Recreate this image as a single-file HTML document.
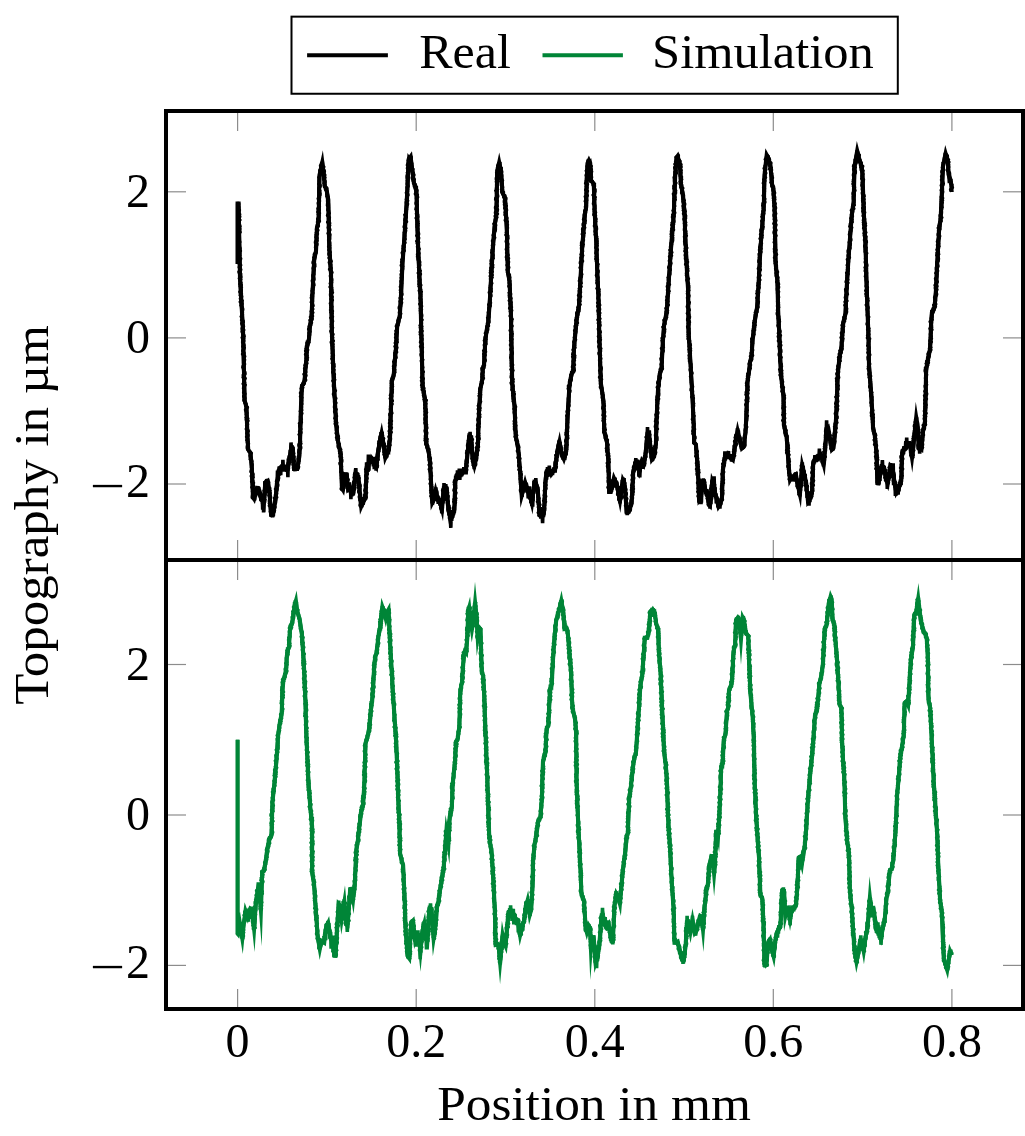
<!DOCTYPE html>
<html><head><meta charset="utf-8"><style>html,body{margin:0;padding:0;background:#fff;}svg{display:block;}</style></head>
<body><svg width="1025" height="1136" viewBox="0 0 1025 1136">
<rect width="1025" height="1136" fill="#fff"/>
<g stroke="#8c8c8c" stroke-width="1.2" fill="none"><line x1="237.6" y1="113" x2="237.6" y2="131"/><line x1="237.6" y1="540" x2="237.6" y2="558"/><line x1="237.6" y1="562" x2="237.6" y2="580"/><line x1="237.6" y1="989" x2="237.6" y2="1007"/><line x1="416.2" y1="113" x2="416.2" y2="131"/><line x1="416.2" y1="540" x2="416.2" y2="558"/><line x1="416.2" y1="562" x2="416.2" y2="580"/><line x1="416.2" y1="989" x2="416.2" y2="1007"/><line x1="594.8" y1="113" x2="594.8" y2="131"/><line x1="594.8" y1="540" x2="594.8" y2="558"/><line x1="594.8" y1="562" x2="594.8" y2="580"/><line x1="594.8" y1="989" x2="594.8" y2="1007"/><line x1="773.3" y1="113" x2="773.3" y2="131"/><line x1="773.3" y1="540" x2="773.3" y2="558"/><line x1="773.3" y1="562" x2="773.3" y2="580"/><line x1="773.3" y1="989" x2="773.3" y2="1007"/><line x1="951.9" y1="113" x2="951.9" y2="131"/><line x1="951.9" y1="540" x2="951.9" y2="558"/><line x1="951.9" y1="562" x2="951.9" y2="580"/><line x1="951.9" y1="989" x2="951.9" y2="1007"/><line x1="168" y1="191.8" x2="186" y2="191.8"/><line x1="1003" y1="191.8" x2="1021" y2="191.8"/><line x1="168" y1="337.9" x2="186" y2="337.9"/><line x1="1003" y1="337.9" x2="1021" y2="337.9"/><line x1="168" y1="484.0" x2="186" y2="484.0"/><line x1="1003" y1="484.0" x2="1021" y2="484.0"/><line x1="168" y1="664.5" x2="186" y2="664.5"/><line x1="1003" y1="664.5" x2="1021" y2="664.5"/><line x1="168" y1="815.0" x2="186" y2="815.0"/><line x1="1003" y1="815.0" x2="1021" y2="815.0"/><line x1="168" y1="965.4" x2="186" y2="965.4"/><line x1="1003" y1="965.4" x2="1021" y2="965.4"/></g>
<path d="M237.6 264L237.6 203.5 238.6 203.5 240 277.3 243 330 243.8 365.2 244.7 400.4 246.5 407.4 247.4 435.6 248.2 449.7 250.5 453.2 251.8 467.3 253 497.2 254.1 498.9 256.9 488 258.5 488.3 259.4 491.6 261 496.8 262 499.9 263.8 503.9 265.3 483.1 267.6 481.3 269.4 491.9 271.1 514.8 272.9 514.8 274.5 504.8 275.1 502.8 277.3 481.3 279 470.8 280.6 467.7 282.2 467.6 283.7 468.1 285.2 467.6 286.4 469.7 287.8 469.3 289.2 460.2 291.5 447.1 292.8 447.9 294 469 297.2 469 299.3 456.7 300.1 439.1 301 405.7 301.9 386.3 304.5 381 306.3 359.9 306.8 347.6 309 338.8 309.8 328 311.6 316 312.5 293 314.2 259.7 316 250.9 316.9 228 318.6 221 319.5 175.2 322.3 162.4 323.9 175.2 324.9 186.9 326.3 188.3 328.3 199.8 329.2 245.6 331 273.7 331.8 330 333.6 377.5 336.2 425 338 440.9 340.6 453.2 342 488.4 342.1 488.4 343 489.9 345.5 474.2 346.7 474.3 348.1 488.6 349.8 486.5 352 493.7 353.2 493.6 355.5 472.9 356.7 474.3 358.5 479.6 361.2 506.5 362.9 502.4 365.5 497.2 366.7 467.3 368.4 463.9 369.6 462.2 371.2 458.3 372.9 461.3 374.3 463.3 376.3 466.7 377.8 453.2 379.6 442.6 381.6 433.2 383.6 444.4 385.3 457.7 387.2 453.2 388.9 449.7 390.1 435.6 391 407.4 391.9 381 393.7 375.7 394.5 365.2 396 347.6 397.2 326.5 399.8 316 401.2 291.3 402.5 263.2 404.2 240.3 406 213.9 407.7 184 408.6 159.4 410.6 156.6 412.5 171.7 413.9 183 415.1 185.1 416.5 192.8 417.4 228 418.8 263.2 420.6 298.4 421.2 330 422.7 386.3 425.3 400.4 426.2 442.6 428.9 453.2 430.1 463.7 431.2 484.8 432.3 502.7 433.3 500.7 435.6 490.6 438 499.7 439.7 500.2 442 509.1 443.8 488.4 446.5 488.4 448.2 506 450.4 520.2 452.3 516.5 454.4 509.5 455.3 481.3 455.9 479.6 457.7 474.2 459.8 476 461.5 473.9 462.6 471 464.2 470.2 465.7 470.7 467.3 456.7 469.1 437.3 471.2 437.3 472.6 458.5 474.4 465.8 476.1 458.5 477.9 444.4 479.1 409.2 480.5 388.1 482.3 379.3 482.8 368.7 484 365.2 485.3 340.6 486.7 330 488.4 321.2 490.2 294.8 491.1 277.3 492.8 249.1 494.6 226.2 496.4 213.9 497.2 171.7 499.2 162.5 501.1 171.7 502.5 192.8 505.1 198.1 506.9 231.5 507.8 272 509.5 280.8 511 316 512.2 382.8 514.5 405.7 515.7 435.6 518.3 449.7 520.1 470.8 521.7 495.6 522.7 491.9 525.1 482.5 527.6 491.5 529.3 492.5 531.9 503.2 534.5 482.4 535.9 483.1 537.7 488.4 539.5 514.8 542.1 516.5 543.9 513 545.6 479.6 546.9 470.8 549.1 469 551.1 474.1 553.3 470.4 555 470 557.1 453.2 559.5 441.9 561.5 453.2 563.9 459 566.2 451.4 568 409.2 569.4 386.3 571.1 375.7 573.2 370.5 574 347.6 577 316 578.8 308.9 580.2 284.3 582.3 245.6 585 213.9 586.2 206.9 586.7 178.7 587.6 162.9 588.9 160.2 590.2 162.9 591.1 180.5 593.8 184 594.6 210.4 596.4 245.6 597.3 272 598.5 298.4 599.2 330 600.8 382.8 603.4 400.4 604.3 432 607 442.6 608.4 462 609.1 491.9 610.8 491.9 613.9 478.1 616.3 483.6 617.2 486.4 620 500.6 622.9 480 624.5 483.1 626.7 511.2 629.8 509.5 631.6 502.4 633.3 470.8 635.9 461.8 637.7 463.7 639.6 470.8 641.9 461.3 643.7 464.4 645.3 456.7 647.4 433.8 648.8 433.8 651.9 459.5 654.1 456.7 655.9 444.4 656.6 418 658 389.8 659.7 374 661.5 368.7 662.9 340.6 664.1 324.8 665.9 316 667.1 307.2 668.5 284.3 671.2 245.6 673.8 213.9 675.2 175.2 676.5 157.6 677.6 156.1 680 164.6 680.9 184 682.6 192.8 684.4 210.4 685.3 236.8 687 272 688.2 291.3 688.5 330 690.6 365.2 692.4 397 693.6 421.5 694.2 442.6 695.9 444.4 697 458.5 698.2 476 699.1 500.7 701.2 500.7 701.7 481.3 704 481.3 705.4 490.4 706.9 491.5 708.8 504.2 710 505.6 712.3 480.9 714 484.8 715.3 494.2 716.2 496.7 718.5 506.7 720.2 504.2 722 497.2 722.8 470.8 724.6 458.5 726.4 456.7 727.9 454.1 729.7 456.5 731.1 458.1 732.9 459.8 734.6 449.7 736 439.1 737.6 430.8 739.5 439.1 741.8 448.2 743.9 446.1 745.7 430.3 746.6 409.2 747.5 381 748.7 374 750.1 361.7 751.5 356.4 752.7 338.8 754.5 323 757.1 307.2 758.6 284.3 759.8 259.7 761.5 233.3 763.8 206.9 764.5 175.2 766.7 155 768.1 157.6 770.3 164.6 772.1 184.7 773.3 187.3 774.7 210.4 775.6 263.2 777.4 280.8 778.3 316 779.1 330 780.9 374 783.5 396.9 783.9 425 786.7 437.3 788.5 463.7 790 479.9 791.9 476.4 793.8 476.2 795.9 474.5 798.5 488.4 799.9 494.5 802.2 465.6 803.5 470.8 806.2 483.1 808 501.4 809.7 498.9 812 491.9 813.2 463.7 814.9 458.7 816.7 459.2 818.7 456.6 820.2 455.5 821.6 456.5 823.7 464.4 825.5 444.4 826.4 428.5 827.9 427.3 829.9 439.1 831.8 449.6 833.4 447.9 834.8 435.6 836.1 418 837.3 388.1 837.8 374 839.6 356.4 841.4 347.6 843.1 323 845.4 314.2 846.6 289.6 848.4 259.7 850.1 236.8 851.9 213.9 853.7 201.6 854.5 166.4 857.2 150.9 858.9 157.6 861.6 166.4 862.5 175.2 863.7 210.4 865.5 245.6 866.5 280.8 867.7 316 868.6 340 869 365.2 870.4 382.8 872.1 409.2 873 426.8 874.8 435.6 876.5 453.2 877.4 483.1 878.6 483.2 881.4 467.4 883 466.9 884.3 468.6 886.2 479.6 887.6 483.3 890.4 465.5 892.4 467.3 894.1 479.6 896.3 492.4 898.5 488.4 901.2 481.3 902.1 453.2 903.8 448.7 905.4 448.3 908 443.4 910 444.4 912 457.4 913.5 444.4 916.2 417.7 917.9 428.5 918.7 447.9 921.4 449.6 923.1 430.3 924.9 423.2 925.8 388 926.1 370.4 928.1 358 928.7 356.4 930.2 347.5 931.1 322.9 931.9 312.5 934.6 307.3 936 289.6 937.2 263.2 939 231.5 940.7 217.5 941.6 198.1 943 166.4 945.6 153.5 947.8 161.1 948.7 175.2 951.3 184 951.6 192" fill="none" stroke="#000" stroke-width="4.1" stroke-linejoin="miter" stroke-miterlimit="60"/>
<path d="M237.6 264L237.6 203.5 238.7 203.5 238.5 204.6 237.7 205.7 238.7 206.8 238.7 207.9 238.5 209 239.4 210.1 238.7 211.2 238.5 212.3 238.1 213.4 239.7 214.5 239.3 215.6 239.8 216.7 238.2 217.8 238.5 218.9 239.9 220 237.9 221.1 237.9 222.2 238.6 223.3 238.7 224.4 239.8 225.5 240.1 226.6 239 227.7 240 228.8 239.8 229.9 239.7 231 240.2 232.1 239.2 233.2 239.3 234.3 238.5 235.5 239.2 236.5 238.9 237.7 239.3 238.7 238.9 239.9 239.4 240.9 239.8 242 238.3 243.2 238.3 244.3 238.6 245.4 239 246.5 239.8 247.6 240.1 248.6 239.9 249.8 240.4 250.8 238.9 252 239.8 253.1 238.8 254.2 239.8 255.3 238.6 256.4 238.9 257.5 240.7 258.6 240.3 259.7 238.8 260.8 239.8 261.9 238.7 263 240 264.1 240.7 265.2 239.5 266.3 239.2 267.4 240.3 268.5 240.8 269.6 240.2 270.7 238.9 271.8 239.3 272.9 240.8 274 240.5 275.1 240.9 276.2 241 277.2 239.4 278.5 240.8 279.5 240.1 280.7 240.4 281.8 241 282.9 239.9 284.1 241.3 285.1 240.2 286.3 241.4 287.3 240.8 288.5 241.3 289.6 241.3 290.7 239.8 291.9 240.2 293 241.4 294.1 240.2 295.3 241.7 296.3 241.4 297.5 240.4 298.6 241 299.7 242.2 300.8 240.3 302 242.1 303.1 242.1 304.2 241 305.4 242 306.4 242.2 307.5 242.7 308.6 242.8 309.8 241.7 310.9 242.5 312 241.8 313.2 242.4 314.3 242.3 315.4 241.2 316.6 242.3 317.7 242.2 318.8 241.6 320 243.2 321 243.3 322.1 241.7 323.3 242 324.4 243.3 325.5 243.5 326.6 242.3 327.8 242 328.9 243.7 330 242 331.1 242.2 332.2 242.8 333.3 243.3 334.4 244 335.5 244.2 336.6 242.2 337.7 243.8 338.8 242.8 339.9 243.8 341 242.6 342.1 243.1 343.2 243.8 344.3 244.1 345.4 242.9 346.5 244.3 347.6 244 348.7 243.3 349.8 242.7 350.9 243.2 352 244 353.1 242.6 354.2 244.2 355.3 244.7 356.4 244.1 357.5 243.8 358.6 244.6 359.7 244.4 360.8 244 361.9 243.6 363 244.6 364.1 244.1 365.2 243 366.3 242.8 367.4 243.5 368.5 243.5 369.6 243.8 370.7 244.8 371.8 245 372.9 245.1 374 243.2 375.1 243.6 376.2 243.1 377.3 245.2 378.4 243.9 379.5 244.2 380.6 243.7 381.7 244.6 382.8 243.2 383.9 245.2 385 244.2 386.1 243.8 387.2 243.5 388.3 243.9 389.4 244 390.5 243.8 391.6 243.6 392.7 244.9 393.8 244.2 394.9 243.7 396 243.8 397.1 244.8 398.2 244 399.3 243.9 400.6 244.8 401.6 245 402.8 245.9 403.8 245.7 405.1 246 406.3 247.4 407.4 246.2 408.5 245.5 409.7 245.8 410.8 246.1 411.9 246.9 413 246.2 414.2 246.6 415.3 246.9 416.4 246.1 417.6 247.8 418.7 246.3 419.8 248 420.9 246.7 422.1 247 423.2 247.6 424.3 246.6 425.5 247.1 426.6 246.9 427.7 246.3 428.9 247.8 429.9 248.3 431.1 247.7 432.2 246.9 433.4 248 434.5 248.1 435.6 246.6 436.8 247.2 438 247.7 439.1 246.8 440.3 248.1 441.5 247.4 442.7 248.5 443.8 248.1 445 247.3 446.2 247.2 447.4 247.3 448.6 248.4 449.6 248.8 451 250.1 451.8 251.3 453.1 250.6 454.4 250 455.6 250.1 456.8 250.5 457.9 250.1 459.2 251.6 460.2 252 461.4 251.5 462.6 252 463.7 252.2 464.9 251.9 466.1 251.5 467.3 251.9 468.4 252.3 469.5 251.2 470.7 250.9 471.8 252.1 472.8 253 473.9 253.1 475 251.3 476.2 253.2 477.2 251.8 478.4 252.1 479.5 252.8 480.6 251.7 481.7 253.5 482.8 253.3 483.9 252.6 485 253.6 486.1 251.9 487.3 253.2 488.3 253.5 489.4 253.7 490.5 252.5 491.7 252.9 492.8 252.6 493.9 252.6 495 252.3 496.1 252.2 497.8 254.5 499 253.8 497.7 254.6 496.7 254.3 495.5 254.2 494.3 255.5 493.4 256.3 492.5 255.4 491.1 255.9 490.1 256.3 489 256.8 488.4 258.4 488.3 258.5 489.5 258.5 490.6 259.6 491.5 259.2 493.1 259.3 494.5 261.5 495.3 260.1 497.1 261 498.5 262.7 499.6 262.5 500.9 262.7 502 262.5 503.3 263.6 503.9 264.1 502.9 264.8 501.8 264.7 500.7 265.1 499.6 264.1 498.5 264.6 497.4 263.7 496.2 264.9 495.2 265.2 494.1 264.9 493 265.2 491.9 264.1 490.7 265.7 489.7 266 488.7 266 487.6 265.1 486.4 265.8 485.3 264.8 484.2 265.9 483.8 266.9 482.8 267.9 481.2 268.7 482.3 268.1 483.6 268.1 484.9 267.8 486.1 268.6 487.2 269.8 488.2 268.3 489.7 270.1 490.6 268.7 491.9 270.2 493 269.9 494.2 269 495.4 270.5 496.4 270.6 497.6 269.9 498.8 269.5 500 269.3 501.1 269.7 502.2 269.3 503.4 270.4 504.5 269.4 505.7 271.4 506.7 271.2 507.9 270.6 509.1 271.2 510.2 270.3 511.4 270.6 512.5 271 513.7 271.1 515.6 273 514.8 272.7 513.6 273 512.5 274.2 511.6 274.5 510.5 273.1 509.2 274.7 508.3 275.1 507.2 274.3 505.9 274.6 504.9 274.5 502.7 275.3 501.7 275.4 500.5 275.7 499.4 274.5 498.2 276.7 497.2 275.8 496 275.7 494.9 276.7 493.8 276.3 492.6 276.2 491.5 276.8 490.4 275.5 489.1 276.7 488.1 276.5 486.9 277.8 485.9 277.9 484.8 276.6 483.5 277.1 482.4 276.5 481.2 277.3 480.1 278.4 479.1 278.7 477.9 278 476.6 277.8 475.4 277.8 474.2 278.9 473.2 279.7 472.1 278.3 470.4 280.1 470.1 279.1 468.3 280.6 467.1 282.4 467 283.9 468.5 285.5 467.4 286 468.5 286.5 470 286.9 469.2 288.5 468.3 287.3 466.9 288.3 465.9 288 464.7 288 463.5 288.9 462.5 288.9 461.3 288.9 460.2 289.2 459.1 289.6 458 289 456.8 289.3 455.7 290.4 454.8 290.6 453.7 290.6 452.6 291.5 451.6 291.2 450.4 291.9 449.4 290.7 448.1 291.2 447.6 292.1 447.9 292 449.1 293.3 450.1 293.4 451.2 292.1 452.4 293.7 453.4 292.1 454.6 292.4 455.7 294.1 456.7 293.9 457.9 292.9 459 294 460.1 294.4 461.2 292.9 462.4 293.9 463.4 293.1 464.6 294.6 465.6 294.1 466.8 293.5 467.9 294 467.9 295.6 468.3 297.6 469.1 298.3 468 298.6 466.9 296.9 465.5 298 464.5 298.7 463.5 298.4 462.3 298.9 461.2 298.1 459.9 298 458.8 298.3 457.7 298.3 456.7 299.5 455.6 299.4 454.5 299.6 453.4 298.7 452.3 298.9 451.2 298.9 450.1 300.4 449 300.8 447.9 300.7 446.8 298.9 445.7 298.9 444.6 300.9 443.5 299.9 442.4 300.6 441.3 299.7 440.2 300 439.1 300.2 438 300 436.9 300.4 435.8 299.1 434.6 300.7 433.5 301 432.4 299.6 431.3 300.2 430.2 300.9 429.1 300.2 428 299.8 426.8 299.7 425.7 300.5 424.6 299.5 423.5 301.4 422.4 301.2 421.3 301.1 420.2 301.4 419.1 301 418 300.5 416.8 300.9 415.7 300.8 414.6 301.9 413.5 301.5 412.4 300.3 411.3 301.8 410.2 301.4 409.1 301.6 407.9 301.7 406.8 300.8 405.7 301.9 404.6 301.9 403.5 301.6 402.3 301.8 401.2 301.8 400 301.1 398.8 301.9 397.7 300.5 396.5 301.1 395.4 301.5 394.3 300.5 393.1 301.3 392 302 390.9 302 389.7 301.2 388.6 302.8 387.5 302.2 386.5 302.1 385.1 303.3 384.3 303.6 383.2 304 382.1 304.3 381 305.7 380 305 378.8 305.2 377.7 305.5 376.6 306 375.5 304 374.2 305.4 373.2 305.8 372.2 304.8 371 305.2 369.9 304.6 368.7 305 367.6 305.5 366.5 304.9 365.4 305.4 364.3 306.9 363.3 306.2 362.1 306.2 361 307.3 359.9 306.5 358.8 307.5 357.7 306.7 356.6 307.2 355.5 305.6 354.3 306.8 353.2 307.2 352.1 305.7 350.9 307.7 349.9 306 348.7 306.7 347.6 306.4 346.3 307.3 345.4 307.9 344.4 307 343 309.1 342.3 308.3 341 308.8 339.9 309.2 338.8 308.8 337.6 308.7 336.4 309.6 335.2 309.5 334 309 332.8 310 331.6 309.2 330.4 308.6 329.1 309.2 327.9 309 326.8 309.4 325.7 310.8 324.8 310.2 323.6 311.5 322.7 311.3 321.5 310 320.2 312.2 319.4 312.2 318.3 310.5 317 312.5 316 311.5 314.8 311.6 313.7 312.8 312.6 311.2 311.4 311.9 310.3 312.8 309.1 312.4 308 311.9 306.8 313.1 305.7 312.7 304.5 312.3 303.4 311.3 302.2 312.5 301.1 312.1 299.9 311.6 298.7 311.3 297.6 312.4 296.5 311.6 295.3 312.3 294.1 312.9 293 312.5 291.9 312.1 290.8 312.9 289.7 312.5 288.6 313.4 287.5 312.9 286.3 314 285.3 313.9 284.2 313.5 283 312.5 281.9 312.3 280.7 314 279.7 313.9 278.6 313.6 277.5 313 276.3 312.9 275.2 313.9 274.2 313.7 273 313.8 271.9 313.9 270.8 314.2 269.7 313.1 268.5 313.3 267.4 314.9 266.4 314.8 265.3 314.8 264.2 313 263 313.1 261.9 313.6 260.8 314 259.7 314.7 258.7 313.8 257.3 315 256.4 314.2 255.1 314.4 254 315.9 253.2 315.9 252 316.3 250.9 315.8 249.7 316 248.6 315.5 247.4 315.8 246.3 316.8 245.2 317 244.1 315.4 242.8 315.5 241.7 317.1 240.6 316.7 239.5 317.1 238.3 315.9 237.1 316.4 236 316.1 234.8 317.4 233.8 316.4 232.6 317.1 231.4 317.9 230.3 316.5 229.1 317 228 317.7 227 318.4 225.9 317.6 224.5 317.8 223.3 317.5 222 319.4 221 317.7 219.9 317.7 218.7 318.8 217.7 318.7 216.5 319.1 215.4 318.3 214.3 319.4 213.2 317.8 212 318.2 210.9 319.2 209.8 317.9 208.7 318.4 207.6 319.4 206.5 319.3 205.4 318.5 204.2 318.2 203.1 318.7 202 319.5 200.9 318.7 199.8 318.2 198.6 319.5 197.6 319.2 196.4 320 195.3 320.1 194.2 320.1 193.1 319 192 319.9 190.9 318.8 189.7 318.8 188.6 319 187.5 320.2 186.4 320.2 185.3 318.8 184.1 319 183 319.1 181.9 319.1 180.8 319.2 179.7 319.2 178.5 318.8 177.4 319.6 176.3 320.1 175.3 319.8 174.1 320.7 173 320.4 171.7 319.8 170.4 321.3 169.5 321.8 168.4 320.8 167 320.5 165.7 321.8 164.7 322.1 163.6 322.1 162.4 321.4 163.7 322.2 164.8 322.1 166 323.8 166.9 322.9 168.2 322.5 169.5 324.2 170.4 324.4 171.6 323.1 172.9 322.9 174.1 324.8 175.1 323.7 176.4 324.9 177.5 323.7 178.7 324 179.9 325 181 325.1 182.1 324 183.4 324.7 184.5 324.2 185.7 325.1 186.7 326.7 188.2 325.5 189.6 326.4 190.6 326.9 191.7 327 192.9 326.8 194.1 327.1 195.3 326.8 196.5 328.1 197.5 327.4 198.8 327.9 199.8 327.5 200.9 327.7 202 327.6 203.2 327.5 204.3 327.4 205.4 328.1 206.5 328.4 207.6 328 208.7 327.8 209.9 328.7 211 328.7 212.1 329.3 213.2 328.1 214.3 327.5 215.5 328.9 216.6 329.4 217.7 329.3 218.8 328.9 219.9 329.2 221 327.7 222.2 329.7 223.2 329.2 224.4 329.7 225.5 328.5 226.6 328.2 227.7 329.6 228.8 329.9 229.9 329 231.1 328.8 232.2 328.1 233.3 330 234.4 329.9 235.5 329.7 236.6 329.7 237.8 329.7 238.9 328.6 240 328.9 241.1 329.7 242.2 329.8 243.4 329.7 244.5 329.9 245.6 328.7 246.8 329.8 247.8 329.3 249 328.8 250.1 329.6 251.2 330.2 252.3 328.9 253.5 328.9 254.7 330.2 255.7 329.8 256.8 329 258 330.1 259.1 330.7 260.2 331.2 261.3 329.3 262.5 329.7 263.6 330.7 264.7 330.4 265.8 330.5 267 331.1 268 329.6 269.3 330.4 270.4 331.4 271.4 332 272.5 331.1 273.7 331.3 274.8 330.4 275.9 330.6 277 330.8 278.1 331.8 279.2 331.8 280.3 331.5 281.4 331.7 282.5 330.3 283.6 331.1 284.7 330.9 285.8 330.1 287 331.7 288 331.1 289.2 332 290.2 330.7 291.4 332.4 292.5 330.6 293.6 330.5 294.7 330.6 295.8 332.2 296.9 331.9 298 330.9 299.1 332.3 300.2 331.4 301.3 331.5 302.4 330.4 303.5 331.2 304.6 330.7 305.7 331.9 306.8 330.8 307.9 331.7 309 330.6 310.1 332.4 311.2 330.8 312.3 332.2 313.4 331.5 314.5 331.5 315.6 332.4 316.7 330.9 317.9 332.1 319 332.1 320.1 332.6 321.2 332.1 322.3 331.8 323.4 331.2 324.5 332 325.6 331.3 326.7 332.6 327.8 332 328.9 331.9 330 330.8 331.1 331.2 332.2 331.6 333.3 333 334.4 332.3 335.5 331.6 336.6 332.7 337.7 332 338.8 332.3 339.9 333.3 341 331.2 342.2 331.6 343.3 333 344.3 332.1 345.5 332.9 346.6 332.7 347.7 332.4 348.8 333 349.9 333 351 332.9 352.1 332.3 353.2 333.3 354.3 333.4 355.4 332.3 356.5 333.2 357.6 331.9 358.8 332.8 359.8 332.5 360.9 333.4 362 332.3 363.2 334 364.2 333.9 365.3 334.1 366.4 332.8 367.6 332.8 368.7 334 369.7 333.6 370.9 332.7 372 333.2 373.1 334.4 374.2 334.1 375.3 334.3 376.4 334.4 377.5 333.9 378.6 334.7 379.7 332.9 380.9 334 381.9 333.9 383 333.6 384.1 333.4 385.3 333.4 386.4 334.4 387.4 334.6 388.5 334.5 389.6 335.4 390.7 334.6 391.8 334 393 333.4 394.1 333.9 395.2 334.3 396.3 334.4 397.4 335.8 398.4 335.2 399.6 335.2 400.7 334.6 401.8 335.9 402.9 335.3 404 335.1 405.1 334.5 406.3 334.5 407.4 335 408.4 336.1 409.5 334.8 410.7 334.6 411.8 335.4 412.9 335.9 413.9 335.7 415.1 336.5 416.1 335.3 417.3 334.8 418.4 335.9 419.5 335.5 420.6 335.3 421.7 336.7 422.8 335.2 423.9 335.9 425 337 426.1 337.4 427.2 337.1 428.3 336.5 429.6 336.4 430.7 337.3 431.8 336.2 433.1 337.5 434.1 337.4 435.2 338.3 436.3 336.6 437.6 338.5 438.5 337 439.9 337.9 440.9 338.1 442 338.3 443.2 339.2 444.1 338.1 445.6 338.1 446.7 338.7 447.8 339.4 448.8 340.7 449.7 339.4 451.1 340.8 452 339.7 453.2 341.2 454.3 340.5 455.4 340 456.5 341.5 457.6 340.7 458.7 341.8 459.8 341.9 460.9 341.7 462 339.9 463.1 340.1 464.2 340.7 465.3 341.5 466.4 340.8 467.5 340.7 468.6 341.5 469.7 341.1 470.8 340.7 471.9 342.5 473 342.1 474.1 341.5 475.2 342.3 476.3 341.8 477.4 341.5 478.5 342.4 479.6 341.7 480.7 342.3 481.8 341.6 482.9 342.2 484 341.6 485.1 342.9 486.2 341.6 487.3 342 487.6 341.2 488.9 343.2 489.9 343.1 488.8 343.1 487.6 343.8 486.6 344.1 485.5 344.4 484.4 344.6 483.2 344.2 482 345.5 481.1 345.3 479.9 345.6 478.8 344.8 477.5 345 476.4 345.5 475.3 345.4 475.1 346.6 474.3 346.8 475.4 347.1 476.5 346.1 477.7 347.5 478.6 348.2 479.7 346.8 480.9 346.6 482.1 347 483.1 347.4 484.2 347.2 485.3 348.3 486.3 347.8 487.5 347.4 487.9 348.3 487 349.9 486.5 350.2 487.7 350.8 488.8 351.8 489.8 350.9 491.4 351.6 492.5 351.9 493.2 352.8 493.6 353.1 492.4 352.9 491.2 352.6 490 354.6 489.1 354.8 488 354.3 486.7 354.9 485.6 354 484.4 355 483.3 353.8 482 355.1 481 354.9 479.8 355.7 478.7 354.1 477.4 355.7 476.4 354.4 475.1 355.4 474 354.7 473.5 357.7 473.9 357.6 475.2 357.8 476.3 358.1 477.4 359.1 478.2 357.6 479.7 357.9 480.8 359 481.8 359.2 482.9 358.8 484.1 360.1 485.1 360.2 486.2 358.4 487.5 359.8 488.5 359.5 489.7 358.7 490.9 358.7 492.1 359.9 493.1 360.6 494.1 360.5 495.3 359.3 496.5 359.4 497.6 361.1 498.6 359.8 499.9 361 500.9 360.8 502 361.6 503.1 360.2 504.4 360 505.5 360.6 506.3 361.9 505.6 361.4 504.2 363.3 503.8 362 502 362.6 501 364.4 500.5 364.1 499.1 365.8 498.6 366.3 497.2 366 496.1 364.8 495 366.1 493.9 366.6 492.8 365.6 491.7 364.8 490.5 365.2 489.4 365.4 488.3 366.4 487.3 365.3 486.1 365.3 485 365.5 483.9 366.4 482.8 366.8 481.7 365.9 480.6 366.6 479.5 367.1 478.4 366.5 477.3 365.7 476.1 366 475 367.4 474 366.8 472.9 366 471.7 366.9 470.6 365.7 469.5 367.7 468.5 366.6 467.2 367.3 466.2 367.9 465.1 367.6 463.4 369.8 462.3 369.7 460.7 370.2 459.4 370.6 458.6 372.6 458.9 372.7 460.1 372.4 461.6 374 462 374.7 463 374.9 464.5 376.2 465.2 377.2 466.8 377.5 465.7 375.5 464.3 376.6 463.3 377.4 462.2 376.7 461 378 460 377.2 458.8 376.6 457.6 377.6 456.6 377.9 455.5 377.4 454.3 378.1 453.3 378.6 452.1 378.2 450.9 378.4 449.7 379.3 448.6 379.2 447.4 379 446.1 380.2 445.1 378.7 443.7 380.2 442.7 379.1 441.3 380.3 440.3 379.8 438.9 380.5 437.8 381.4 436.8 381.7 435.6 382 434.5 382.2 433.1 381.8 434.3 382.6 435.3 382 436.6 382.4 437.7 383.6 438.6 382.6 439.9 382.5 441.1 383 442.2 382.6 443.4 384.3 444.3 384.5 445.4 384.9 446.5 384 447.7 384.3 448.8 384.5 449.9 385 451 384 452.2 385.7 453.1 384 454.5 384.9 455.5 385.1 456.6 385.9 457.9 385.3 456.3 385.6 455.1 386.4 454.2 386.3 452.8 387.4 451.9 388.6 451 389 449.7 388.5 448.5 389.3 447.4 388.3 446.1 390 445.1 388.7 443.8 389 442.6 388.9 441.4 390.1 440.3 390.5 439.2 390.5 438 389 436.7 389.9 435.6 389.8 434.5 389.5 433.3 391.2 432.2 389.2 431.1 390.3 430 390.9 428.9 391.4 427.7 389.6 426.6 390.3 425.4 391 424.3 389.5 423.2 390 422 391.4 421 389.8 419.8 390.4 418.7 390.2 417.5 390.5 416.4 389.8 415.3 389.8 414.1 391.9 413.1 391.4 411.9 391.4 410.8 390.3 409.6 390.4 408.5 391.1 407.4 390.5 406.3 391 405.2 392.1 404.1 390.9 403 390.8 401.9 392.3 400.8 391.5 399.7 390.3 398.6 391.1 397.5 391.7 396.4 390.4 395.3 391.1 394.2 391.9 393.1 392.3 392 391.8 390.9 392.4 389.8 391.6 388.7 391.4 387.6 392.5 386.5 391.5 385.4 392.4 384.3 391.2 383.2 391.5 382.1 391.2 380.8 392.4 380 391.9 378.6 392.4 377.6 392.7 376.6 393.6 375.7 393.4 374.5 393.8 373.4 395 372.3 394.4 371.1 394.9 369.9 393.6 368.7 394.1 367.5 393.5 366.3 394.9 365.2 394.3 364.1 394.2 363 393.7 361.8 394.2 360.7 394.4 359.7 394.8 358.6 396.1 357.6 395.7 356.4 394.8 355.3 395.1 354.2 394.8 353 396.6 352.1 395.4 350.9 396.4 349.8 396.4 348.7 396.9 347.7 395 346.4 395.7 345.4 395.9 344.3 395.3 343.1 397.2 342.1 396 340.9 397 339.9 396.5 338.7 395.6 337.5 396.4 336.5 396.1 335.4 395.7 334.2 396.1 333.1 397.1 332.1 395.9 330.9 396.6 329.8 396.9 328.7 397.2 327.6 396.4 326.3 397.9 325.4 397.3 324 398.5 323.1 398.7 321.9 397.9 320.5 398.3 319.3 398.8 318.2 400 317.3 399.6 316 399.6 314.9 400.7 313.8 399.4 312.6 399.6 311.5 399.8 310.4 399.6 309.2 399.2 308.1 399.3 307 400.7 305.9 400.6 304.8 401.2 303.7 401.6 302.6 400.2 301.4 401.1 300.3 401.7 299.2 400.2 298 401.3 296.9 401.3 295.8 402 294.7 401.9 293.6 400.6 292.4 401.5 291.3 400.4 290.1 401.1 289 401.1 287.9 400.4 286.8 401.2 285.7 401.1 284.5 401.6 283.4 401.1 282.3 400.9 281.1 401.5 280.1 401.7 278.9 401.1 277.8 402.2 276.7 401.4 275.5 401.1 274.4 401.7 273.3 401.9 272.2 401.4 271 402.4 270 402.7 268.8 402.4 267.7 402.8 266.6 401.3 265.4 402.2 264.3 402.2 263.2 401.6 262 402.5 260.9 401.8 259.7 402.8 258.6 403.1 257.5 402.9 256.3 402.7 255.2 402.6 254 402.2 252.8 403 251.7 404.3 250.7 403.7 249.5 403.1 248.3 404.1 247.2 403.1 246 403.8 244.9 404.2 243.8 405 242.7 403.8 241.4 404.4 240.3 405.2 239.3 404.9 238.1 404.7 237 404.8 235.9 404.4 234.8 404.5 233.7 404.2 232.6 405.5 231.5 405.7 230.5 404.7 229.3 405.9 228.3 404.1 227 404.4 225.9 405.3 224.9 404.9 223.8 405.1 222.7 406.5 221.7 404.8 220.4 404.9 219.4 405.1 218.3 406.2 217.2 405.3 216.1 404.8 214.9 406.1 213.9 405.8 212.8 405.6 211.7 406.2 210.6 406.6 209.5 406.4 208.4 406.7 207.3 406.6 206.2 407.2 205.1 407.6 204 406.3 202.8 406.4 201.7 407.6 200.7 406.4 199.5 407.4 198.4 407.4 197.3 407.4 196.2 408.1 195.1 407.8 194 406.4 192.8 407.5 191.8 407.3 190.6 407.5 189.5 407.2 188.4 407 187.3 408.1 186.2 407.7 185.1 407.1 184 407.2 182.9 407.4 181.7 407.1 180.6 407.9 179.5 407.1 178.4 407 177.3 407 176.1 407.2 175 408.5 174 407.3 172.8 408 171.7 408.8 170.6 408.2 169.5 407.5 168.3 409.1 167.3 409.2 166.1 407.4 165 407.9 163.9 408.5 162.8 409.2 161.7 408.3 160.5 409 159.7 408.8 158.1 410.4 157.8 411 156.5 411.2 157.7 410.4 159 410.3 160.2 410.5 161.3 411.2 162.4 411.7 163.5 411.2 164.8 411.5 165.9 411.2 167.1 411.4 168.3 413 169.3 412.6 170.5 412.1 171.7 413.2 172.8 413.5 173.9 414 174.9 412.9 176.2 412.2 177.4 412.3 178.6 414.3 179.5 413.2 180.8 413.9 181.8 413.6 183.1 414.7 183.9 414.2 185.3 414.3 186.4 416.5 187.1 415.3 188.5 416.7 189.4 417.1 190.4 416.8 191.6 416 192.8 415.4 193.9 417.4 195 417 196.1 417.7 197.2 416.5 198.3 416.7 199.4 417 200.5 417.1 201.6 416.1 202.7 416 203.8 417.3 204.9 417.1 206 416.6 207.1 416.3 208.2 415.9 209.3 417.2 210.4 416.6 211.5 416.9 212.6 416.4 213.7 417.8 214.8 417.8 215.9 418 217 416.2 218.1 417.7 219.2 417.2 220.3 418.1 221.4 417.6 222.5 418.3 223.6 417.2 224.7 418.1 225.8 417.1 226.9 417.9 228 418 229.1 417.5 230.2 417.8 231.3 418.1 232.4 418.6 233.5 418.6 234.6 416.8 235.7 418.2 236.8 418.7 237.9 418.5 239 417.9 240.1 416.8 241.2 418.6 242.3 417.2 243.4 418.1 244.5 418.3 245.6 417.5 246.7 418.4 247.8 419.2 248.9 418.2 250 418 251.1 418.1 252.2 418.9 253.3 417.5 254.4 417.7 255.5 417.5 256.6 418.7 257.7 417.9 258.8 418.2 259.9 419.4 261 419.8 262.1 419.5 263.2 419.7 264.3 419.8 265.4 419.3 266.5 418.5 267.6 419.5 268.7 419.1 269.8 420.3 270.8 419.9 272 418.3 273.2 420.4 274.1 419.4 275.3 418.8 276.4 418.9 277.5 419.1 278.6 419.9 279.7 419 280.8 419 281.9 419.2 283 418.8 284.2 420.8 285.2 419 286.4 420.3 287.4 419.6 288.5 420.7 289.6 419.3 290.7 421.3 291.7 420.1 292.9 421 294 420.7 295.1 420.8 296.2 420.2 297.3 419.9 298.4 420.9 299.5 420.3 300.7 421 301.8 421.2 302.9 419.8 304.1 421.1 305.2 421.6 306.3 421.1 307.4 420.3 308.6 421.4 309.7 420.3 310.8 420.8 311.9 420.5 313.1 421.6 314.2 421.8 315.3 421.7 316.4 421.3 317.6 421.1 318.7 422.1 319.8 421 321 421.3 322.1 421.5 323.2 421 324.4 420.1 325.5 421.8 326.6 420.3 327.8 421.6 328.9 420.6 330 422.1 331.1 420.2 332.2 421.4 333.3 420.3 334.4 422 335.5 421.6 336.6 421 337.7 422.1 338.8 422 339.9 421.1 341 420.5 342.2 421.9 343.2 422.3 344.3 421.9 345.4 420.6 346.6 422.4 347.6 421.4 348.8 422 349.9 421.4 351 422.4 352.1 421.6 353.2 421 354.3 421.1 355.4 421.6 356.5 421.9 357.6 421.8 358.7 422.8 359.8 421.3 360.9 421.6 362 422.2 363.1 421.7 364.2 422.3 365.3 422.4 366.4 422.8 367.5 422 368.6 422.1 369.7 422.3 370.8 423.3 371.9 422.1 373.1 422.5 374.2 422.2 375.3 422.2 376.4 421.5 377.5 423.3 378.6 422.6 379.7 421.5 380.8 422.1 381.9 423 383 422.1 384.1 421.6 385.2 422.9 386.3 422.1 387.5 423.9 388.3 422.2 389.7 423.5 390.6 424.3 391.6 423.2 392.9 423.8 394 423.4 395.2 423.8 396.2 424.1 397.3 424.9 398.2 424 399.5 426.3 400.4 424.5 401.5 424.9 402.6 425.9 403.7 424.7 404.9 425.5 406 425.4 407.1 424.7 408.2 426.2 409.3 426 410.4 425.2 411.5 426.5 412.6 425.5 413.7 425 414.9 425.7 415.9 426.2 417 425 418.2 424.9 419.3 425.1 420.4 425.6 421.5 424.9 422.6 425.1 423.7 426.6 424.8 426.1 425.9 426.7 427 426.9 428.1 426.3 429.3 425.1 430.4 425.2 431.5 426.8 432.6 426.7 433.7 426.3 434.8 425.3 436 425.8 437.1 425.2 438.2 427.1 439.2 425.1 440.4 426.8 441.5 425.9 442.7 425.7 444 426.3 445.1 427.7 446 427 447.4 427.8 448.5 429 449.4 428.6 450.8 429 451.9 428.6 453.2 429.5 454.3 428.9 455.6 428.9 456.7 430.1 457.8 430.4 458.9 429.3 460.2 429.9 461.4 430.8 462.4 430.9 463.7 429.2 464.9 430 465.9 430.6 467 431 468.1 429.3 469.3 430 470.4 430 471.5 430.9 472.6 431 473.7 430.9 474.8 431.5 475.9 430.5 477 431 478.1 430.2 479.3 431.2 480.3 431.1 481.5 431.1 482.6 430.2 483.7 431.5 484.8 430.8 485.9 431.9 487 431.2 488.2 432 489.3 430.7 490.5 432.1 491.5 430.9 492.7 431.4 493.8 431.9 494.9 430.9 496.1 432.2 497.1 431.5 498.3 431.9 499.4 432.3 500.5 433.2 501.5 432.2 502.6 432.4 501.5 433.2 500.7 434.5 499.8 433.4 498.4 434.5 497.4 434.7 496.3 434 495 434.6 494 434.3 492.7 436.2 492 436.1 490.5 436 491.7 436.5 492.8 435.8 494.2 436 495.4 436.9 496.4 437.3 497.5 438.5 498.4 437.7 500.6 440.6 500 440.3 501.3 440.5 502.4 440.1 503.7 440.5 504.8 441.5 505.7 440.6 507.1 440.7 508.2 440.9 509 442.4 508 442.1 506.8 442 505.6 442.3 504.5 442.1 503.3 443 502.2 442.9 501.1 443.8 500 443.9 498.8 444.1 497.7 442.9 496.4 443.9 495.4 443.6 494.2 443.8 493 444.6 491.9 442.6 490.6 443.6 489.5 443.8 488.2 445.1 488.7 447.1 488.3 445.5 489.6 447.3 490.5 447.1 491.7 447.7 492.7 447.3 493.9 446.6 495.1 448.2 496 448.1 497.1 447.1 498.3 447.3 499.4 447.1 500.6 448.3 501.5 447.2 502.8 447.5 503.8 447.5 505 449 505.9 448.4 507.1 449.6 508 447.9 509.4 447.9 510.5 448.2 511.6 450.3 512.4 449.7 513.6 449.5 514.8 449.7 515.8 450.7 516.8 449.4 518.1 450.7 519 450.4 520.2 450.3 518.6 451.8 517.8 451.5 516.3 451.8 515.1 453 514.2 452.9 512.9 454.3 512 453.5 510.5 454.2 509.5 453.5 508.3 453.9 507.2 454.4 506.1 454.7 505 454.5 503.9 455.4 502.8 453.8 501.6 455.5 500.5 454 499.3 455.8 498.3 454.9 497.1 454.6 496 455.1 494.8 455.7 493.7 456 492.6 454.8 491.4 453.9 490.3 454.3 489.2 455.8 488.1 455.6 487 455.6 485.8 454.4 484.7 455.3 483.6 454.2 482.4 454.5 481 455.5 479.5 457.2 478.9 456.9 477.6 457.7 476.6 456.4 475 457.8 474.1 459.3 474.4 459.4 475.6 460 474.4 462.3 474.3 461.7 472.3 462.6 471 464 470.5 466.5 470.8 466.8 469.6 466.1 468.4 466.1 467.2 467.1 466.1 466.1 464.8 466 463.6 467.1 462.6 466.2 461.3 466.6 460.2 466.9 459 467.1 457.9 467 456.7 467.3 455.5 467.4 454.4 466.6 453.2 468.5 452.2 466.9 450.9 468 449.9 468.1 448.7 467.9 447.6 467.6 446.4 467.5 445.2 468.2 444.1 468.2 443 468.6 441.9 468.2 440.7 469.4 439.6 469 438.4 469.1 436.2 471.4 437.3 470.3 438.5 472.4 439.5 471.2 440.7 470.5 441.8 471.9 442.9 471.4 444 472 445.1 472.2 446.2 471.6 447.4 471.7 448.5 472.4 449.5 472.1 450.7 472.1 451.8 471.7 453 473.3 454 473.3 455.1 473 456.2 473 457.4 472 458.7 473.1 459.7 472.4 461.1 473.7 462.1 474.2 463.3 473.7 464.7 473.5 465.6 475.7 464.8 475.7 463.5 474.9 462.1 475.1 460.8 476.5 459.9 476.7 458.6 476.6 457.4 475.4 456 477.1 455 475.7 453.7 477.1 452.7 477.1 451.5 478.1 450.4 477.6 449.1 476.4 447.8 478.5 446.9 478.3 445.6 478.1 444.4 476.9 443.3 478.5 442.2 477.8 441.1 478.4 440 479.2 438.9 479 437.8 477.2 436.7 478.8 435.6 478.1 434.5 478.8 433.4 478 432.3 478.2 431.2 478.2 430.1 477.6 429 478.1 427.9 479 426.8 477.6 425.7 477.7 424.6 479.3 423.5 479 422.4 478.8 421.3 477.9 420.2 477.9 419.1 478.4 418 479.8 416.9 479 415.8 479.8 414.7 478.3 413.6 478.8 412.5 479.1 411.4 479.8 410.3 478.3 409.1 480 408.1 479.2 407 478.3 405.8 479.2 404.7 479.2 403.6 479.9 402.6 480.6 401.5 479.7 400.3 480.2 399.2 479.6 398.1 480.5 397 479.1 395.8 480.6 394.8 479.4 393.6 480.4 392.6 479.6 391.4 480 390.3 479.7 389.2 480.2 388 480.9 387 481 385.9 480.9 384.8 481.6 383.7 482.4 382.8 481.5 381.4 482.3 380.4 482.3 379.3 483.4 378.2 482 376.9 482.9 375.8 481.9 374.6 482.1 373.4 483.1 372.3 482.9 371.1 482.2 369.9 481.9 368.4 483.9 367.8 483.3 366.3 484.5 365.2 483.9 364.1 484.4 363 484.3 361.9 485.3 360.8 485.2 359.7 484.3 358.5 484.4 357.4 483.9 356.2 485.1 355.2 483.7 354 484.2 352.9 485.5 351.8 483.7 350.6 485.3 349.6 485 348.4 485.1 347.3 484.6 346.2 484.3 345 486.1 344 485.8 342.9 485.9 341.8 484.4 340.5 486.1 339.5 485 338.2 485.1 337 486 335.9 486.3 334.7 485.4 333.4 487 332.4 486.7 331.2 487.6 330.2 487.8 329.1 487.5 327.9 487 326.6 488.5 325.8 488.2 324.6 487.5 323.3 489 322.4 488.9 321.2 488 320.1 488 319 487.6 317.8 488.8 316.8 488.2 315.7 488.4 314.6 488.4 313.5 488.2 312.3 489 311.3 488.7 310.2 488.8 309.1 488.8 308 489.4 306.9 490.3 305.9 488.8 304.6 490.4 303.7 490.5 302.6 490 301.4 489.9 300.3 490.4 299.2 490.1 298.1 490.4 297 491 296 490.8 294.8 489.7 293.6 489.3 292.4 491.3 291.3 490.1 290.1 491.1 289 490 287.8 490.5 286.6 490.4 285.5 491.2 284.3 491.8 283.2 490.9 282 491.1 280.8 490.6 279.6 490.5 278.4 492.1 277.4 490.3 276.1 492.2 275.1 491.6 273.9 490.4 272.7 492.3 271.7 490.6 270.5 491.7 269.4 490.8 268.2 492.8 267.2 491.4 266 492.7 264.9 491 263.7 492.3 262.7 491.1 261.5 491.1 260.3 492.3 259.3 493.3 258.2 492.7 257 493.2 255.9 493.1 254.8 492.6 253.6 491.7 252.4 492.7 251.4 492 250.2 492.9 249.1 492.6 247.9 493 246.8 492.4 245.6 493.6 244.6 493.1 243.4 493.3 242.2 492.5 241 493.5 239.9 493.7 238.8 494.7 237.7 493.9 236.5 493.1 235.3 493.5 234.2 493.7 233 494.6 232 495.2 230.9 495.4 229.7 495.4 228.6 495.4 227.4 495.4 226.3 495.7 225.2 493.9 223.8 495.1 222.8 495.5 221.8 495.8 220.7 495.8 219.5 496 218.4 496.9 217.4 495.2 216 496.3 215 497.4 213.9 495.4 212.8 495.6 211.7 497.3 210.6 497.5 209.5 495.5 208.3 495.5 207.2 497.3 206.1 497 205 496.6 203.9 496.8 202.8 497.2 201.7 497.3 200.6 495.6 199.4 495.7 198.3 497.4 197.3 497.8 196.2 497.5 195 496.6 193.9 496.4 192.8 496.5 191.7 495.8 190.6 497.5 189.5 496.4 188.3 497.1 187.3 497 186.1 496.6 185 497.4 183.9 496.9 182.8 496.4 181.7 497.9 180.6 496.3 179.5 496.3 178.3 496.6 177.2 497.1 176.1 497.8 175 496.8 173.9 496.6 172.8 497.5 171.8 496.9 170.4 497.8 169.4 497.4 168.1 499 167.3 497.8 165.8 498.1 164.7 498.6 163.6 499.6 162.4 499 163.8 499.3 164.9 499.3 166.1 500.1 167.1 501.3 168.1 500.1 169.5 501.4 170.4 501.7 171.7 501.4 172.8 500.2 174 501.6 175 501.7 176.1 500.6 177.3 500.5 178.4 501.9 179.5 502.5 180.5 501.1 181.7 501.2 182.8 502.3 183.9 501.3 185.1 502.3 186.1 502.6 187.2 502 188.4 501.7 189.5 502.4 190.6 501.7 191.7 503.5 192.3 503 193.9 503.8 194.8 504.9 195.6 503.8 197.4 505.9 198.1 505.8 199.2 504.4 200.4 504.3 201.5 504.4 202.6 505.7 203.6 504.5 204.8 506.3 205.9 505.1 207 504.7 208.2 506.4 209.2 506.6 210.3 505.4 211.5 505 212.6 505.4 213.7 505 214.9 506.2 215.9 506.4 217 507 218.1 506.7 219.2 505.3 220.4 507.3 221.4 507.1 222.6 506.8 223.7 507.5 224.8 507 225.9 507.4 227 507.5 228.1 506.7 229.3 506.8 230.4 506.8 231.5 506.3 232.6 506.9 233.8 506 234.9 507.9 236 507.6 237.1 508 238.2 507.5 239.4 506.5 240.5 506.2 241.6 507.1 242.8 507.9 243.9 507.6 245 507.1 246.1 507.7 247.2 506.6 248.4 506.3 249.5 507.4 250.6 507.1 251.8 506.6 252.9 507.5 254 508.1 255.1 506.5 256.3 506.4 257.4 508.5 258.5 506.9 259.6 507.8 260.7 508.6 261.9 508.3 263 508.3 264.1 507.1 265.3 508.3 266.4 508.8 267.5 508.3 268.6 507.1 269.8 507.8 270.9 507.5 272.1 508.1 273.1 508.9 274.1 509.5 275.1 509.1 276.3 509.9 277.3 509.6 278.5 509 279.7 509.8 280.8 509.6 281.9 509.3 283 510 284.1 510 285.2 508.9 286.3 509.6 287.4 510 288.5 509.8 289.6 510 290.7 510.3 291.8 509.1 292.9 510.6 294 509.2 295.1 509.4 296.2 509.4 297.3 511 298.4 510.3 299.5 509.3 300.6 510.9 301.7 511.2 302.8 510 303.9 511.1 305 510.4 306.1 511.4 307.2 509.7 308.3 511.2 309.4 511.7 310.5 510.4 311.6 511.2 312.7 510.8 313.8 511 314.9 510.1 316 511 317.1 511.3 318.2 512.2 319.3 511.1 320.5 511.6 321.6 511 322.7 510.8 323.8 511.2 324.9 512.1 326 511.2 327.1 511.3 328.2 510.9 329.4 510.2 330.5 511.8 331.6 511.4 332.7 512.2 333.8 510.7 334.9 511.9 336 510.7 337.2 510.7 338.3 512 339.4 510.6 340.5 511.5 341.6 511.6 342.7 511.4 343.8 510.5 345 511.6 346.1 511.6 347.2 512 348.3 510.8 349.4 511.6 350.5 512 351.6 512.3 352.7 512.3 353.8 511 355 511.1 356.1 510.7 357.2 510.8 358.3 511.4 359.4 511.1 360.5 511.4 361.7 511.2 362.8 511.2 363.9 512.6 365 511.2 366.1 512.4 367.2 512.5 368.3 511 369.5 513 370.5 512 371.7 512.4 372.8 511.4 373.9 511.8 375 511.2 376.1 511.1 377.3 511.8 378.4 513.1 379.4 511.8 380.6 513 381.7 511.1 382.9 511.5 384 512.8 385 513.2 386.2 512.2 387.4 512.2 388.6 511.8 389.8 512.7 390.8 513.9 391.9 512.7 393.2 514.3 394.2 512.7 395.5 513 396.6 513.1 397.7 513 398.9 513.8 400 513.1 401.2 513.9 402.3 514.3 403.4 514.6 404.5 514.8 405.7 515.6 406.8 515.3 407.9 514 409 515.3 410.1 514.4 411.3 514.2 412.4 514.4 413.5 514.8 414.6 515.3 415.7 515.4 416.8 515.7 417.9 514.7 419 514.7 420.1 514.2 421.2 515.5 422.3 514.3 423.5 514.4 424.6 515.8 425.6 514.4 426.8 515.1 427.9 514.4 429 514.9 430.1 515.9 431.2 516.1 432.3 515.6 433.4 515.7 434.5 516.7 435.4 515.1 436.8 516 437.8 516.4 438.8 516 440 517.2 440.9 517.6 442 516.9 443.2 517.9 444.2 517.9 445.3 518.6 446.3 518.9 447.4 518.4 448.6 518.2 449.7 517.4 450.9 518.2 451.9 518.8 453 518.9 454.1 519.4 455.2 518.9 456.4 518 457.6 519.9 458.5 519.3 459.7 518.8 460.8 518.8 462 519.3 463 519.2 464.2 518.7 465.3 518.8 466.4 520.4 467.4 519.8 468.6 518.9 469.8 520 470.8 520.9 471.9 519.7 473.1 521.3 474.1 521.2 475.2 520.4 476.4 521 477.5 520.1 478.7 520.2 479.8 521.2 480.9 520.3 482.1 520.6 483.2 520.5 484.3 521.2 485.4 521.3 486.5 522.1 487.6 521.3 488.8 520.4 490 520.6 491.1 522.5 492.1 522.5 493.2 522.2 494.4 522.2 495.7 521.9 494.3 521.6 492.9 522.5 491.9 523.2 490.8 523.8 489.7 523.4 488.3 524.2 487.3 524.6 486.1 524.7 484.9 523.8 483.4 524.6 482.6 526.2 483.4 526.7 484.5 526.1 485.8 527.4 486.7 527.6 487.8 527.2 489.2 527.4 490.3 528 490.7 528.3 492.7 528.8 493.7 529.8 494.6 529.9 495.7 530.7 496.7 529.5 498.1 531.7 498.7 531.5 499.9 532 500.9 530.8 502.3 531.9 503.2 531.8 502.1 531.9 501 533.1 500 531.9 498.7 533.2 497.8 533.2 496.7 532.7 495.5 532.7 494.4 533 493.3 533.2 492.2 533 491.1 533.8 490.1 533.5 488.9 533.4 487.8 534.5 486.8 534 485.6 534.2 484.6 535.2 483.6 534.5 482.3 536.2 483 535.4 484.4 535.6 485.6 536.4 486.5 537.5 487.3 537.3 488.4 537.2 489.5 538.3 490.6 537.4 491.7 537 492.9 537.7 493.9 537.8 495 538.4 496.1 538 497.2 539 498.3 537.9 499.4 538.4 500.5 537.5 501.7 539 502.7 538.3 503.8 539.9 504.8 539.1 506 538.4 507.1 539.6 508.2 538.9 509.3 539.8 510.4 539.5 511.5 538.3 512.7 540.1 513.7 539 515.6 541.3 514.8 542.3 516.6 543.3 515.7 544 514.5 543.7 513 544.2 511.9 544.5 510.8 544.6 509.7 544.7 508.6 544.4 507.4 543.7 506.3 544.7 505.2 544.5 504.1 544.5 503 545.5 501.9 543.7 500.7 545.2 499.7 544.3 498.5 545.2 497.4 545.7 496.4 544.3 495.2 545 494.1 545 493 545 491.8 544.3 490.7 545.4 489.6 546 488.6 545.6 487.4 544.8 486.3 546 485.2 545.2 484 544.7 482.9 545.7 481.8 545.5 480.7 545.7 479.6 546.8 478.7 546.1 477.4 547.1 476.4 545.9 475.2 547 474.2 545.7 472.9 546.3 471.8 547.2 471.1 548.3 470.2 548.4 469.3 549.9 470.2 550.6 471.4 550.9 472.7 551.2 474.1 551 472.3 552.3 471.5 553.4 470.8 554.2 469.9 554.7 468.8 556.1 467.9 556.4 466.8 555 465.5 555 464.3 555 463.2 555.1 462.1 556.8 461.1 556.8 460 555.9 458.7 556.5 457.7 557.1 456.6 555.8 455.3 557.7 454.4 557.9 453.4 556.7 451.9 558 451 558.3 449.9 557.7 448.6 559.1 447.7 558 446.3 558.7 445.3 558.6 444.1 559.2 443 558.9 442.1 559.6 443.1 559.7 444.2 559.1 445.5 560.9 446.3 561.1 447.5 560.5 448.7 561.7 449.7 560.1 451.1 561.6 452 561.6 453.1 562.1 454.3 561.8 455.8 562.1 457 563.1 458 563.2 458.8 563.9 457.8 565 457 564.3 455.6 566 454.9 566.3 453.8 565.3 452.3 565.9 451.4 565.7 450.3 566.8 449.2 565.3 448 566.8 447 565.5 445.8 567.2 444.8 566.6 443.6 566.8 442.5 565.7 441.4 565.7 440.3 566.4 439.2 567.8 438.1 567 437 567.7 435.9 565.9 434.7 566.1 433.6 566 432.5 567.5 431.4 566.4 430.3 566.6 429.2 567.6 428.1 567.7 427 566.9 425.8 567.3 424.7 566.9 423.6 567.6 422.5 567.2 421.4 567.2 420.3 567 419.2 567.2 418.1 567.1 417 566.7 415.8 567.3 414.7 568 413.7 567.3 412.5 567.1 411.4 568.7 410.3 567.9 409.2 568.1 408.1 567.7 406.9 569.1 405.8 568.8 404.7 568.6 403.5 568.8 402.4 568.9 401.2 568.6 400 568.4 398.9 568.5 397.7 568.8 396.6 568.8 395.5 569 394.3 569.1 393.2 569.7 392.1 570 390.9 568.6 389.7 568.2 388.5 568.9 387.4 568.4 386.1 570.2 385.2 570 384 569.5 382.7 569.5 381.5 571.1 380.5 571.3 379.4 571.1 378.1 571.3 376.9 571.6 375.9 571.4 374.6 571.7 373.5 572.5 372.6 573.6 371.9 574.3 370.5 574.2 369.4 574 368.2 572.4 367 572.8 365.9 574.4 364.8 573.5 363.6 573.5 362.5 573.1 361.3 574.4 360.2 573.6 359.1 574.7 357.9 572.7 356.7 574.8 355.7 572.7 354.4 573 353.3 573.6 352.2 574.2 351 573.1 349.9 574.1 348.7 575 347.7 574 346.5 574.8 345.4 574.5 344.2 574.6 343.1 573.8 341.9 574.6 340.8 575.6 339.8 575.2 338.6 574.3 337.4 575 336.3 575.3 335.2 574.9 334 575.6 332.9 575.8 331.8 574.6 330.6 575.1 329.5 576.2 328.4 575.3 327.2 575.1 326.1 576.7 325.1 575.9 323.9 577.4 322.9 576.6 321.7 575.7 320.4 577 319.4 576.3 318.2 577.6 317.2 577.5 316.1 577.9 315 576.7 313.4 576.9 312.2 578.8 311.4 577.7 309.9 578.1 308.9 577.8 307.7 578.2 306.6 578.9 305.5 580.1 304.5 578.7 303.3 578.7 302.2 580 301.1 578.6 299.9 579.7 298.9 579.7 297.7 580.5 296.7 578.6 295.4 579.8 294.4 579.4 293.2 580.5 292.2 579.3 291 580.4 289.9 579.3 288.7 580 287.7 581.1 286.6 579.6 285.4 579.7 284.3 581.2 283.2 580.7 282.1 579.4 280.9 579.8 279.8 579.9 278.7 580.1 277.6 581.4 276.6 581.1 275.5 581.8 274.4 581.2 273.3 581.1 272.2 580.7 271 581.5 270 581 268.8 580.1 267.7 581.1 266.6 581 265.5 581.3 264.4 580.3 263.2 580.4 262.1 582.5 261.1 581.2 260 581.2 258.8 580.9 257.7 581.9 256.7 582.7 255.6 581.1 254.4 581.9 253.3 581.9 252.2 582.6 251.2 582.2 250 581.5 248.9 581.5 247.8 582.7 246.7 581.4 245.5 583.2 244.5 581.5 243.2 581.9 242.1 582.6 241.1 583.5 240 583.1 238.8 583.5 237.7 583.6 236.6 583.7 235.5 582.3 234.2 584.1 233.2 582.7 231.9 582.8 230.8 582.6 229.7 582.7 228.5 584.7 227.6 583.7 226.3 583.1 225.1 583.1 224 585 223 584.5 221.8 585.3 220.8 583.5 219.5 583.8 218.4 584.2 217.3 584.1 216.1 584.1 215 584.4 213.8 585.5 212.8 584.7 211.4 584.9 210.3 585.9 209.2 585.7 208 585.4 206.9 586.4 205.8 586.3 204.6 586 203.5 586.2 202.4 585.3 201.2 586.6 200.1 585.7 199 586 197.9 585.3 196.7 587.3 195.6 586.6 194.5 586.2 193.4 586.6 192.2 587.4 191.1 585.7 190 586.3 188.8 587 187.7 586.3 186.6 587 185.5 587.5 184.4 585.6 183.2 586.2 182.1 586.2 180.9 587.2 179.8 587.3 178.7 587.2 177.6 587.8 176.5 586.2 175.3 586.7 174.2 587.8 173.1 587.7 172 586.3 170.8 588.3 169.7 587.8 168.6 588.1 167.5 587.1 166.3 587.7 165.2 588.5 164.1 588.4 163.3 588.4 161.6 588.2 160.6 588.6 162 589.5 162.9 589.9 164 589.3 165.2 591.2 166.2 590.6 167.3 590.3 168.4 591.3 169.5 590 170.6 591.6 171.7 590.4 172.8 591.2 173.9 591.2 175 590.6 176.1 591.6 177.2 591.1 178.3 590.3 179.4 590.3 181.2 592.2 181.1 592.7 182.1 592.8 183.4 594.5 184 593.1 185.1 594.5 186.2 593.8 187.3 594.3 188.4 595.1 189.5 595.1 190.6 595.1 191.7 594.4 192.8 594.6 193.9 593.1 195 593.9 196.1 595.2 197.2 593.8 198.3 594.9 199.4 594.3 200.5 593.8 201.6 593.6 202.7 593.4 203.8 594.6 204.9 594.9 206 594.7 207.1 594.9 208.2 594 209.3 594.7 210.4 594.2 211.5 595.5 212.6 594.1 213.7 593.8 214.9 595.5 215.9 594.7 217 595.7 218.1 596.1 219.1 595.3 220.3 595.9 221.4 594.7 222.5 595.1 223.6 594.9 224.7 594.4 225.9 596.4 226.9 596.4 228 596.6 229 595.7 230.2 595 231.3 595.3 232.4 595.7 233.5 595.1 234.6 596.2 235.7 596.8 236.8 595.7 237.9 597.1 238.9 596.7 240.1 597.2 241.1 597 242.3 597.2 243.4 596.3 244.5 597.2 245.6 596.2 246.7 595.8 247.8 596.9 248.9 597.4 250 596.2 251.1 596.1 252.2 595.8 253.3 596.6 254.4 596.6 255.5 596 256.6 596.4 257.7 595.8 258.8 597.4 259.9 596.3 261 596.7 262.1 597.1 263.2 598.1 264.3 597.1 265.4 597.6 266.5 596.9 267.6 597.2 268.7 597.2 269.8 598.2 270.9 598.1 272 597.1 273.1 597 274.2 596.4 275.3 596.9 276.4 598 277.5 597.7 278.6 597.6 279.7 597 280.8 598 281.9 596.9 283 597.9 284.1 598.1 285.2 598 286.3 598.3 287.4 597 288.5 599.1 289.6 598.4 290.7 599.1 291.8 597.9 292.9 599.1 294 599.1 295.1 598.6 296.2 598.2 297.3 597.9 298.4 598.6 299.5 599 300.6 598.9 301.8 597.7 302.9 599.3 304 599.7 305.1 597.8 306.3 598.7 307.4 599.5 308.5 599.6 309.7 597.9 310.8 598.3 312 599.8 313.1 598.5 314.2 599.5 315.3 599 316.5 598.7 317.6 599.9 318.7 598 319.9 599.4 321 599.8 322.1 598.4 323.2 599.9 324.3 600.1 325.5 598.8 326.6 599.2 327.7 598.3 328.9 598.6 330 599.9 331.1 600.3 332.2 599.1 333.3 599.4 334.4 599.8 335.5 598.5 336.6 600.1 337.7 599.2 338.8 600.4 339.9 598.6 341 598.6 342.1 599.3 343.2 600 344.3 599.2 345.4 598.8 346.5 599.1 347.6 600.8 348.7 599.8 349.8 600.6 350.9 599.8 352 598.9 353.1 599.1 354.2 600.5 355.3 599.9 356.4 600.4 357.5 600.8 358.6 599.6 359.7 599.6 360.8 600.5 361.9 600.4 363 599.8 364.1 599.8 365.2 600.4 366.3 601.2 367.4 601.3 368.5 601.1 369.6 599.7 370.7 600.5 371.8 600.2 372.9 600.8 374 600.9 375.1 601.3 376.2 599.6 377.3 600.4 378.4 601.5 379.5 600.3 380.6 600.6 381.7 600.6 382.8 600.4 384 600.9 385 600.5 386.2 600.4 387.4 601.8 388.3 601.5 389.4 602.2 390.5 602.3 391.6 602.6 392.7 602.1 393.8 602.9 394.9 603.1 396 602.2 397.2 602.4 398.3 602.9 399.4 602.6 400.4 603.7 401.5 603.2 402.7 604 403.8 603.9 404.9 604.4 406 602.9 407.2 602.7 408.3 604.1 409.4 604 410.5 604.6 411.7 604.5 412.8 603.5 414 603 415.1 604.8 416.2 604.4 417.3 603.3 418.5 604.5 419.6 603.1 420.7 604.3 421.8 604.1 423 604.7 424.1 604.6 425.2 604.3 426.4 604.7 427.5 603.7 428.6 605.3 429.7 604 430.9 603.7 432.2 605 433.1 605.6 434.2 606 435.3 606.4 436.5 605.2 438 605.9 439.1 607.4 440 606.8 441.4 606.8 442.6 607.5 443.7 608.2 444.8 607.4 446 607.7 447.1 606.4 448.4 607.8 449.4 606.6 450.7 606.9 451.8 607.6 452.9 608.6 454 607.2 455.2 608.9 456.2 607.9 457.4 609 458.5 609.1 459.7 608.5 460.8 609.2 462 607.3 463.1 608.3 464.2 607.6 465.3 607.5 466.5 608 467.6 608.2 468.7 608.6 469.8 608 470.9 608.3 472 609.4 473.1 608.6 474.2 608.9 475.3 608.7 476.4 608.3 477.5 608.4 478.6 608.7 479.7 608.2 480.8 608.2 482 609.8 483 609.7 484.1 609.9 485.2 609.7 486.3 608 487.5 609.4 488.6 609.2 489.7 609.2 490.8 609.1 492 610.3 491.8 611.7 490.9 611 489.5 612.3 488.6 612.5 487.4 611 485.9 612.4 485 611.7 483.7 613.7 482.9 612.2 481.3 612.9 480.3 614.2 479.4 613.7 478.2 614 479.3 615 480.2 615.3 481.4 616.4 482.2 616.4 483.6 617.2 484.8 616.8 486.4 618.3 487.3 618.4 488.4 618.5 489.5 618 490.8 618.1 491.9 619.5 492.7 617.6 494.2 618.2 495.3 619.4 496.2 620.1 497.2 618.8 498.5 618.7 499.7 619.3 500.5 620.7 499.5 621 498.4 621.4 497.3 620 495.9 619.9 494.8 620.2 493.6 620.5 492.5 622.1 491.6 622.3 490.4 621.5 489.1 620.9 487.9 621.6 486.8 621.5 485.6 622.6 484.6 622.9 483.5 623.2 482.4 622.6 481.1 623 480 623.5 481 624.2 481.9 624.6 483.1 624.2 484.3 624.2 485.4 625.1 486.4 624.7 487.6 625.7 488.7 626 489.8 625.4 490.9 625.5 492.1 626.3 493.1 626.3 494.3 625.6 495.5 624.6 496.7 624.9 497.8 626.8 498.8 626.2 499.9 626.2 501.1 626.4 502.2 626.9 503.3 626 504.5 625.5 505.6 626.6 506.7 627.1 507.8 627.4 508.9 627.7 510 627 511.7 627.4 510.1 629 510.5 630.4 509.7 629.2 508.1 629.7 507 630.3 505.9 631.6 504.9 631.8 503.7 631.2 502.4 631.6 501.3 631.4 500.1 631.7 499 632.5 497.9 631.4 496.7 632.6 495.7 632.9 494.5 632.3 493.4 633.2 492.3 633.2 491.2 631.5 489.9 633.4 488.9 631.7 487.7 633.1 486.6 631.7 485.4 632.1 484.3 632.5 483.2 633.4 482.1 633.2 481 632.2 479.8 633.7 478.7 633.7 477.6 633 476.4 632.1 475.3 632.6 474.2 632.7 473 633.1 471.9 634.2 471.1 633.8 469.7 634.6 468.7 633.4 467.2 634 466.1 635.4 465.3 634.9 463.9 635 462.7 636.6 461.1 637.5 462 637.9 463.6 637.9 464.9 638.6 466 638.5 467.3 639.4 468.3 640.3 469.4 640 470.9 639.5 469.6 640.2 468.4 640.2 467.2 640.3 465.9 640.1 464.6 640.9 463.5 641.2 462.3 642.6 460.8 643.4 461.8 643.2 463.3 642.7 464.2 644.8 463.5 643.9 462.2 644.3 461.1 644.7 460 643.8 458.7 644.2 457.6 645.9 456.8 645.5 455.6 645.5 454.4 645.3 453.2 646.3 452.2 645.8 451 646.6 449.9 646.8 448.8 647 447.6 646.7 446.4 646.7 445.3 646.4 444.1 646.6 443 646.8 441.8 646.8 440.7 647.6 439.6 647.8 438.5 646.1 437.1 647.7 436.1 647.5 435 647.4 434 647.9 433.9 649.9 434.8 649.1 436 649.5 437.1 648.4 438.4 650.2 439.3 649.5 440.5 650.5 441.5 649.3 442.8 650 443.9 649.6 445.1 650.7 446.1 649.6 447.3 651.6 448.2 651.3 449.4 650.3 450.7 650.1 451.8 650.5 452.9 651.7 453.9 652.3 455 651.1 456.2 651.1 457.4 652.7 458.3 652.7 460.1 652.7 458.6 652.6 457 654.1 456.7 653.9 455.5 653.6 454.3 655.4 453.5 655.7 452.4 654.1 451 655 450 654.8 448.8 655.8 447.8 654.7 446.5 655.4 445.5 655.7 444.4 655.9 443.3 655.8 442.2 656.2 441.1 657 440 657 438.9 657 437.8 656.8 436.7 655.5 435.6 655.6 434.5 656.1 433.4 656.5 432.3 656.5 431.2 655.9 430.1 657.4 429 655.9 427.9 655.3 426.8 655.5 425.7 655.8 424.6 657 423.5 657.2 422.4 655.5 421.3 656 420.2 656 419.1 657.2 418 657.5 416.9 656.2 415.7 655.9 414.6 657.8 413.5 657.9 412.4 657.4 411.3 656.9 410.1 657.6 409 657.7 407.9 657.2 406.7 656.7 405.6 657.3 404.5 657.7 403.4 657 402.2 657.7 401.1 656.7 399.9 658.6 398.9 657 397.7 657.1 396.5 658.7 395.5 658.8 394.4 658.8 393.2 658.6 392.1 658.7 391 658.7 389.9 658.3 388.7 657.3 387.4 658.9 386.5 659.2 385.4 659.3 384.2 657.7 382.9 657.9 381.8 659.5 380.8 659.1 379.6 660.1 378.6 660.4 377.5 659.3 376.2 660 375.2 660 374.1 660.5 373.1 660.1 371.8 661.1 370.9 660.2 369.5 662.4 368.7 662 367.6 662.3 366.5 661.6 365.3 661.1 364.2 661.7 363.1 662.2 362 662 360.8 661.1 359.7 660.9 358.5 661.8 357.4 661.6 356.3 661.6 355.2 661.6 354.1 662.1 353 662.8 351.9 663.3 350.8 662.8 349.6 661.5 348.4 663.4 347.4 662.9 346.2 663.2 345.1 663 344 662.5 342.8 662.5 341.7 662 340.5 663.3 339.5 662.1 338.3 663.6 337.2 664.1 336.2 663.7 335 663.6 333.8 664.2 332.8 664.6 331.6 664.4 330.5 664.8 329.4 663.8 328.2 662.9 327 664.3 325.9 664.4 324.9 665.1 323.9 664.8 322.6 664.5 321.4 663.9 320.2 665.9 319.4 665.7 318.3 666.7 317.3 666.1 316 666.8 315 666.8 313.9 667.4 312.8 666.4 311.6 667.5 310.6 666.6 309.4 665.9 308.2 666.7 307.2 666.8 306 668.3 305 667.1 303.8 666.9 302.6 667.9 301.5 666.6 300.3 667.2 299.2 667.4 298 666.9 296.8 668 295.8 667.7 294.6 668.6 293.5 667.7 292.3 669.1 291.2 667.5 290 668.3 288.9 667.7 287.7 667.3 286.5 668 285.4 669.4 284.4 668.1 283.2 668.6 282.1 668.8 281 668.3 279.8 669 278.8 668 277.6 668.7 276.5 668.6 275.4 669.9 274.4 669.9 273.3 669.8 272.2 669.6 271 670.3 270 670.1 268.9 668.7 267.6 668.9 266.6 670.4 265.5 670.6 264.4 671 263.4 670.6 262.2 669.4 261 670.3 260 670.5 258.9 670.6 257.8 669.6 256.6 671.5 255.6 670.6 254.4 670.2 253.3 671.8 252.3 670.6 251.1 669.9 250 671.3 248.9 670.5 247.8 670.5 246.7 670.8 245.6 671.5 244.5 671 243.3 671.8 242.2 672.5 241.1 672.7 240 672.6 238.9 672.8 237.8 671.4 236.5 672.7 235.5 671.2 234.2 672.4 233.2 671.4 231.9 671.5 230.8 673.5 229.8 671.8 228.6 673.2 227.5 672.8 226.4 671.8 225.1 673.6 224.1 672.1 222.9 674 221.9 673.9 220.8 673.3 219.6 673.3 218.4 672.5 217.2 674.1 216.2 672.7 214.9 673.9 213.9 674.8 212.8 674.3 211.7 673.1 210.6 674.4 209.5 674.4 208.4 673.7 207.3 674.7 206.2 674.3 205.1 674 203.9 674.3 202.8 673.7 201.7 673.8 200.6 675.2 199.6 674 198.4 675 197.3 674.1 196.2 673.8 195.1 673.4 194 675.6 192.9 675.2 191.8 675.7 190.7 674.9 189.6 673.8 188.4 674 187.3 673.8 186.2 675.1 185.2 675.1 184.1 675.9 183 674.5 181.8 674.4 180.7 674.4 179.6 674.3 178.5 674.1 177.4 675.1 176.3 675 175.2 675 174.1 676.4 173.1 675 171.9 676.2 170.9 675.7 169.7 674.8 168.5 674.7 167.4 676.1 166.4 676.8 165.4 675 164.1 676.5 163.1 675.6 162 676.7 160.9 677.1 159.9 676.9 158.7 676.1 157.3 678.4 155.9 676.9 157.4 677.3 158.5 677.6 159.5 678.7 160.4 680.1 161.2 679.7 162.4 678.8 163.8 681 164.6 680.5 165.7 681.1 166.8 679.3 168.1 680.5 169.1 681.2 170.3 680.6 171.4 681 172.6 680.6 173.7 680.2 174.9 680.2 176 681.5 177.1 680.6 178.3 681.7 179.4 680.9 180.6 680.1 181.7 681.4 182.8 680.2 184.1 681.7 185 681.6 186.2 680.9 187.4 682.8 188.2 681.8 189.5 682.1 190.6 681.9 191.8 681.6 192.9 682.3 193.9 683.4 194.9 683.6 196 683.1 197.2 683.6 198.3 683.2 199.4 684.3 200.4 683.1 201.6 683.8 202.7 684.7 203.7 684.7 204.8 683 206.1 683.3 207.2 683.3 208.3 684.5 209.3 683.3 210.4 685.2 211.5 684 212.6 683.5 213.7 685.2 214.8 685.7 215.9 685.4 217 685.6 218.1 684 219.2 684.5 220.3 684.8 221.4 685.7 222.5 684.5 223.6 685.7 224.7 685.7 225.8 684.8 226.9 684.7 228 684.4 229.1 684.4 230.2 685.9 231.3 685.6 232.4 686 233.5 685.2 234.6 686.3 235.7 684.5 236.8 685 237.9 684.7 239 685.5 240.1 684.6 241.2 684.8 242.3 684.9 243.4 685 244.5 686.3 245.6 686.1 246.7 686.8 247.8 685.3 248.9 686 250 684.9 251.2 686.5 252.2 686.2 253.3 685.3 254.4 685.2 255.5 685.7 256.6 685.5 257.7 685.4 258.8 686.9 259.9 686.2 261 687.5 262.1 686.2 263.2 685.6 264.3 686.7 265.4 687.5 266.5 686.6 267.6 687.8 268.7 687 269.8 687.9 270.9 687.2 272 686.4 273.2 686.6 274.3 686.4 275.5 687.4 276.5 687.5 277.7 688.4 278.8 686.9 280 687.4 281.1 687.8 282.2 688.5 283.3 687.9 284.5 688.8 285.6 688.8 286.7 688.9 287.8 688.2 289 688.9 290.1 687.5 291.3 688 292.4 687.4 293.5 688.1 294.6 689 295.7 688.7 296.8 687.5 297.9 688.1 299 687.9 300.1 688 301.3 689.3 302.3 689 303.5 688.5 304.6 687.6 305.7 687.3 306.8 688.1 307.9 688.9 309 689.3 310.1 688.2 311.2 688.6 312.3 687.4 313.4 689 314.5 689 315.6 689.5 316.7 689.4 317.8 687.7 318.9 687.6 320.1 689.2 321.1 689.5 322.3 688.3 323.4 689 324.5 688.2 325.6 687.6 326.7 687.9 327.8 689 328.9 688.3 330 689 331.1 688.1 332.2 689.2 333.3 688 334.4 688.4 335.5 688 336.7 689.3 337.7 688 338.9 688.9 339.9 689.7 341 688.9 342.1 689.7 343.2 690.2 344.2 690.4 345.3 689.2 346.5 690.1 347.6 690.5 348.6 689.1 349.8 690.5 350.9 689.3 352 690.4 353.1 690.2 354.2 689.1 355.4 689.4 356.4 689.4 357.5 689.2 358.7 690 359.7 689.4 360.9 690.1 361.9 690.3 363 690.9 364.1 690.9 365.2 690.5 366.3 691.3 367.4 690.5 368.6 690.1 369.8 690.4 370.9 691.6 372 692.1 373.1 691.4 374.3 691.3 375.4 690.5 376.6 691.2 377.7 691.3 378.8 691.2 380 691.4 381.1 691.2 382.3 691.5 383.4 691.6 384.5 692.3 385.6 692.6 386.7 692 387.9 691.1 389.1 691 390.2 692.5 391.3 692 392.5 692.2 393.6 692.4 394.7 693 395.8 691.8 397 693.4 398.1 693.1 399.2 693 400.3 693.3 401.4 693.3 402.5 693.7 403.6 692.7 404.8 693.6 405.9 692.6 407 692.7 408.1 692.7 409.3 693.1 410.4 692.9 411.5 693.6 412.6 693.3 413.7 692.9 414.8 694 415.9 692.9 417.1 693.2 418.2 692.4 419.3 693.3 420.4 693.5 421.5 693 422.6 694.1 423.7 694 424.8 693.9 425.9 693.2 427.1 693.3 428.2 694.5 429.3 692.9 430.4 692.8 431.5 693.9 432.6 692.9 433.7 693.7 434.8 694.3 435.9 695 437 695.1 438.1 693.9 439.3 693.7 440.4 693.9 441.5 693.7 443 695.2 443.4 695.4 444.4 695.8 445.6 695.8 446.8 696.1 447.9 695.9 449.1 696.2 450.3 697.3 451.4 696.2 452.7 696.2 453.8 696.9 455 695.8 456.2 697 457.3 697.7 458.4 697.1 459.7 697.5 460.8 698 461.9 696.5 463.2 698.1 464.3 697 465.5 698.3 466.6 697.6 467.8 696.6 469.1 698.7 470.1 697.1 471.4 699 472.4 697 473.7 697.2 474.9 698.3 476 697.9 477.1 698.4 478.2 699.1 479.3 698.7 480.5 698.5 481.6 697.6 482.8 699.3 483.8 698.4 485 698.6 486.1 698.5 487.2 698 488.4 698.5 489.5 699.1 490.6 697.8 491.8 698.6 492.8 699.4 493.9 698.8 495.1 698.1 496.2 700 497.3 698.7 498.5 699.1 499.6 699.1 500.2 700.5 500.7 700.6 499.5 701.1 498.4 701.1 497.3 701.5 496.1 700.8 495 701.6 493.9 701.3 492.7 702.1 491.6 702.1 490.4 700.9 489.3 702.6 488.2 701.7 487 701.2 485.9 701.1 484.7 702.1 483.6 701.5 482.4 701.7 481.7 702.9 480.8 703.2 481.4 704.7 482.4 703.5 483.7 704.7 484.7 704.9 485.8 704.7 487 705 488.1 705.1 489.3 705.3 490.5 705.9 491.6 706.5 492.7 708.1 493.7 706.3 495.1 708.6 496 708.7 497.1 707.2 498.5 708.6 499.5 709.3 500.6 709.2 501.8 708.6 503 708.2 504.7 708.9 505.5 709.3 504.4 709.1 503.3 709.3 502.2 710 501.1 710.5 500 711.6 499 711 497.8 711.6 496.7 711.1 495.5 711.9 494.5 711.5 493.3 710.7 492.1 711.1 491 711.4 489.9 710.7 488.7 712.6 487.7 711.7 486.5 711.2 485.4 712 484.3 712.8 483.2 711.7 482 712.1 481 713.7 481.9 714 483.3 714.7 484.7 714.2 486 713.9 487.2 715.1 488.2 714.3 489.5 714.7 490.7 714.5 491.9 714.1 493.2 715.7 494.1 714.8 495.8 716.3 496.7 716.5 497.8 717.4 498.8 717.9 499.9 716.9 501.2 718.3 502.1 718.7 503.2 718.9 504.3 718.1 505.6 717.9 506.4 718.9 505.2 720.8 504.3 720.4 503 720 501.7 721.5 500.8 722.5 499.8 722 498.4 721.9 497.2 722.1 496.1 722.5 495 722.8 493.9 722.8 492.8 721.6 491.7 722.8 490.6 721.4 489.5 721.4 488.4 722.3 487.3 721.6 486.2 722.5 485.1 721.9 484 723.4 482.9 722.3 481.8 723.2 480.7 723.5 479.6 722.5 478.5 723.2 477.4 722.6 476.3 722.4 475.2 721.9 474.1 723.1 473 723.7 471.9 723.2 470.9 722.6 469.6 723.2 468.6 723 467.4 723.2 466.3 724.2 465.3 722.7 463.9 723.9 463 724.1 461.9 723.5 460.6 724.9 459.7 724.2 458.1 725.3 457.4 725.9 456.4 727.3 455.5 728 454 728.5 455.6 729.9 456.4 730.7 458.5 731.9 459 732 459.7 733.1 458.7 732.7 457.5 733 456.4 734.6 455.5 733.8 454.2 734.5 453.2 733.5 451.8 734.7 450.9 733.8 449.6 734.1 448.4 734.1 447.2 734 446 736.1 445.1 736.4 443.9 735.2 442.6 734.6 441.3 736.4 440.3 736.4 439.2 735.2 437.7 737 436.8 735.7 435.4 736.3 434.3 737.7 433.3 737.9 432.1 738.1 430.7 737.8 432 737.5 433.3 738.2 434.4 738.6 435.6 739.6 436.6 740.1 437.7 740.2 438.9 739.7 440.2 739.9 441.4 740.4 442.5 740.4 443.7 740.8 444.8 740.9 446 741.7 447 742.3 448.7 742.9 447.2 744.7 446.2 745.1 445.1 744.9 443.9 744.9 442.8 744.8 441.6 744.7 440.5 744.1 439.3 743.9 438.1 745.3 437.1 744.5 435.9 745.4 434.8 745.4 433.7 745.7 432.6 745.4 431.4 745.1 430.3 745.3 429.2 746.2 428.1 746.7 427 745.5 425.8 745.5 424.7 745.9 423.6 745.9 422.5 746.4 421.4 746.7 420.3 746.8 419.2 746.9 418.1 746.8 417 747.4 415.9 746.3 414.7 746.3 413.6 746.8 412.5 746.1 411.4 747.3 410.3 746.4 409.2 746.8 408.1 746.7 406.9 746.4 405.8 745.7 404.7 746.3 403.5 746.8 402.4 747.8 401.3 746.1 400.2 747.8 399.1 748 398 747.6 396.8 746.5 395.6 746 394.5 747.9 393.4 746.2 392.2 746.7 391.1 748.2 390.1 747.6 388.9 748 387.8 748.1 386.7 746.6 385.5 747.4 384.4 746.5 383.2 747.2 382.1 747.5 381 748.4 380 747.4 378.6 748.5 377.6 747.5 376.2 748 375.1 747.7 373.9 749 372.9 749.1 371.8 749.5 370.7 749 369.5 750.3 368.5 749.9 367.3 749.7 366.2 750.5 365.1 749.1 363.9 749.5 362.8 750.2 361.7 750.7 360.4 751.8 359.3 751.5 357.8 750.5 356.3 752.6 355.4 751.6 354.2 751.1 353.1 752.4 352 752.2 350.9 752.7 349.9 752.1 348.7 751.6 347.6 752.1 346.5 752.2 345.4 752 344.3 752.6 343.2 751.7 342 752 341 751.8 339.8 751.7 338.7 752.9 337.7 753.5 336.6 752.9 335.4 754.1 334.4 753.6 333.2 753.8 332.1 753.1 330.8 754.6 329.9 753.5 328.6 754.7 327.6 753.6 326.3 755.2 325.4 754.8 324.2 753.8 322.9 755.2 322 754.1 320.6 754.8 319.6 755 318.4 755.1 317.3 755.3 316.2 755.1 315 755.8 313.9 755.3 312.7 757 311.8 756.2 310.5 757.2 309.5 756.8 308.3 758.1 307.3 758 306.1 757.7 304.9 758.1 303.8 758.3 302.7 758.4 301.5 757.4 300.3 757.8 299.2 756.8 298 757.5 296.9 757.5 295.7 758.2 294.6 756.9 293.4 758.6 292.4 757.2 291.1 758.1 290 758.3 288.9 759.1 287.8 758.7 286.6 757.8 285.4 759 284.3 758.1 283.2 759 282.1 758.6 280.9 759.8 279.9 758.8 278.7 758.4 277.6 758.6 276.5 760 275.4 758.8 274.2 758.6 273.1 759.3 272 759.6 270.9 760.3 269.8 758.4 268.6 759 267.5 760 266.4 759.5 265.3 760 264.2 760 263.1 758.8 261.9 758.8 260.8 759.1 259.7 759.4 258.6 759.2 257.5 759.5 256.4 759.2 255.2 759.1 254.1 760.3 253.1 760.9 252 759.6 250.9 759.5 249.7 761 248.7 759.7 247.5 759.9 246.4 760.7 245.4 760.3 244.3 761.5 243.2 760.9 242.1 761.1 241 760.8 239.9 760.1 238.7 761.9 237.7 761 236.6 762.1 235.5 760.6 234.3 761.4 233.3 761.7 232.2 760.9 231 760.9 229.9 762.8 229 762.9 227.9 763.2 226.8 762.3 225.6 762.8 224.5 762.6 223.4 762.4 222.3 761.8 221.1 763 220.1 762.6 219 763.2 217.9 761.9 216.7 762.6 215.7 762.3 214.5 763.8 213.6 763.3 212.4 762.9 211.3 764.1 210.3 763.7 209.1 763.2 208 763.6 206.9 762.7 205.7 762.9 204.6 762.9 203.5 764.9 202.4 764.8 201.3 764 200.1 764.9 199 764.1 197.8 764.4 196.7 763.2 195.6 763.9 194.4 764.3 193.3 763.9 192.2 764.5 191.1 763.8 189.9 764.5 188.8 763.6 187.6 764.2 186.5 764.1 185.4 764.4 184.3 763.3 183.1 763.8 182 764.8 180.9 763.7 179.7 764.4 178.6 765.5 177.5 764.7 176.3 765 175.3 765.2 174.1 765.8 173.1 764.6 171.8 764.8 170.7 765.7 169.6 764.2 168.4 765.3 167.3 765 166.2 765.7 165.1 766.2 164 766.6 162.9 766 161.7 766.5 160.7 765.3 159.4 766.7 158.4 767.4 157.3 766.8 156.2 766.7 155 767.4 156.3 768.3 157.5 769.1 158.6 769.5 159.7 768.6 161.3 769.5 162.3 770.9 163.1 770 164.6 769.7 165.8 770.2 166.9 771.3 167.9 769.7 169.1 771.5 170.1 770.9 171.3 771.1 172.4 771.8 173.5 771.7 174.6 772 175.7 772.1 176.8 772.5 177.9 771.3 179.1 771.3 180.2 772.3 181.3 770.9 182.5 772.1 183.5 772.2 184.6 771.8 186.4 773 187.3 773.5 188.4 772.9 189.6 773 190.6 774 191.7 774.6 192.8 773.2 193.9 773.2 195 773.6 196.1 774.7 197.2 773.4 198.3 774.8 199.4 773.5 200.5 773.9 201.6 773.9 202.7 775.2 203.7 774.7 204.9 773.9 206 775.4 207.1 775.6 208.1 774.8 209.3 773.9 210.4 774.4 211.5 775.3 212.6 775.7 213.7 774 214.8 774 215.9 774.4 217 775.5 218.1 774.3 219.2 775.9 220.3 775.6 221.4 775.3 222.5 773.9 223.6 776 224.7 775.7 225.8 774.5 226.9 774.4 228 775.5 229.1 776 230.2 774.3 231.3 774 232.4 774.2 233.5 775 234.6 776 235.7 774.6 236.8 774.8 237.9 774.5 239 774.6 240.1 775.2 241.2 774.2 242.3 775.3 243.4 775.4 244.5 775 245.6 774.7 246.7 775.1 247.8 774.4 248.9 775.9 250 774.5 251.1 774.6 252.2 775.8 253.3 776.5 254.4 775.2 255.5 775.2 256.6 774.5 257.7 775.4 258.8 775.1 259.9 775 261 776.3 262.1 775.2 263.2 775.8 264.3 776.4 265.3 776.4 266.4 776.4 267.6 775.6 268.8 776.2 269.8 776.8 270.9 777.5 271.9 776 273.2 776.2 274.3 776.1 275.4 776.3 276.5 778 277.4 777.7 278.6 777.4 279.7 777.8 280.8 776.7 281.9 778.1 283 778.6 284.1 777.6 285.2 778.5 286.3 778.6 287.4 777.4 288.5 777.4 289.6 777.6 290.7 778.6 291.8 777.6 292.9 777.7 294 778.2 295.1 778.4 296.2 778.6 297.3 777.9 298.4 778.2 299.5 777.7 300.6 777.6 301.7 778.5 302.8 777.8 303.9 778.6 305 777.5 306.1 778.7 307.2 777.9 308.3 777.6 309.4 777.5 310.5 778.1 311.6 777.3 312.7 777.2 313.8 777.6 314.9 778.6 316 778.9 317.1 778.2 318.3 779.3 319.5 779.3 320.6 779.5 321.8 778.4 323 779 324.2 777.9 325.4 778.2 326.5 778.9 327.7 779.4 328.8 779.5 330 780.1 331.1 780 332.2 778.4 333.3 779.7 334.4 780.4 335.5 778.3 336.6 779.7 337.7 778.9 338.8 779.6 339.9 778.5 341 780.5 342.1 779.7 343.2 779.4 344.3 780.8 345.4 778.9 346.5 780.2 347.6 779.5 348.7 780.8 349.8 780.9 350.9 780.9 352 779.4 353.1 779.1 354.2 779.2 355.3 780.1 356.4 781.1 357.5 779.7 358.6 780.3 359.7 779.7 360.8 780.1 361.9 780.3 363 781.2 364.1 781.3 365.2 781.5 366.3 780.8 367.4 781.1 368.5 779.7 369.6 781.8 370.7 780.2 371.8 781.7 372.9 781.8 373.9 780.1 375.2 781.8 376.2 781.1 377.5 781.2 378.6 781.8 379.7 782 380.8 782.6 381.9 781.5 383.2 782.3 384.3 782 385.5 781.6 386.7 783.4 387.6 782.8 388.9 783 390 781.9 391.3 782.7 392.4 783.8 393.4 783.3 394.6 784.4 395.6 783.5 396.9 784.5 398 784.3 399.1 783.5 400.3 783.5 401.4 784.2 402.5 783.4 403.6 784 404.8 783.2 405.9 784.6 407 782.9 408.2 783.8 409.3 784.4 410.4 784.2 411.5 783.4 412.6 784.6 413.7 782.8 414.9 784.4 416 784 417.1 784.7 418.2 783.9 419.4 782.8 420.5 784.5 421.6 784.6 422.7 783.8 423.9 783.6 425.1 784.9 425.9 785 427.1 784.4 428.4 785.5 429.3 786.2 430.4 785 431.8 784.9 433 785.3 434.1 785.4 435.2 787.1 436 787.1 437.3 786.6 438.4 786.6 439.5 786.6 440.6 786.9 441.7 787.7 442.8 787.7 443.9 788.1 444.9 788.3 446 787.2 447.2 788.4 448.2 786.7 449.5 786.6 450.6 788.5 451.5 786.7 452.8 787.6 453.8 789 454.8 788.2 456 788.4 457.1 788.5 458.2 789.1 459.2 788.8 460.4 789.4 461.4 788.5 462.6 788.5 463.7 789.2 464.8 787.8 466.1 788 467.2 788.9 468.3 788.4 469.5 789.4 470.6 788.7 471.8 788.7 473 789.8 474.1 789 475.3 790 476.4 790.5 477.5 790 478.7 789.2 479.4 791 479 790.8 477.3 791.9 476.4 794.3 476.8 795 475.5 795 474.6 795.6 475.7 795.9 476.9 796 478 796.3 479.2 796.1 480.4 797 481.5 797.1 482.7 797.5 483.8 797.8 484.9 797.1 486.3 798.7 487.2 799.2 488.2 798.8 489.6 799.5 490.8 798.9 492.2 799.3 493.3 798.8 494.4 799.3 493.3 800.3 492.3 799.9 491.2 800.6 490.1 800.3 488.9 799.6 487.8 800.9 486.8 801.6 485.7 799.8 484.4 801 483.4 801.1 482.3 801.2 481.2 801.1 480.1 801.2 479 802.3 477.9 802.1 476.8 801.3 475.6 802.2 474.6 802 473.4 802.3 472.3 802.9 471.3 800.9 470 801.3 468.9 801.4 467.8 802.8 466.8 801.3 465.8 803.1 466.8 802.9 468.2 802.3 469.7 803 470.9 803.6 472 803.1 473.2 803.3 474.4 805.4 475.1 803.7 476.6 805.4 477.4 805 478.7 804.9 479.9 806.2 480.8 806.4 481.9 805.3 483.2 805.7 484.3 805.4 485.5 807.4 486.4 806.4 487.7 806.2 488.9 805.9 490.1 806.5 491.2 807.6 492.2 808.1 493.3 808 494.5 808 495.6 807.4 496.8 808.1 497.9 808.5 499 808.8 500.2 808.3 501.6 809.4 500.5 808.9 498.6 810.1 497.7 811.5 496.9 810.6 495.3 811.3 494.3 812.3 493.3 811 491.9 812.9 490.8 812.7 489.7 812.7 488.5 811.8 487.4 812.2 486.3 813.3 485.2 811.4 484 811.5 482.8 812.7 481.8 813.5 480.7 811.8 479.5 811.9 478.3 812.5 477.2 813.3 476.1 812.9 475 813.1 473.9 811.8 472.7 812.2 471.6 813.1 470.5 813.5 469.4 812.1 468.2 812.2 467 812.7 465.9 813 464.8 812.9 463.6 812.9 462.2 813.2 460.9 814.8 460 814.6 459.6 816.9 459.4 818.4 458.4 818.2 455.9 820 455.7 821.9 456.4 821.2 457.8 822 458.8 822.3 460 821.9 461.3 822.1 462.4 824.2 463.1 823.6 464.4 822.9 463.2 824 462.2 823.4 461 824.5 460 823.9 458.8 823.2 457.6 825.3 456.7 823.7 455.4 824.1 454.4 824.7 453.3 823.8 452.1 825.5 451.1 825.5 450 824.3 448.8 825.5 447.8 824.5 446.6 825.5 445.5 824.6 444.3 825.1 443.2 825.5 442.1 825.8 441 826.1 439.9 826.8 438.8 825.5 437.6 825.6 436.4 825.4 435.3 826.6 434.2 825.9 433 825.6 431.9 825.6 430.7 826.2 429.6 826.9 429.1 828.1 427.2 827.5 428.6 828.4 429.6 828.3 430.8 829.3 431.9 829.1 433.1 828.6 434.4 830.2 435.4 829.6 436.7 830.2 437.8 830.4 439 830.5 440.2 831 441.3 830.4 442.6 831.7 443.6 831.5 444.9 831.7 446 832.1 447.2 830.9 448.6 832.1 449.9 833.2 449.3 832.6 447.8 832.8 446.7 833.2 445.6 833.8 444.5 834.6 443.5 834.8 442.4 835 441.3 833.2 440 833.4 438.8 834.2 437.8 834.5 436.7 833.7 435.5 834.6 434.5 834.1 433.3 835.9 432.4 834.5 431.2 834.8 430.1 834.6 428.9 836.1 428 834.6 426.7 835.4 425.7 835 424.6 835.1 423.5 836.9 422.5 836.3 421.3 836.5 420.2 835.7 419.1 837.1 418 837.2 416.9 836.5 415.8 835.6 414.7 835.3 413.5 836.4 412.5 836.3 411.4 837.2 410.3 837.6 409.2 837.2 408.1 836 406.9 837.7 405.9 836.9 404.7 835.7 403.6 836.1 402.5 837.8 401.4 837.5 400.3 837.4 399.2 837.3 398.1 835.9 396.9 837.9 395.9 836.6 394.7 837.7 393.7 837.2 392.5 837.1 391.4 837.3 390.3 838.2 389.2 838 388.1 837.1 386.9 838.2 385.8 836.7 384.5 837.1 383.4 837.1 382.2 836.6 381 837.4 379.9 836.5 378.7 838.7 377.6 838.4 376.4 837.7 375.2 836.8 373.9 837.4 372.8 838.6 371.9 837.7 370.7 837.4 369.5 838.2 368.5 838.6 367.4 837.8 366.2 838.4 365.2 838.9 364.1 839.5 363.1 838.8 361.9 840.2 360.9 838.7 359.6 839.9 358.7 838.6 357.4 840.5 356.6 839.9 355.3 839.3 354.1 841 353.2 841.3 352.2 839.9 350.7 841.8 350 842.2 348.9 841.1 347.6 842.1 346.5 842 345.4 841.8 344.3 841.5 343.1 841.4 342 842.6 340.9 842.6 339.8 843 338.7 841.1 337.5 842.3 336.4 842.7 335.3 841.7 334.1 841.4 333 843.3 332 843.2 330.9 843.1 329.7 842.3 328.6 842.7 327.5 843.6 326.4 842.1 325.2 843.5 324.2 843.5 323.1 843.3 321.9 844.6 321.1 844.2 319.8 845.1 318.8 843.9 317.3 844.6 316.3 844.7 315.2 845.4 314.2 846 313.1 846.6 312 846.5 310.9 846.4 309.8 846.7 308.7 846.2 307.5 846.3 306.4 844.9 305.2 845.7 304.1 845.9 303 845.1 301.9 846.9 300.8 845.8 299.6 845.6 298.5 845.3 297.4 846.4 296.3 846 295.2 847.4 294.1 846.7 293 846.3 291.8 845.8 290.7 845.6 289.5 847.1 288.5 847 287.4 846.8 286.3 846.9 285.2 846.7 284.1 847.9 283 846.1 281.8 846.5 280.7 847.8 279.7 846.9 278.5 847 277.4 847.3 276.3 847 275.2 848.1 274.1 846.7 272.9 847.8 271.9 848.2 270.8 847.5 269.6 848.4 268.6 847.6 267.4 848.3 266.4 847.2 265.2 847.7 264.1 848.3 263 848.5 261.9 848.3 260.8 847.4 259.6 848.6 258.6 849.4 257.5 848.2 256.2 848.1 255.1 849.1 254 848.3 252.8 848.1 251.6 848.1 250.5 849.4 249.4 850.1 248.3 849.9 247.1 849.6 246 850.3 244.9 850.4 243.7 849.2 242.5 849.5 241.4 850.9 240.3 850.9 239.2 850.3 238 850.4 236.8 849.8 235.6 849.4 234.4 850 233.3 849.9 232.2 850.8 231.1 851 230 851 228.8 851.7 227.7 849.8 226.4 850.4 225.3 850.2 224.1 850.9 223 852.2 222 851.3 220.8 852.1 219.7 850.8 218.4 851.3 217.3 852.4 216.2 851.4 215 852.4 214 852.3 212.8 852.6 211.7 851.4 210.4 852.3 209.4 853.8 208.5 852.6 207.2 852.6 206 854.3 205.1 853.6 203.9 854 202.8 853.7 201.6 854 200.5 853.5 199.4 853.3 198.3 853.3 197.2 853.2 196.1 854.3 195 853 193.9 853.1 192.8 853.9 191.7 855 190.6 854.6 189.5 854.4 188.4 854.6 187.3 853.4 186.2 854.1 185.1 853 184 854.2 182.9 853.1 181.8 853.3 180.7 853.4 179.6 853.9 178.5 854.2 177.4 853.7 176.3 853.4 175.2 853.5 174.1 855.3 173 855.4 171.9 855.3 170.8 853.6 169.7 853.8 168.6 855.3 167.5 853.5 166.2 853.9 165.2 855.2 164.2 856.1 163.3 856.2 162.1 856.2 161 855.3 159.7 856.4 158.8 857 157.7 857.1 156.6 857.5 155.5 857.2 154.4 857.4 153.3 857.5 152.1 857.4 150.9 857.3 152.1 856.9 153.4 857.9 154.3 859.3 155.1 858.7 156.5 858.1 157.8 858.8 158.8 859.6 159.8 859 161.2 859.7 162.2 861.2 162.9 860.5 164.3 860.5 165.5 862.7 166.3 860.8 167.6 862 168.6 861.2 169.8 863.1 170.7 862.6 171.9 862.7 173 863 174 862.2 175.2 861.9 176.3 862.2 177.4 861.7 178.5 863.5 179.6 863.2 180.7 862.9 181.8 862.1 182.9 862.3 184 861.8 185.1 862.1 186.2 862.8 187.3 862.4 188.4 862.3 189.5 863 190.6 862.7 191.7 862.3 192.8 862.4 193.9 863.9 195 864.2 196.1 862.8 197.2 862.6 198.3 864 199.4 862.6 200.5 862.8 201.6 864.2 202.7 864.2 203.8 863.2 204.9 863.3 206 864.3 207.1 862.7 208.2 864.3 209.3 863 210.4 862.8 211.6 864.6 212.6 863.4 213.7 863.8 214.8 863.1 215.9 864.2 217 864.3 218.1 864.7 219.2 863.4 220.3 864.7 221.4 863.4 222.5 865.4 223.5 863.6 224.7 865.5 225.7 864.1 226.9 863.6 228.1 865 229.1 864.5 230.2 865 231.3 865.8 232.4 864.1 233.5 865 234.6 864.3 235.7 866.1 236.7 865.8 237.9 865.8 239 864.5 240.1 866.3 241.1 866.4 242.2 865.7 243.4 865.7 244.5 864.7 245.6 864.7 246.7 866.1 247.8 865.1 248.9 865.9 250 865.1 251.1 865.3 252.2 866.7 253.3 865.8 254.4 865.9 255.5 865.9 256.6 865.7 257.7 865.5 258.8 866.1 259.9 865.9 261 865.2 262.1 865.6 263.2 866.7 264.3 866.9 265.4 866.6 266.5 865.1 267.6 866.4 268.7 865.4 269.8 865.2 270.9 865.8 272 866.6 273.1 865.8 274.2 866.3 275.3 865.4 276.4 866.4 277.5 866.1 278.6 866.1 279.7 866.2 280.8 867.2 281.9 866.4 283 866.8 284.1 866.3 285.2 866.1 286.3 867.4 287.4 867 288.5 867.3 289.6 865.8 290.7 866.9 291.8 867 292.9 865.9 294 866.4 295.1 866.2 296.2 867.1 297.3 867.9 298.4 867.4 299.5 868.1 300.6 867.4 301.7 867.4 302.8 867.3 303.9 866.3 305 867.3 306.1 868.1 307.2 868.1 308.3 867.1 309.4 867.5 310.5 867.7 311.6 867.6 312.7 867.8 313.8 867.3 314.9 867.5 316 868.7 317.1 867.8 318.3 868.4 319.4 867.7 320.6 868 321.7 867.4 322.9 867 324 867.5 325.2 867.8 326.3 868.1 327.4 869 328.5 867.7 329.7 868.9 330.8 868.6 332 868.2 333.1 868.9 334.3 867.6 335.5 868.4 336.6 867.5 337.8 869.6 338.8 868.7 340 869 341.1 868.5 342.3 868.3 343.4 868.5 344.6 867.7 345.7 868.8 346.9 869 348 868.2 349.2 868.6 350.3 869.3 351.4 867.9 352.6 869.4 353.7 869.8 354.9 868.8 356 868 357.2 868.1 358.3 868.2 359.5 868.7 360.6 868.9 361.8 869.4 362.9 869.7 364 869.1 365.2 868.4 366.4 869.1 367.4 868.2 368.6 868.7 369.7 869.3 370.7 869.3 371.8 869.8 372.9 868.8 374.1 869.1 375.2 870.6 376.1 869.1 377.4 869.7 378.4 870.4 379.5 869.7 380.6 870.5 381.7 870 382.8 870.5 383.9 870.3 385 869.7 386.2 869.8 387.3 870.8 388.3 871.1 389.4 870.4 390.5 870.6 391.6 871.9 392.6 871.1 393.8 871.7 394.9 870.9 396 872.1 397.1 871.8 398.2 872 399.3 872 400.4 871.5 401.5 870.9 402.7 871.4 403.7 871.5 404.8 871.3 405.9 872.2 407 872.2 408.1 871.8 409.2 872.8 410.3 871.7 411.4 871.3 412.5 871.5 413.6 873.3 414.7 871.5 415.8 873.1 416.9 873.4 418 872.3 419.1 873 420.2 873.4 421.3 872.5 422.4 872.8 423.5 872.8 424.6 872.9 425.7 872.7 426.9 872.6 428 873 429.1 873.2 430.2 873.2 431.3 874.2 432.3 874 433.5 875.4 434.3 875.7 435.5 875 436.7 874.6 437.8 875.7 438.8 874.2 440.1 875.8 441.1 875.5 442.2 875.6 443.3 874.6 444.5 876.5 445.4 876.4 446.5 875.7 447.7 876.4 448.8 876.5 449.9 877.1 450.9 875.5 452.2 876.6 453.2 876.4 454.3 877.1 455.4 875.6 456.6 877.5 457.6 876.2 458.8 877.7 459.8 876.7 461 877.2 462 875.8 463.2 877 464.3 876.1 465.4 877.9 466.5 877.5 467.6 875.9 468.7 877.3 469.8 878 470.9 877.6 472 877.4 473.1 877.1 474.2 877.4 475.3 877.6 476.4 877.3 477.6 877.3 478.7 878 479.8 877.3 480.9 877.2 482 877.4 483.3 879.1 483.3 878.7 482 878.3 480.8 880.1 480 878.5 478.5 879.1 477.5 879.6 476.4 879.8 475.2 879.5 474 881.1 473.2 880.1 471.8 880.9 470.8 881.2 469.7 880.4 468.4 881.3 467.2 883.6 466.4 884.2 468.6 884 469.8 883.9 470.9 883.9 472 885.9 472.8 885.3 474.1 885.1 475.2 885.9 476.2 884.9 477.6 886 478.5 885.4 479.9 887.6 480.5 887.4 482 888.1 483.4 888.5 482.3 888 481.1 888.9 480.1 888.9 478.9 888.3 477.7 889.1 476.7 888.9 475.5 888.2 474.3 890.1 473.4 890.1 472.3 890.4 471.2 889.2 469.9 890.5 468.9 889.1 467.6 890.3 466.6 890.7 465.2 891.4 466.4 892.7 467.3 892.4 468.4 892.9 469.5 892.3 470.7 892.7 471.8 893.7 472.8 894 473.9 894.1 475 894 476.2 894 477.3 893.9 478.5 893.5 479.7 893.3 480.9 895 481.8 895.2 483 894.9 484.3 896.2 485.2 895 486.6 896.5 487.6 895.5 488.9 895.7 490.1 896.4 491.2 897.3 492.9 896.5 491.2 896.5 489.9 897.2 489 898 488.2 899.4 487.4 899.9 486.2 899.5 484.7 901.1 484 900.1 482.2 900.6 481.3 901.4 480.2 901.3 479.1 901.9 477.9 900.9 476.8 902.3 475.7 901.7 474.6 901.9 473.4 901.7 472.3 900.9 471.2 901.7 470.1 902.6 469 900.6 467.8 901.3 466.7 901.3 465.6 901.2 464.4 902.4 463.3 902.1 462.2 901 461 902.3 460 902.8 458.8 901 457.7 900.9 456.5 902.3 455.5 902.9 454.4 902.2 453.2 902.5 452.1 902.8 450.9 903.5 449.9 904.1 449.6 905.6 448.4 906.6 447.3 906.6 445.8 908.1 445 907.7 444 909 443.9 910.4 444.3 910.6 445.5 909.3 446.9 910.3 448 911.7 449 910.9 450.3 911.3 451.5 911.1 452.7 912 453.8 910.8 455.2 911.9 456.2 912.8 457.5 911.6 456.1 913.2 455.1 912.5 453.8 912.7 452.7 912.6 451.5 913.8 450.4 913.1 449.1 913.2 447.9 912.9 446.7 913.3 445.6 913 444.3 913.5 443.3 913.2 442.1 912.9 441 913.7 439.9 913 438.7 914.5 437.8 913.4 436.5 915.3 435.6 914.1 434.4 914.1 433.2 914.8 432.2 914.4 431 915.4 430 914.6 428.8 916.1 427.8 914.3 426.5 914.4 425.4 916.3 424.5 916 423.3 915.2 422.1 916.1 421.1 915.6 419.9 916.1 418.8 916.7 417.7 916.3 418.9 916.2 420.2 916 421.4 917.5 422.4 917 423.7 917.2 424.9 916.7 426.2 917.8 427.3 917.1 428.5 917 429.7 918.2 430.8 918.2 431.9 917.1 433.1 918 434.2 918.1 435.3 917.6 436.5 918 437.6 918.3 438.8 918 439.9 918.9 441 918.7 442.2 919.6 443.3 918.1 444.5 917.9 445.6 918.1 446.8 918.1 448.8 919.8 449.2 920.5 449.5 921.1 448.4 922.5 447.4 920.8 446.1 922.6 445.1 922.6 444 921.2 442.7 921.5 441.6 922.7 440.6 922.6 439.4 921.4 438.2 922.6 437.1 921.9 435.9 923.5 434.9 922.9 433.7 921.8 432.5 922.8 431.4 922.1 430 924.3 429.3 924.5 428.1 924.5 426.9 923.2 425.3 925.5 424.6 924.4 423.2 925.3 422.1 925.5 421 925.1 419.9 924.2 418.8 924.5 417.7 925.6 416.6 924.3 415.5 924.9 414.4 926.1 413.3 925 412.2 924.4 411.1 925.6 410 924.9 408.9 925.9 407.8 925 406.7 926.1 405.6 926.1 404.5 924.7 403.4 925.5 402.3 925.3 401.2 924.7 400.1 926.4 399 925.2 397.9 925.8 396.8 924.6 395.7 926.6 394.6 926.7 393.5 926.1 392.4 924.9 391.3 926.1 390.2 925.7 389.1 925.7 388 925.2 386.9 925.1 385.8 926.6 384.7 926.1 383.6 926.4 382.5 926.4 381.4 925.7 380.3 926.1 379.2 925.5 378.1 926.3 377 925.9 375.9 926.6 374.8 925.6 373.7 925.8 372.6 925.2 371.5 925.1 370.2 925.7 369.2 925.4 368 926.5 367 926.6 365.8 927.8 364.9 926.2 363.5 928.4 362.7 926.7 361.2 928.5 360.4 927.6 359.1 927.6 357.8 928.9 356.5 928.6 355.3 928 354 928.5 352.9 929.8 352 930.1 350.9 930.9 349.9 929.5 348.5 930.8 347.5 929.9 346.4 930.3 345.3 929.8 344.1 930.2 343 931.3 341.9 929.9 340.8 930.3 339.7 931.4 338.6 930.5 337.4 931.3 336.3 930.7 335.2 930.4 334.1 931.2 333 931.1 331.9 930.6 330.7 931.9 329.6 930 328.5 931.7 327.4 931.5 326.3 931.5 325.2 931 324 931.6 322.9 930.2 321.7 931.7 320.6 932.2 319.5 931.3 318.3 932.1 317.2 932.1 316 931.7 314.8 932.4 313.7 931.9 312.5 931.7 311.1 933 310.4 934 309.6 933.4 308 934.5 307.3 935.4 306.3 933.7 305 935.7 304 934.6 302.8 934.7 301.7 935.6 300.7 935.4 299.6 934.8 298.4 934.6 297.3 935.3 296.2 936.4 295.2 936.7 294.1 936.2 293 936.3 291.8 936.3 290.7 936.9 289.6 935.3 288.5 935.3 287.4 936.9 286.3 935.1 285.2 936.3 284.1 936.1 283 937.3 281.9 936.7 280.8 935.8 279.7 935.5 278.6 936.5 277.5 936.7 276.4 936.6 275.3 936.9 274.2 935.8 273.1 936.5 272 937.6 270.9 936.4 269.8 936.3 268.7 936.3 267.6 938 266.5 937.9 265.4 936.9 264.3 936.8 263.2 937 262.1 938.2 261 938.3 259.9 938.5 258.7 938.3 257.6 938 256.4 936.8 255.2 938.7 254.2 937 253 938.4 251.9 937.6 250.7 937 249.6 938.4 248.5 937.6 247.3 939 246.3 937.5 245 938.7 244 938.2 242.8 937.4 241.6 938 240.5 938.1 239.4 939.2 238.3 939.3 237.2 939.7 236.1 938.1 234.9 938.2 233.7 938.7 232.6 938.6 231.5 938.5 230.3 939.8 229.2 938.3 227.9 939.6 226.8 938.9 225.6 939.4 224.5 939.5 223.3 940.1 222.2 941.2 221.1 940.9 219.9 940.4 218.6 941.8 217.5 940.2 216.3 940.1 215.2 941.2 214.1 941.5 213 941.5 211.8 941 210.7 941.6 209.5 940.8 208.4 942.2 207.3 941.8 206.1 941.9 205 941.4 203.8 942.3 202.7 941.4 201.5 942.5 200.4 941.4 199.2 942.6 198.1 941.2 197 941.7 195.8 941.9 194.7 941.9 193.6 942.6 192.5 942.7 191.3 941.3 190.1 942.5 189.1 942.1 187.9 941.9 186.8 941.3 185.6 943.1 184.6 943.3 183.4 942.8 182.3 942.5 181.1 941.5 179.9 942.1 178.8 942.1 177.7 941.6 176.5 942.3 175.4 942.4 174.3 942.5 173.2 941.8 172 942 170.9 943.8 169.8 943 168.7 942.4 167.5 942.9 166.4 942.9 165.2 943.4 164.1 943 162.8 944.5 161.8 945.1 160.7 944.7 159.4 945.7 158.4 945.6 157.2 945.2 155.9 945.4 154.7 945.2 153.7 946.2 154.5 947.1 155.4 946.6 156.8 946.2 158.1 946.8 159 948.5 159.7 947.1 161.1 948.9 162.2 947.9 163.5 948.7 164.6 948.5 165.8 948.8 166.9 948 168.2 947.9 169.4 947.6 170.6 948.5 171.7 949.5 172.8 949.6 174 949.6 174.9 949.8 176.1 950 177.2 950.1 178.4 950.7 179.4 949.6 180.9 950.9 181.7 951 182.9 950.7 184 952 185.1 951.4 186.3 952.4 187.4 951.5 188.6 950.6 189.7 951.4 190.9 951.6 192" fill="none" stroke="#000" stroke-width="3.4" stroke-linejoin="round"/>
<path d="M237.6 739.8L237.6 933.5 237.5 933.9 238.6 932.9 238.8 931.7 239.4 930.6 238.2 929.2 238.5 928.1 238.5 926.9 238.9 925.8 240.2 924.8 240.7 923.4 240 924.7 240.9 925.7 240.9 926.9 240.8 928.1 240.1 929.3 240.8 930.4 242.2 931.3 241.9 932.5 242.3 933.6 240.9 935 241.3 936.1 241.5 937.3 243 938.3 243 937.2 243.5 936 243.3 934.8 242.2 933.5 243.7 932.5 243 931.2 243.7 930.1 243.4 928.9 243.2 927.7 243.2 926.5 243.4 925.4 243.3 924.1 243 923 244.7 922.1 244.8 921 245.4 919.9 244.9 918.7 244.7 917.6 245.3 916.5 244.1 915.2 245.5 914.3 245.1 913.1 244.7 911.9 246.1 910.7 245.8 912 246.7 912.9 246.7 914 246.7 915.2 247.5 916.1 246.9 917 248 916.1 247.8 914.9 248.1 913.8 248.4 912.7 249.1 911.7 248.8 910.4 250.4 909.7 249.9 909.4 252.2 909.4 251.6 910.6 251.3 911.8 253.4 912.7 253.3 913.9 251.9 915.2 252 916.3 252.5 917.4 253.7 918.5 253.3 919.7 252.4 920.9 252.5 922 252.8 923.2 254.2 924.2 252.9 925.5 254.1 926.5 253.5 927.7 253.3 928.7 255.2 927.8 254.4 926.6 254.8 925.5 253.7 924.4 254.7 923.3 254.7 922.2 254.8 921.1 254.4 920 255.3 918.9 254.5 917.8 254.5 916.7 254.3 915.5 255.5 914.5 254.3 913.3 254.6 912.3 254.4 911.1 255.7 910.1 255.6 909 255.6 907.9 254.6 906.7 255.6 905.7 255.5 904.5 255.1 903.3 255.1 902.1 257.4 901.2 255.6 899.8 256.2 898.7 256.3 897.6 257.1 896.5 256.1 895.2 257.2 894.2 257.1 893 258.3 892 256.6 890.6 257.5 889.5 258 888.4 257.8 890.2 259.4 890.9 259.5 892 259.2 893.2 260.1 894.2 260.8 895.3 259.8 896.5 259 897.7 259.5 898.8 260.7 899.8 259.8 901 259.5 902.2 260.9 903.2 260.3 904.4 260.9 905.5 261.2 906.6 261.2 907.7 261.5 908.8 260.6 910 260 908.8 260.8 907.8 260.1 906.6 261.6 905.6 261.3 904.5 260.1 903.3 261.8 902.3 260.5 901.1 261.2 900.1 261.4 899 261 897.8 260.9 896.7 261.3 895.6 260.7 894.5 262.3 893.5 260.7 892.3 262.3 891.3 261 890.1 261.2 889 261.4 887.9 260.7 886.8 260.9 885.7 261.5 884.6 261.7 883.5 262.7 882.4 263 881.4 260.9 880.2 262.1 879.1 261.2 878 262.7 876.9 261.7 875.8 263 874.7 262.3 873.6 261.6 871.9 262.4 870.8 263.6 870.5 265.1 869.6 263.7 868.3 264.6 867.3 264.5 866.1 264.7 865 265.8 864 264.7 862.7 266 861.8 266.1 860.7 266.8 859.6 266.1 858.3 267.2 857.3 266.3 856 266.8 854.8 267 853.7 267.7 852.6 268 851.4 266.4 850 266.7 848.8 267.7 847.8 268.5 846.8 268.2 845.4 268 844 269.7 843.1 268.6 841.6 268.4 840.2 268.7 838.7 269.3 837.5 271.3 837 270.6 835.5 272 834.4 272.4 833.3 272.7 832.2 272.3 831.1 271.5 829.9 271.9 828.8 272.4 827.7 272.2 826.6 271.3 825.5 272.4 824.4 271 823.3 271.4 822.2 273 821.1 271.9 820 271.4 818.8 272.6 817.8 271.9 816.6 270.9 815.5 271 814.4 271.6 813.3 271.8 812.2 273.1 811.1 271.6 810 273 808.9 273 807.8 272.1 806.6 273.4 805.6 272.9 804.4 272.3 803.3 271.9 802.1 272.4 801.1 273.5 800.1 272.8 798.9 272.2 797.7 272.7 796.6 273.1 795.5 272.6 794.3 273.5 793.3 272.5 792.1 274.3 791.1 273 789.9 273 788.7 274.2 787.7 273.7 786.6 275 785.6 274.3 784.4 274.4 783.3 275.2 782.2 274 781 275.2 780 275.1 778.8 274.7 777.7 276 776.7 274.1 775.4 276 774.4 274.5 773.2 276.1 772.2 274.7 771 274.6 769.8 275.7 768.8 276.7 767.8 275.4 766.5 276 765.5 276.3 764.4 275.6 763.2 276.4 762.1 275.3 760.9 276.4 759.9 277.1 758.8 276.3 757.7 276.1 756.6 275.8 755.4 277.3 754.4 276.8 753.3 277.9 752.3 277.6 751.1 276.3 749.9 278.1 749 278.2 747.9 278.1 746.7 278.2 745.6 277.9 744.5 278.1 743.4 278 742.3 277.9 741.2 277.3 740.1 277.1 738.9 278.5 737.9 278.3 736.8 277.2 735.6 278.5 734.6 278.6 733.5 278.5 732.4 279.3 731.3 279.6 730.2 278.7 729 279.8 728 279.3 726.8 279.6 725.7 279.4 724.5 280.7 723.5 279.8 722.3 281.1 721.4 280 720 280.9 719.1 281.7 718.1 281.4 716.9 281 715.6 280.6 714.4 281.7 713.5 281.6 712.3 282.5 711.2 282.4 710.1 282.9 709 281.8 707.8 281.7 706.6 282.1 705.5 282.6 704.4 281.1 703.2 281.5 702 281.4 700.9 281.8 699.7 281.8 698.6 283.3 697.5 281.7 696.3 283.3 695.2 281.9 694 281.8 692.9 283.5 691.8 281.6 690.5 281.8 689.4 281.9 688.2 281.9 687 282.7 685.9 282.4 684.7 282.4 683.5 282.1 682.3 283.7 681.2 282.5 679.7 283.2 678.7 284.2 677.8 285.2 676.9 285.1 675.7 285.5 674.6 285.8 673.5 286.4 672.5 286.9 671.2 285.4 670 285.2 668.9 286.5 667.8 286.4 666.7 286.4 665.6 287.1 664.5 285.8 663.3 287 662.2 286.5 661 286.5 659.9 286.2 658.8 286.3 657.6 287 656.5 287 655.4 288 654.5 286.9 653.1 288 652.1 286.9 650.7 288.4 649.9 287.8 648.1 289.8 646.9 290.1 645.8 288.6 644.6 289.9 643.5 288.7 642.3 288.9 641.1 288.5 640 289.3 638.8 288.7 637.7 290 636.6 289.8 635.4 289.5 634.2 290.2 633.1 289.3 631.9 289.5 630.7 289.9 629.5 289.4 628.2 291.6 627.5 290.2 625.8 290.5 624.7 292.3 623.9 292.7 622.6 292.3 621 292.6 619.7 292.3 618.3 292.1 617.2 293.4 616.2 292.9 615 292.8 613.8 294.6 612.9 292.8 611.6 293.7 610.5 294.7 609.5 294.8 608.4 293.5 607.1 295 606.2 295 604.9 295.5 603.6 296.5 602.5 295.2 601.1 295.8 602.2 295.6 603.4 296.3 604.5 296.3 605.6 295.9 606.9 296.5 608 297.2 609.1 298.1 610.1 296.6 611.6 297.9 612.4 298 613.5 298.7 614.5 298.5 615.8 299.1 616.7 298.8 618.4 299.5 619.5 299.7 620.6 299.4 621.8 300.3 622.8 300.3 624 300 625.2 300.2 626.4 300.4 627.5 300.2 628.7 301.1 629.7 301.3 630.9 302.2 631.9 302.3 633.1 302 634.3 302 635.4 301.2 636.6 303.1 637.5 302.5 638.7 301.7 639.8 302.4 640.9 301.7 642.1 303.2 643 302 644.2 302.8 645.3 302.6 646.4 303.8 647.4 303.1 648.6 302.3 649.7 302.5 650.8 303 651.9 303.3 653 304.3 654 302.9 655.2 303.5 656.3 303 657.4 303.3 658.5 303.8 659.6 302.9 660.7 304.6 661.8 302.8 663 304.8 664 302.9 665.2 303.8 666.2 304.1 667.3 303.1 668.5 304.1 669.5 304.1 670.7 305.2 671.7 303.6 672.9 304 674 304.9 675 305.2 676.1 304.6 677.3 303.5 678.4 303.7 679.5 304.7 680.6 305.6 681.7 303.9 682.8 305.4 683.9 304.3 685 304.8 686.1 303.8 687.3 305.7 688.3 304.3 689.5 304.5 690.6 306.1 691.6 305 692.8 305.6 693.9 304.8 695 304.2 696.1 304.9 697.2 305.4 698.3 305.2 699.4 306 700.5 305.5 701.6 306.3 702.7 305 703.8 306.5 704.9 305.5 706 306.3 707.1 305.5 708.2 306.6 709.3 306.7 710.4 305.4 711.5 305.3 712.6 304.9 713.7 305.4 714.8 304.7 715.9 306.6 717 305.6 718.1 305.6 719.2 306.6 720.3 306.8 721.4 306.6 722.5 306 723.6 305.4 724.7 305.6 725.8 305.9 726.9 307.1 728 305.7 729.1 306.2 730.2 306.9 731.3 306 732.4 306.8 733.5 306.7 734.6 306.5 735.7 305.9 736.8 307.3 737.9 306.6 739 307.1 740.1 306.2 741.3 306 742.4 307.2 743.4 306.3 744.6 306.9 745.7 307.5 746.8 307.4 747.9 306.9 749 306.3 750.1 306.8 751.2 308.2 752.3 306.6 753.5 307 754.5 307.4 755.6 307.9 756.7 307.5 757.8 307 759 308 760 308.3 761.1 306.7 762.3 307.8 763.4 308.6 764.5 306.9 765.6 308.6 766.7 308.1 767.8 307.6 768.9 307.6 770.1 307.1 771.2 308.8 772.2 307.9 773.4 307.3 774.5 308.3 775.6 307.8 776.7 308.4 777.8 307.9 778.9 307.4 780.1 308.8 781.1 308 782.3 309 783.3 307.9 784.5 308.2 785.6 308.1 786.7 308.1 787.8 308.8 788.9 308.1 790 309.9 791 309.1 792.2 310.2 793.2 309.2 794.4 309.1 795.5 310 796.6 308.9 797.8 309.9 798.8 310.4 799.9 310.5 801 309.7 802.2 310.3 803.3 311.1 804.3 310.6 805.5 309.2 806.7 310.4 807.7 310 808.9 310.7 810 311.6 811.1 310.5 812.3 311.5 813.4 311.8 814.6 310.8 815.8 310.8 817 312.4 818 310.4 819.4 312.6 820.3 312.4 821.5 312.1 822.7 311.2 824 311.5 825.1 311.6 826.2 312.3 827.3 311.2 828.4 312.9 829.5 311.1 830.6 313.1 831.7 312.9 832.8 311.5 833.9 311.5 835 311.7 836.1 312.7 837.2 311.3 838.3 312.1 839.4 312.7 840.5 313 841.6 311 842.7 313.1 843.8 312.7 844.9 312.4 846 311.2 847.1 311.4 848.2 311.3 849.4 311.8 850.5 313.2 851.6 311.6 852.7 312.8 853.8 311.1 854.9 311.1 856 313.1 857.1 311.6 858.2 312.7 859.3 313 860.4 311.3 861.5 312.2 862.6 312.6 863.7 312 864.8 313.1 865.9 312.3 867 311.8 868.1 311.3 869.2 312.9 870.3 311.2 871.4 313 872.4 312.9 873.5 312.8 874.6 313.4 875.7 313.7 876.7 312.7 878.1 313.5 879.1 314.1 880.1 313.6 881.3 314.6 882.3 313.6 883.5 313.1 884.7 314.2 885.7 314.4 886.9 314.5 888 314.7 889.1 314.7 890.2 315.3 891.3 315.1 892.5 314.3 893.7 314.8 894.8 315.8 895.8 315.7 897 314.3 898.2 315.4 899.2 314.4 900.4 315 901.5 315.1 902.7 315.7 903.7 315.3 904.9 315.8 906 315.6 907.2 314.7 908.3 316.7 909.3 316.5 910.5 315.1 911.7 315.1 912.8 315.4 913.9 315.4 915 317.1 916 315.9 917.2 317.2 918.2 315.7 919.5 316.8 920.5 316.7 921.6 316.7 922.7 317.4 923.8 316.7 925 316.1 926.1 317.1 927.2 317.2 928.3 317.5 929.4 317.9 930.5 317.8 931.6 316.7 932.8 316.5 933.9 317.8 935 318.1 936.1 318.1 937.1 317.1 938.5 318.6 939.5 319 940.6 318.9 941.9 319.7 942.9 319.7 944.2 319.8 945.4 319.1 946.7 318.7 948 319.3 948.9 319.6 947.8 320.5 946.7 319.5 945.3 319.8 944.2 321.1 943.3 321.1 942 321.6 940.6 322.4 941.3 323.8 941.2 323.7 942.6 323.6 941.5 323.9 940.4 323.7 939.2 325.4 938.2 323.8 936.9 324.8 935.8 324.5 934.6 324.7 933.5 326 932.5 326.6 931.4 326.7 930.3 325.5 929 326.1 927.9 326.4 926.6 326.3 925.1 327.5 924.2 327.9 923.1 328.6 924.1 327.9 925.4 328.9 926.5 329.4 927.5 328.3 928.9 329.1 929.9 330 931 328.8 932.3 329.9 933.3 329.8 934.5 330.3 935.6 329.6 936.9 330.1 938 330.8 939 332.7 939.7 332 940.9 331.9 942.1 332.6 943.2 332.1 944.4 333 945.4 333.4 946.5 333.8 947.7 334 948.8 334.4 949.9 332.8 951.2 333.8 952.3 334.9 953.3 334.8 954.5 334.3 955.5 336.2 955.8 336.4 954.7 336.2 953.6 335.3 952.4 335.6 951.3 336.8 950.3 335.7 949.1 336.3 948 335.1 946.8 336.1 945.7 336.2 944.6 337.1 943.5 337.3 942.4 336.9 941.3 336.1 940.1 337.3 939 337.5 937.9 335.7 936.7 336.6 935.6 336.9 934.5 336.4 933.4 336.4 932.2 337.6 931.2 336.4 930 337.2 928.9 336.1 927.7 337.2 926.6 338.3 925.6 336.3 924.3 336.6 923.2 338.4 922.2 338.5 921.1 337.7 919.9 337.3 918.8 337.4 917.7 338.4 916.6 338.1 915.5 337.9 914.3 338.5 913.2 337.3 912 338 910.9 339.1 909.9 339.2 908.8 338.4 907.6 339.1 906.5 339.4 905.4 338.6 904.3 340.7 905.6 340.9 906.8 339.8 908.1 340.7 909.2 340.4 910.4 341.6 911.5 339.8 912.9 341.4 913.9 340.8 915.2 340.9 916.3 341.7 917.4 342.1 918.6 341.8 919.9 341.4 918.7 341.1 917.5 341.5 916.4 341.3 915.3 343.4 914.4 342 913.1 343.8 912.2 343.3 911 344.2 910 343.3 908.8 343 907.6 342.8 906.4 344.2 905.5 344.5 904.4 344.6 903.3 343.5 902.2 345.4 903.1 344.3 904.4 344.2 905.5 343.8 906.6 345.4 907.6 344 908.8 346.1 909.8 345 911 345.6 912 345.3 913.2 346.2 914.2 345.8 915.3 346 916.4 345.8 917.6 346 918.7 346.5 919.7 346.7 920.8 346.2 922 345.1 923.2 345.9 924.9 346.9 925 348 923.9 347 922.7 347.5 921.6 349.1 920.6 347.7 919.4 347.3 918.2 348.3 917.2 348.5 916.1 348.4 914.9 349.4 913.9 348.6 912.7 348.3 911.5 348 910.4 348.9 909.3 349.4 908.2 348.9 907.1 348.8 905.9 348.5 904.8 349.9 903.7 350.3 902.6 349.5 901.5 349.9 900.4 349.1 899.2 348.8 898 348.7 896.9 350 895.9 350.7 894.8 350.3 893.6 350.3 892.5 350.8 891.4 349.9 890.2 350.2 888.9 351.9 888.8 350.8 890.2 351.3 891.3 351.9 892.4 351.5 893.6 351.4 894.8 353.5 895.7 353.3 896.9 353 898.1 353.6 899.4 352.7 898.1 353.2 897 353.8 896 353.1 894.7 354.1 893.7 352.9 892.4 353.8 891.4 354.4 890.3 355 889.2 354.3 888 354.8 886.9 354.9 885.8 355 884.7 354.7 883.5 354.4 882.4 354.1 881.2 355.8 880.2 355.6 879.1 355.4 878 355.7 876.9 354.7 875.7 354.5 874.6 355.3 873.5 355.2 872.4 355.7 871.3 356.2 870.3 355.2 869.1 355.2 868 356 866.9 356.4 865.8 355.8 864.7 355.9 863.6 356.6 862.5 356.7 861.4 354.8 860.2 356.9 859.2 355.1 858 356.1 856.9 356 855.8 357.2 854.8 355.6 853.6 355.2 852.5 357.3 851.5 356.2 850.3 356.4 849.1 356.6 847.8 356.5 846.5 356.1 845.2 357.5 844.2 357 842.8 357.7 841.8 358.9 840.8 359 839.7 357.7 838.4 357.8 837.3 357.5 836.1 358.7 835.1 357.9 833.9 357.9 832.8 359.7 831.9 359 830.7 359.9 829.6 358.5 828.4 358.6 827.2 359.6 826.2 360 825.1 359 823.8 359.8 822.8 360.1 821.7 360.1 820.5 359.9 819.3 360.3 818.2 359.7 817 359.8 815.8 359.9 814.7 361.7 813.8 360.6 812.5 361.7 811.5 360.8 810 362.7 809.1 361.2 807.5 363.2 806.6 362.9 805.2 364 804.1 364 802.9 362.2 801.7 362.3 800.6 362.8 799.5 362.5 798.3 364.3 797.3 362.8 796.1 364.1 795.1 364.7 794 364.2 792.9 365 791.8 364.3 790.6 363.8 789.5 365.1 788.4 363.5 787.2 364.3 786.1 364.1 785 364.4 783.9 363.9 782.7 365.4 781.7 365.5 780.5 364.9 779.4 364.5 778.3 365.5 777.2 365.5 776 363.6 774.9 365.5 773.8 363.8 772.6 363.8 771.5 364.2 770.4 364.5 769.3 364.8 768.1 365.8 767 364.1 765.9 365.2 764.8 364.9 763.6 364.1 762.5 366.1 761.4 365.9 760.3 364.7 759.1 365.9 758 365 756.9 365.5 755.8 366.1 754.7 365.5 753.5 364.9 752.4 364.3 751.2 365.2 750.1 365.5 749 364.9 747.9 365.6 746.8 364.4 745.6 364.9 744.5 365.5 743.4 365.8 742.3 366.6 741.3 365.9 739.9 366.4 738.9 367.7 738.1 367.1 736.7 367.1 735.5 368.5 734.6 368 733.4 368.7 732.4 369.7 731.4 369.8 730.3 369.6 729.1 370.2 728 369.9 726.9 369.1 725.6 370.5 724.7 368.9 723.3 369.3 722.2 370 721.2 369.3 720 370.4 718.9 370.4 717.8 369.7 716.6 371 715.6 369.6 714.4 370.6 713.3 370.2 712.1 371.8 711.1 370.1 709.9 370.8 708.8 371.6 707.7 370.8 706.5 372 705.6 370.7 704.1 370.9 703 371 702 372.3 700.9 372.2 699.8 372.4 698.7 372.3 697.5 373.3 696.5 371.9 695.3 371.8 694.1 372.1 693 373.5 692 373.5 690.8 372 689.6 371.9 688.5 374.1 687.5 374.1 686.4 372.7 685.1 373.3 684.1 372.3 682.9 373.4 681.8 372.7 680.7 373.9 679.6 372.8 678.5 373.8 677.4 373.3 676.3 373.7 675.2 374.8 674.2 373.9 673 374.9 672 374.4 670.8 373.4 669.7 373.5 668.6 374.8 667.5 374.8 666.4 373.5 665.3 375 664.3 374 662.9 374.8 661.8 375.7 660.7 375.9 659.5 374.5 658 374.6 656.8 375.1 655.5 376.3 654.3 377.5 653 377 651.8 377.4 650.7 377.6 649.6 377 648.4 376.9 647.3 378 646.3 377.7 645.1 378.4 644.1 378.8 643 377.8 641.8 377.6 640.6 377.3 639.5 378.4 638.5 378 637.3 378.1 636.2 378.7 635.2 379.3 634.1 379.3 633 378.9 631.8 379.7 630.5 380 629.1 381 627.7 380.6 626.5 381.1 625.4 379.9 624.1 381.4 623.1 379.7 621.8 381.6 620.8 379.9 619.5 381.4 618.5 380.8 617.2 380.7 616 382.1 615 380.9 613.7 382.2 612.7 381 611.4 381.4 610.3 381.9 609.2 382.4 608.1 382.1 607 383.1 607.9 382.5 609.4 384.6 609.9 384.7 611.2 384.5 612.6 384.4 613.9 384.6 615.2 384.4 616.5 385.8 617.4 386.1 618.8 386.5 617.6 385.6 616.1 386.4 615 386.8 613.8 387.4 612.7 387.6 611.4 389.3 609.6 389.2 610.7 389 611.8 389.5 612.9 388.1 614.1 387.9 615.2 388.3 616.3 389.5 617.4 388.7 618.6 390 619.6 389.7 620.8 389.6 621.9 388.9 623 389 624.1 389.1 625.3 390 626.3 389.3 627.5 388.9 628.6 388.6 629.8 389.8 630.8 389.7 631.9 388.8 633.1 390.7 634.1 389.5 635.3 390.6 636.4 389.2 637.6 389.5 638.7 390.9 639.7 391 640.8 389.1 642 390.5 643.1 390 644.2 390.1 645.4 390.6 646.5 391.2 647.6 389.9 648.8 390.8 649.9 390.7 651 390 652.2 389.7 653.3 391.2 654.4 391.2 655.5 390.3 656.7 391 657.8 390.1 658.9 391.3 660 392.1 661.1 391.7 662.3 390.4 663.5 391.1 664.6 390.3 665.8 390.7 666.9 391.1 668 392.3 669 391.8 670.2 392.8 671.3 392.1 672.5 392.5 673.6 390.9 674.8 392.7 675.8 392.4 677 393.1 678.1 392.9 679.2 391.8 680.4 392.5 681.5 392.3 682.7 391.7 683.8 392 685 393.2 686 392.1 687.2 392.3 688.4 392.5 689.5 392.8 690.6 392 691.8 392.7 692.8 394 693.8 392.3 695 392.8 696.1 393.7 697.2 392.7 698.3 392.4 699.5 392.9 700.5 393.6 701.6 392.9 702.7 394.6 703.7 394.7 704.8 394 706 393.8 707.1 393.6 708.2 393.7 709.3 394 710.4 394.4 711.5 393.7 712.6 394.2 713.7 395 714.8 394.3 715.9 394.6 717 393.9 718.1 394.2 719.2 393.7 720.4 394.2 721.4 394.8 722.5 394.6 723.6 395.5 724.7 395 725.8 394.1 727 396.1 727.9 395.5 729.1 395.6 730.2 395 731.3 396.2 732.4 395.2 733.5 396.6 734.5 394.8 735.8 396.8 736.7 395.6 737.9 395.5 739 396 740.1 396.7 741.2 396.5 742.3 395.4 743.4 396.4 744.5 396.2 745.6 395.4 746.8 396.5 747.8 395.8 749 396.3 750.1 395.9 751.2 396.3 752.3 397.5 753.4 397.3 754.5 397.2 755.6 397.4 756.7 396.6 757.8 397 758.9 397.2 760 398 761.1 395.9 762.3 397 763.4 397.7 764.4 396.7 765.6 398 766.7 397.9 767.8 396.2 768.9 396.9 770 397.6 771.1 398.1 772.2 396.9 773.4 398 774.4 397.8 775.6 398 776.7 397.2 777.8 398.1 778.9 398.6 780 396.9 781.2 397.6 782.3 398.5 783.4 398.7 784.6 396.9 785.8 397.8 786.9 397.8 788.1 397 789.3 399 790.4 398.8 791.5 398.7 792.7 397.6 793.9 398.9 795 398 796.2 397.5 797.4 398.4 798.5 397.9 799.7 399.3 800.8 398.4 802 398.7 803.1 398.1 804.3 398.8 805.4 398.3 806.6 397.8 807.8 397.8 809 398.1 810.1 398.4 811.2 397.9 812.4 399.2 813.5 400.1 814.6 398.5 815.9 399.5 817 399.6 818.1 398.3 819.3 399.5 820.4 400.1 821.5 398.4 822.6 400.5 823.7 400.4 824.8 399 826 400.2 827.1 399 828.2 400.6 829.3 400 830.4 399.8 831.6 399.3 832.7 399.1 833.8 399.2 834.9 400.3 836 398.9 837.2 400.7 838.3 399.9 839.4 400.8 840.5 399.2 841.7 399.9 842.8 400 843.9 398.9 845.1 400.5 846.1 399.6 847.3 399.5 848.4 400.9 849.5 399.4 850.7 400.4 851.7 399.6 852.9 399.6 854.1 400.7 855.1 400.9 856.3 401.2 857.4 402.1 858.4 401.4 859.9 401.4 861.1 401.2 862.4 402.6 863.3 403 865 402.8 866.1 402.6 867.2 402.9 868.3 402.3 869.4 402.6 870.5 402.4 871.6 403.6 872.7 403.4 873.8 404.3 874.8 403.6 876 403.6 877.1 404 878.2 402.8 879.3 403 880.4 403.1 881.5 404.3 882.6 403.8 883.7 403.2 884.8 404.3 885.9 403.9 887 404.8 888.1 403.2 889.2 404.1 890.3 404.4 891.4 403.6 892.5 404.9 893.6 404.4 894.7 404.7 895.8 403.7 896.9 404.6 898 403.7 899.1 404 900.2 405.6 901.3 404.6 902.4 404.8 903.5 405.6 904.6 404.1 905.8 404.2 906.9 403.9 908 405 909.1 405.8 910.1 404.7 911.3 404.4 912.4 405.6 913.5 404.6 914.6 405.2 915.7 405.5 916.8 404.2 918 404.9 919.1 404.3 920.2 404.8 921.3 404.7 922.4 406.1 923.4 405 924.6 406.4 925.7 405 926.8 405.2 927.9 405.9 929 405.6 930.1 404.8 931.3 405.5 932.4 406.4 933.4 405 934.6 405.5 935.7 406.6 936.8 406.5 937.9 406.7 939 406.6 940.1 405.8 941.3 406.9 942.3 405.7 943.5 407.2 944.6 407.1 945.7 407.3 946.8 406.3 948 407.9 949 407.9 950.1 406.5 951.3 406.7 952.4 408.1 953.4 407.6 954.6 408.3 955.2 407.7 957.4 410 958.3 408.3 957 410 956 408.8 954.8 410.5 953.8 408.8 952.6 410.6 951.6 409.2 950.4 409.8 949.3 409.9 948.2 410.5 947.1 409.6 945.9 410.6 944.8 410.7 943.7 410.4 942.6 409.2 941.4 410.1 940.3 409.7 939.2 411.4 938.1 410.2 936.9 411.3 935.9 410.3 934.7 410 933.6 410 932.4 411.2 931.4 409.9 930.2 410.8 929.1 411 928 411.9 926.9 411.7 925.8 410.1 924.6 410.8 923.5 411.1 922.3 412.5 922 413.7 920.6 412.6 921.8 413.6 922.8 413 924 413.7 925.1 414.3 926.1 412.9 927.4 413.1 928.5 414.2 929.5 414.3 930.6 414.8 931.6 414.7 932.8 414.6 933.9 415.4 934.9 413.8 936.2 415 937.2 415.5 938.3 415.6 939.4 414.5 940.3 415.6 939.5 415.9 938.4 417.1 937.6 416.6 936.1 417.4 934.6 419.3 935.2 418.3 936.5 419.6 937.5 419.7 938.7 420 939.9 419.1 941.1 419.7 942.2 419 943.5 419.9 944.6 419 945.9 420.4 946.9 420.3 948.1 419.5 949.3 419.4 950.5 421 951.7 420.9 950.5 420.6 949.4 420.5 948.2 421.7 947.2 420.5 946 420.8 944.9 421.5 943.9 421.3 942.7 422.2 941.7 421.1 940.4 422.3 939.4 422.2 938.3 421 937.1 422.8 936.1 422.4 935 423 933.9 422.2 932.7 423.1 931.8 422.7 930.5 423.7 929.6 423.8 928.4 422.8 926.9 424.6 926.2 423.3 924.7 424.3 923.7 424.8 924.8 424.7 926 425.2 927.2 425.3 928.4 424.4 929.6 425.3 930.7 425.2 931.9 426.1 933 426.2 934.2 425.2 935.5 425.9 936.6 425.7 937.8 425.2 939.4 427.5 940.1 426.8 941.8 428.1 940.8 427.9 939.6 428.2 938.5 426.8 937.3 427.5 936.3 428.5 935.2 428.8 934.1 428.3 932.9 429 931.9 427.6 930.6 428.4 929.6 429.1 928.5 427.5 927.3 428.5 926.2 427.9 925 428.5 924 429.3 922.9 428.4 921.7 427.8 920.5 428.7 919.5 428.9 918.4 428.3 917.2 429.6 916.2 428.5 915 429 913.9 429.2 912.8 428.1 911.6 430.1 910.6 429.3 909.7 432 909.4 430.7 910.6 431.1 911.7 431.5 912.7 431.8 913.8 431.5 915 432.6 916 432.2 917.2 433.2 918.2 433.2 919.3 432.1 920.5 432.3 921.6 431.7 922.8 432.3 923.8 432.1 925 432.3 926.1 433 927.1 432.4 928.3 433.7 929.3 432 930.5 432.9 931.6 433.3 932.7 432.9 933.8 433.5 934.9 433.9 936 433.2 937.1 434.6 938.4 434 937.1 434.8 936.1 433.9 934.7 435.3 933.8 435.4 932.6 435.2 931.4 433.9 930.1 435.9 929.2 435.3 927.9 435.2 926.7 436.1 925.7 435.7 924.5 436.3 923.4 435.8 922.2 435 921 436.8 919.9 435.3 918.7 436.1 917.6 435.5 916.4 435.3 915.2 436.3 914.1 436.2 913 435.6 911.8 437.3 910.8 436.8 909.6 437 908.4 436.1 907.2 436.6 906.1 437.5 905.3 437.9 904.2 438.2 903.1 438.2 901.9 439.6 901 438.8 899.8 438.3 898.6 439.5 897.6 439.5 896.5 439.8 895.4 439 894.2 439.5 893.1 439.4 892 438.9 890.7 440 889.8 440.6 888.8 440.4 887.6 441.5 886.6 440.4 885.3 441.4 884.4 441.9 883.3 441.8 882.2 440.8 880.9 442.7 880.1 441.2 878.7 441.1 877.5 442.5 876.6 442 875.4 442.3 874.3 442.1 873.1 443.7 872.2 442.2 870.8 443 869.8 444.7 868.9 442.9 867.6 444.2 866.5 444.2 865.4 443.6 864.2 444.3 863 443.4 861.8 444.9 860.8 445.1 859.6 444.8 858.4 443.5 857.2 444.2 856.1 443.9 854.9 445.8 853.8 443.8 852.5 445.5 851.5 446 850.4 446 849.2 444.6 848 446.1 847 444.5 845.7 445.3 844.6 446 843.6 445.4 842.4 445.1 841.2 446 840.1 445.6 839 446.7 837.9 446.7 836.8 445.1 835.5 446.9 834.5 445.6 833.3 445.7 832.2 445.3 831.3 445.6 832.4 446.6 833.3 446.2 834.5 447 835.5 447.9 836.6 447.5 837.8 447.4 839 448.7 840 448.4 841.2 447.6 842.5 448.7 843.6 447.5 842.4 447.7 841.3 449.6 840.3 447.8 839.1 449.5 838.1 449.2 837 448.3 835.8 448.3 834.7 448.6 833.6 448.1 832.5 448.3 831.4 450.1 830.3 449.1 829.2 449.9 828.1 449.9 827 448.6 825.8 449.9 824.8 450.1 823.7 448.5 822.5 449.2 821.4 449.3 820.3 449.7 819.2 449.8 818.1 449.6 817 450.8 816.1 451.2 815 450.3 813.7 451.4 812.7 450.2 811.3 451.9 810.5 450.3 809 451.9 808.2 451.9 807 452.3 805.9 451.5 804.8 452.3 803.7 451.9 802.6 451.4 801.5 451.9 800.4 452.5 799.3 453.2 798.2 453 797.1 452.7 796 452.2 794.9 452.7 793.8 451.8 792.7 452.1 791.6 453.1 790.5 452.1 789.4 451.5 788.3 451.5 787.2 451.5 786.1 453.1 785 451.7 783.8 453.5 782.8 452.8 781.6 453.1 780.4 452.9 779.3 453.8 778.2 453.9 777.1 453.9 775.9 453.7 774.7 453.2 773.5 454 772.4 453.8 771.3 454.1 770.1 455.2 769.1 454.4 767.9 455.1 766.8 454.5 765.6 454.5 764.4 455.6 763.4 454.3 762.1 455.6 761 455.6 759.9 454.6 758.7 454.5 757.6 456.1 756.5 456.2 755.4 455.3 754.2 454.8 753 454.9 751.9 455.8 750.8 455.1 749.6 454.8 748.5 456.2 747.4 456.8 746.3 455.1 745.1 457 744.1 455.1 742.8 455.7 741.4 456.3 740.3 457.5 739.7 457.3 738.5 457.9 737.4 457.5 736.2 458.2 735.1 458.8 734 458.2 732.7 458 731.5 459.3 730.5 459.4 729.3 459.6 728.2 460.3 727.1 459.1 725.8 459.6 724.7 459.6 723.6 459.3 722.5 459.4 721.4 459.4 720.3 459.3 719.2 459.5 718.1 460.3 717 459.9 715.9 460.6 714.8 460.6 713.7 459.3 712.6 459.2 711.5 459.9 710.4 460.7 709.3 459 708.2 459.6 707.1 459.9 706 459 704.9 460.8 703.8 460.8 702.7 459.6 701.6 460.7 700.5 459.4 699.4 459.2 698.3 460.4 697.2 459.8 696.1 459.9 695 460.9 693.9 460.8 692.8 460.6 691.7 461.1 690.8 460.1 689.4 461.5 688.5 461.6 687.4 461.3 686.2 460.8 685 461.5 684 462.4 683 463 681.9 461.7 680.7 462.5 679.6 463.1 678.6 463.3 677.5 461.6 676.3 462.4 675.2 461.8 674.1 463.2 673 463.3 671.9 463.7 670.9 462.6 669.7 463.4 668.6 461.9 667.4 462.4 666.4 463 665.3 463.3 664.2 463.3 663.1 463.5 662 463.6 660.9 463.9 659.8 462.6 658.6 464.3 657.6 462.7 656.4 462.8 655.1 464.3 654.2 463.3 652.7 464.3 652.1 465.8 653.2 466.3 652.2 467.2 651.1 466.7 650 467 648.9 465.9 647.7 466.5 646.6 466.5 645.5 466.2 644.4 466.8 643.3 466.7 642.2 466.8 641.1 466.1 639.9 467.2 638.9 467 637.8 466.8 636.7 468.2 635.6 467.8 634.5 466.9 633.4 468.3 632.3 468.2 631.2 466.6 630.1 466.7 629 466.7 627.9 468.6 626.8 468.2 625.7 467.9 624.6 468.1 623.5 468.9 622.4 467.9 621.3 466.9 620.2 467.3 619.1 467.4 618 468.3 616.9 467.6 615.8 468.4 614.7 467.1 613.6 468.7 612.5 467.4 611.2 467.8 610 469.4 609.1 470.3 607.6 470.2 608.7 469.2 610 468.8 611.2 470.8 612.1 470.6 613.3 469.7 614.5 470.5 615.6 469.5 616.8 470.7 617.9 470.9 619 470.2 620.2 471.7 621.2 470 622.7 471.7 623.6 470.7 625 470.6 626.2 470.8 627.4 471.5 628.5 471 629.5 471.9 628.4 471.6 627.1 472.9 626.2 471.6 624.7 472.2 623.6 473.5 622.6 473.6 621.4 474.3 620.3 474.2 619.1 474.5 618 473.9 616.7 473.7 615.6 474.8 614.5 473.4 613.2 473.3 612 473.9 610.9 475.4 609.9 474.3 608.7 474.2 607.5 474.1 606.3 475.5 605.3 474.5 604 475.8 602.8 474.8 604.1 474.9 605.3 475.9 606.3 475 607.6 475.3 608.7 475.9 609.8 475 611 475.7 612.1 477.1 613.2 477.3 614.3 475.9 615.6 476.3 616.7 477.4 617.8 475.8 619 477.5 620.1 477.5 621.3 477.3 622.4 476.6 623.6 476.6 624.8 476.1 626 477.6 627 478.2 628.1 477.9 629.3 478 630.5 476.6 631.7 477.7 632.8 477.7 633.9 477.6 635.1 476.8 636.3 476.9 637.3 477.6 636.3 477.5 635.1 477.7 634 479.3 633.2 477.8 631.8 478.5 630.8 479.8 629.9 480.1 628.8 479 627.8 480.7 629 480.5 630.1 480.2 631.2 479.5 632.3 479.7 633.4 480.4 634.5 479.7 635.6 480.9 636.7 480.8 637.8 480 638.9 480 640 480.2 641.1 480.7 642.2 481.9 643.3 480.9 644.4 480.4 645.5 481.1 646.6 480.8 647.7 480.4 648.8 481.6 649.9 481.1 651 480.4 652.1 480.2 653.2 480.4 654.3 482.3 655.4 481 656.5 480.9 657.6 480.6 658.7 480.6 659.8 481.5 660.9 481.7 662 482.4 663.1 480.8 664.2 481 665.3 480.8 666.4 481.9 667.5 482.2 668.6 482.1 669.7 481.4 670.8 482.3 671.9 482.8 672.5 482.6 674.2 483.5 675.5 483.1 676.7 483.3 677.8 482.3 679 484.2 680.1 482.6 681.4 482.5 682.5 483.3 683.6 483.7 684.8 484.1 685.9 482.8 687.2 483.9 688.3 483 689.5 483.7 690.6 484.9 691.7 484.1 692.8 484.4 693.9 484.4 695 485 696.1 484.4 697.2 484.7 698.3 484.9 699.4 483.7 700.5 484.8 701.6 484.6 702.7 485.3 703.8 485.3 704.9 483.5 706 485.6 707.1 484.4 708.2 485.4 709.3 484.6 710.4 484.2 711.5 484.6 712.6 484.4 713.7 484.8 714.8 484 715.9 485.1 717 485.5 718.1 485.5 719.2 484.2 720.3 484.7 721.4 484.6 722.5 484.9 723.6 484.9 724.7 485.8 725.8 484.5 726.9 484.6 728 485.1 729.1 484.4 730.2 484.9 731.3 486.3 732.4 484.7 733.5 485.2 734.6 484.8 735.7 485.8 736.8 486.8 737.9 486.2 739 485.5 740.1 486.7 741.2 486.9 742.3 485 743.4 486.4 744.5 485.7 745.6 486.7 746.7 486.8 747.8 485.5 748.9 486.8 750 486.1 751.1 486.4 752.2 486.7 753.3 485.6 754.4 485.3 755.5 486.2 756.6 486.8 757.7 487.5 758.8 485.9 759.9 485.7 761 485.6 762.2 487.7 763.2 486.2 764.4 487.6 765.4 487.2 766.6 486.3 767.7 486.4 768.8 487.6 769.9 486.8 771.1 487 772.2 487.5 773.3 486.2 774.5 486.7 775.6 488.2 776.6 488.3 777.7 487.1 778.9 487.8 780 487.2 781.1 486.9 782.2 487.5 783.3 487.2 784.5 486.6 785.6 487.1 786.7 487.8 787.8 487.2 788.9 486.6 790 487.8 791.1 487.2 792.2 487.8 793.3 488.8 794.4 487.4 795.6 488.7 796.6 487.1 797.8 487.3 798.9 487.7 800 487.1 801.1 489.1 802.2 487.5 803.3 487.3 804.5 488.7 805.5 488.5 806.6 489.3 807.7 487.8 808.9 489.4 809.9 488.1 811.1 488.4 812.2 488.1 813.3 488 814.4 487.5 815.6 488.2 816.6 487.8 817.8 489.6 818.8 488.7 820 488.4 821.1 487.7 822.2 489.3 823.3 488 824.4 488.7 825.5 488 826.6 489.2 827.7 489.4 828.8 488.2 830 488.8 831.1 488.8 832.2 488.9 833.3 488.5 834.4 489.5 835.5 490.3 836.6 488.7 838 489.4 839.2 490.8 840.2 489 841.7 489.2 842.9 490.2 844 490.9 845.1 490.1 846.5 490.4 847.8 490.6 848.8 491.3 849.9 490.9 851.1 490.6 852.2 491.2 853.3 491.9 854.4 492.6 855.5 492.4 856.7 491.9 857.8 491 859 493 860 491.9 861.2 491.5 862.4 492.6 863.5 492.5 864.6 491.9 865.8 492.8 866.8 493.7 867.9 493.1 869.1 493.7 870.2 491.9 871.4 493.1 872.5 492.1 873.7 493.8 874.7 493.4 875.8 492.7 877 494 878 493.4 879.2 493.5 880.3 494.4 881.4 493.8 882.5 492.4 883.7 493.7 884.8 494.5 885.9 493.2 887.1 494.1 888.1 493.8 889.3 493 890.4 494.6 891.5 494.8 892.6 494.3 893.7 494 894.9 494.1 896 494.3 897.1 493.4 898.3 493.7 899.4 493.7 900.5 493.9 901.6 494.7 902.7 494.5 903.8 494.7 904.9 494.9 906 494.1 907.2 495.1 908.3 495 909.4 495.6 910.5 495.5 911.6 495.1 912.7 494.1 913.9 495.5 914.9 494.7 916.1 495 917.2 496.1 918.3 496.1 919.4 495.5 920.5 494.7 921.6 496 922.7 496 923.8 495.8 925 495.4 926.1 496.2 927.2 494.7 928.3 495.4 929.4 494.6 930.6 494.7 931.7 494.4 932.8 496.3 933.9 494.6 935 495.6 936.1 495.6 937.2 494.9 938.3 496.6 939.4 496 940.5 494.9 941.7 496.7 942.7 495 943.9 495.7 945.1 496.9 943.7 499.4 944.5 499 945.7 498.4 947 497.9 948.2 498.4 949.3 500.1 950.3 498.9 951.6 499.2 952.8 499.5 953.9 499.8 955 498.8 956.3 499.4 957.4 498.8 958.7 500.6 959.7 500.3 960.9 499.4 962 499.6 960.9 499.6 959.8 500.8 958.8 500.2 957.6 501.3 956.6 501.1 955.4 500.1 954.2 500.7 953.1 501.8 952.1 501.7 951 500.2 949.7 502.3 948.8 501.3 947.6 502.5 946.6 501.9 945.4 502.2 944.3 501.5 943.1 501.2 942 502.6 941 501.9 939.8 502.2 938.7 502.6 937.6 503.3 936.6 503.4 935.2 502.2 936.7 502.2 938 504.1 938.9 504.4 940.1 502.9 941.6 503.1 943.1 504.3 943.9 504.4 945.1 504.5 945.9 505.6 944.8 506.7 943.8 505 942.5 505.7 941.4 505.2 940.3 505.8 939.2 505.1 938 507 937 505.7 935.8 507.5 934.8 506 933.6 506.8 932.5 506.5 931.3 506.6 930.2 506.2 929 506.1 927.9 508.3 927 507.6 925.8 506.7 924.6 508.6 923.6 507.2 922.4 508 921.3 507.6 920.1 507.4 919 507.9 917.9 507.3 916.7 508.1 915.7 507.4 914.5 508.3 913.4 508.3 911.5 509.3 912.1 511 912.6 511.9 913.6 511.6 915.9 512.6 915.7 514 916.3 515.3 917 515 918.4 514.5 919.9 516 920.7 518.9 920.4 518.8 921.5 517.2 922.9 518.4 923.9 518.6 925 518.6 926.2 518.8 927.3 518.8 928.4 519.4 929.5 520.5 930.5 519.8 931.8 520.1 932.9 519.3 934.2 519.8 935.1 521.4 934.3 519.9 932.7 521 931.8 522.1 930.8 521.8 929.5 520.7 928 521.8 927.1 523.1 926.2 521.8 924.6 522.3 923.4 524.1 922.8 524.7 921.3 523.7 920.1 524.8 919.1 524.5 917.9 525.5 916.9 523.8 915.5 524 914.4 525.9 913.6 526.1 912.5 525.3 911.2 525.9 910.2 524.7 908.9 525.6 907.9 525.4 906.7 525.5 905.5 526.5 904.6 527.5 903.8 526.1 902.3 527.8 901.6 528.4 900.3 527.5 901.5 527.8 902.6 528.3 903.7 529.3 904.7 528.6 905.9 527.8 907.2 529.4 908.1 528.4 909.4 528.3 910.5 529.6 911.5 530.3 912.5 530 913.7 530.1 915 530.1 913.8 530.5 912.8 529.9 911.4 530.6 910.4 531.7 909.4 531.6 908.3 531 907.1 531 906 530.4 904.8 530.8 903.7 531.6 902.6 531.2 901.5 531.1 900.4 532.6 899.3 531.7 898.1 531.3 897 531.6 895.9 532.9 894.8 531.8 893.6 531.1 892.4 532 891.4 532.6 890.3 532.2 889.1 531.8 888 532.5 886.9 532.2 885.7 532.2 884.6 531.8 883.5 532 882.4 531.9 881.2 533.2 880.1 532.4 879 533.1 877.9 531.7 876.7 533.5 875.6 532.4 874.5 532.9 873.4 533.4 872.2 533.3 871.1 533.9 870 532.5 868.8 532.8 867.7 533.3 866.6 532.2 865.4 533.4 864.3 533.7 863.3 532.9 862 532.4 860.8 532.9 859.7 533.7 858.6 533 857.4 534.1 856.3 532.9 855 533.3 853.9 533.8 852.8 534.2 851.7 533.8 850.5 534.7 849.4 534.3 848.2 535 847.1 533.4 845.8 534.4 844.7 534.5 843.5 534.7 842.4 536 841.4 535.8 840.2 535.2 838.8 536.1 837.8 535.5 836.5 537.5 835.6 535.8 834.3 535.9 833.1 535.9 832 536.2 830.9 536.5 829.7 536.2 828.5 537.4 827.5 536.9 826.3 538.5 825.4 537.8 824.1 537.1 822.9 537.8 821.8 539 821.2 539.8 820 539.8 818.3 541.2 817.1 540.9 815.9 541.4 814.8 541.7 813.6 540.8 812.4 540.1 811.2 540.5 810 540.6 808.9 541.7 807.8 541.7 806.6 541.9 805.5 541.1 804.3 541.2 803.1 541.7 802 542 800.8 540.9 799.6 542.6 798.5 542.9 797.4 541.2 796.2 541.7 795 541.9 793.9 542.6 792.7 542.8 791.6 542.3 790.4 541.6 789.2 543 788.1 542.9 787 541.2 785.8 543.1 784.6 542.3 783.5 542.6 782.3 541.9 781.1 542.2 780 543.3 778.9 542.9 777.8 542.4 776.6 541.8 775.5 543.4 774.4 543.3 773.3 543.6 772.2 541.8 771 543.1 770 543.8 768.9 542.7 767.7 543.7 766.6 543.1 765.5 543.3 764.4 542.9 763.2 542.9 762.1 543.6 761.2 543.6 760 544.3 759 543.4 757.5 543.5 756.4 545.4 755.7 544 754.1 544.6 753.1 545.5 752.2 546.3 751.1 544.7 749.9 545.2 748.7 546 747.6 546.8 746.5 545.6 745.3 545.2 744.2 545.9 743 545.4 741.9 545.7 740.7 547.1 739.6 545.7 738.4 545.2 737.3 545.2 736.1 546.2 735 545.4 733.8 547 732.8 546.9 731.6 546.6 730.4 547.2 729.6 547.2 728.2 547.2 726.7 548.6 725.8 548.7 724.7 549 723.6 549.4 722.5 547.7 721.4 547.8 720.3 548.2 719.2 547.7 718.1 548.6 717 549.3 715.9 549.4 714.8 547.9 713.7 549.8 712.6 548.7 711.5 549.9 710.4 548.6 709.3 548.7 708.2 548.7 707.1 549 706 548.2 704.8 548.5 703.8 549.5 702.7 549.9 701.6 549 700.5 550.7 699.5 549.1 698.3 549.1 697.2 550.8 696.2 550.3 695 549.3 693.9 550.7 692.8 548.9 691.7 548.9 690.3 549.5 689.2 550.4 688.2 551.3 687.2 551.4 685.9 551.4 684.7 552.5 683.5 552.2 682.4 550.9 681.2 552.3 680.1 551 678.9 552.4 677.8 552 676.7 552.2 675.6 552.3 674.4 552.4 673.3 551.6 672.1 552.1 671 552 669.9 551.4 668.7 552.9 667.6 553.4 666.5 553.3 665.4 552.1 664.2 553 663.1 553.4 662 553.1 660.9 552.3 659.8 553.3 658.7 552.1 657.5 553.4 656.5 553.5 655.4 552.7 654.3 553.9 653.2 554.4 652.2 553.9 651 552.6 649.8 553.2 648.8 553.8 647.7 553.2 646.6 554.3 645.5 555 644.5 553.4 643.3 554.6 642.2 554.6 641.1 554.5 640 555.3 639 554.9 637.9 554.2 636.7 555.4 635.7 554.5 634.5 554.5 633.4 555.6 632.4 556 631.3 556.2 630.2 556.1 629.1 555 627.9 554.8 626.7 554.8 625.6 556.2 624.7 555.9 623.5 555.9 622.4 556.2 621.3 555.8 620.1 556.9 619.2 557 618 558 617.2 557.9 615.9 558.1 614.8 558.2 613.6 557.9 612.3 558.5 611.3 558.6 610.2 558.3 609 559.1 608.1 560.6 607.3 559.6 605.9 559.9 604.9 559.8 603.7 560.1 602.7 561.3 601.8 562.2 600.5 562.4 601.7 561.2 603.2 561.8 604.3 562.1 605.5 562.7 606.6 563 607.7 563.5 608.9 563.9 610.1 562.9 611.4 563.6 612.5 563.7 613.7 562.4 614.9 564.1 616 564.4 617.1 563.1 618.4 563.1 619.5 564.6 620.6 564.9 621.7 564.9 622.9 565.2 624 564.8 625.2 564.3 626.4 563.8 627.6 564.8 629.5 567 627.7 567.2 629.3 567.9 630.8 567.5 631.9 567 633.1 567.7 634.1 567.9 635.2 568.4 636.3 567.6 637.5 569.2 638.5 568.1 639.7 568.2 640.8 569.5 641.8 569.6 642.9 569.4 644.1 568.1 645.3 568.8 646.4 569.9 647.4 568.2 648.6 569.8 649.6 570.3 650.7 568.6 652 568.5 653.1 570.2 654.1 569.1 655.3 569 656.4 568.8 657.5 569 658.6 571 659.6 570.5 660.8 570.8 661.8 571.1 662.9 569.3 664.2 570.3 665.2 571.1 666.3 571.3 667.4 571.6 668.5 570.2 669.7 570.3 670.8 571.7 671.8 571.7 673 571.5 674.1 571.9 675.2 570.9 676.3 571.4 677.4 571.1 678.5 570.3 679.6 571.9 680.7 572.1 681.8 571.5 682.9 571.1 684 571.8 685.1 571.3 686.2 571.9 687.3 571.7 688.4 572.7 689.5 571.6 690.6 571.7 691.7 572.8 692.8 571.4 693.9 570.8 695 572.6 696.1 572.5 697.2 571.7 698.3 571 699.5 571.6 700.5 572.2 701.6 572.5 702.7 572.2 703.8 572.3 704.9 573.2 705.9 571.7 707.2 571.9 708.4 573.4 709.2 572.6 710.5 572.3 711.8 573.2 712.7 573.7 713.8 573.6 715 574.9 715.9 575.1 717 575.5 718.1 575.1 719.4 574.9 720.5 575 721.7 576.3 722.8 575.4 724 575.1 725.2 575.9 726.4 575.7 727.6 574.8 728.8 575.7 729.9 577 731 577 732.2 577.2 733.4 576.6 734.6 576 735.7 575.8 736.8 575.3 737.9 576.3 739 576.4 740.1 575.2 741.3 576.2 742.4 576.6 743.5 576.7 744.6 576.5 745.7 575.9 746.8 575.6 747.9 577 749 575.9 750.1 575.3 751.2 576.7 752.3 576.9 753.4 577 754.5 576.9 755.6 577.2 756.7 576 757.9 575.7 759 577.1 760.1 576.5 761.2 575.4 762.3 576.3 763.4 577.4 764.5 575.4 765.6 576.1 766.7 576.1 767.8 577.4 768.9 577.2 770 577.2 771.1 577.2 772.2 577 773.4 575.7 774.5 576.6 775.6 575.8 776.7 576.4 777.8 576.2 778.9 577.2 780 575.5 781.1 575.8 782.2 576.6 783.3 577.2 784.4 576.2 785.5 576.6 786.6 576.9 787.7 576.7 788.8 576.2 789.9 577.6 791 576.1 792.1 576.6 793.2 576.2 794.3 577.7 795.4 578.1 796.5 577.1 797.6 578.1 798.7 578.2 799.8 576.4 800.9 576.9 802 576.4 803.1 576.6 804.2 576.9 805.3 578.3 806.4 576.8 807.5 577.7 808.6 577.8 809.7 577.4 810.8 577.9 811.9 577.6 813 577.9 814.1 577.1 815.2 578.2 816.3 578.1 817.4 578 818.5 578.1 819.6 578.3 820.7 578.8 821.8 578.8 822.9 578.8 824 577.3 825.1 577.6 826.2 579.2 827.3 578.8 828.4 579.5 829.5 577.6 830.7 577.5 831.9 578.9 832.9 578.1 834.1 579.1 835.2 578.7 836.3 577.9 837.5 578.3 838.6 578.5 839.7 579.7 840.7 579.7 841.9 580 843 580.1 844.1 579.9 845.2 579.5 846.4 579.7 847.5 579.3 848.6 580.3 849.7 580.4 850.8 578.7 852 580.6 853.1 580.3 854.2 579.4 855.4 579.1 856.5 579.2 857.6 580.4 858.7 579.4 859.9 580.1 861 579.3 862.1 580.1 863.2 581.1 864.3 579.4 865.5 579.8 866.6 580.3 867.7 580.8 868.8 580.7 869.9 581.3 871 580.3 872.2 581.5 873.3 580.9 874.4 581.6 875.5 580.1 876.7 581.4 877.8 580.4 878.9 580.3 880 581 881.1 580.5 882.3 581 883.4 581.1 884.5 581.4 885.6 581.6 886.7 581.3 887.9 581.2 889 580.3 890.2 580.3 891.3 580.9 892.4 582.1 893.5 581.6 894.6 581.4 896 583.2 896.5 582.3 898.2 582.6 899.5 583.2 900.2 584.8 901.3 584.9 902.4 584.7 903.5 583.4 904.7 583.4 905.8 584.4 906.8 585 907.9 583.5 909.1 584.1 910.2 583.6 911.3 585.1 912.4 584.4 913.5 584.7 914.6 584.9 915.7 584.9 916.8 585.1 917.9 584.5 919.1 585.3 920.1 585 921.3 584.4 922.4 584.8 923.5 586.1 924.5 584.9 925.7 585.9 926.8 585.3 928 585.1 929.2 585.2 930.3 587.6 930.9 586.6 932.2 586.7 931 587.3 929.9 588.2 929 589 928 588.6 926.7 589.1 925.2 588.5 927.2 590.5 927.9 591.1 929 591.1 930.1 589.4 931.3 590.7 932.4 589.7 933.5 591 934.6 590.1 935.7 591 936.8 591 937.9 590.3 939.1 591.4 940.2 591.3 941.3 591.1 942.4 590.9 943.6 591.5 944.6 591.2 945.8 591.4 946.9 590.5 948 591.9 946.9 590.2 945.6 590.4 944.4 591.5 943.2 590.4 941.9 591.3 940.8 591.7 939.6 592.2 938.4 591.8 937.8 593.6 937.2 593.1 938.4 594 939.5 593.2 940.7 593.6 941.8 594 942.9 593.7 944.1 594.5 945.2 595.3 946.3 595.5 947.4 594.5 948.6 595.6 949.7 594.2 951 595.5 952 595.7 953.1 596 954.3 596 955.4 594.2 956.7 594.7 957.8 595.1 958.9 595.7 960 596.1 961.2 595.1 962.2 594.9 960.9 597.2 960.4 597 959.1 598 958.2 598.1 957 598.4 955.8 596.9 954.4 598.5 953.4 598 952.1 598.5 951 598.1 949.7 599.1 948.7 599 947.4 598.7 946.2 599.7 945.1 599.3 943.9 598.8 942.6 599 941.5 600.7 940.5 600.1 939.3 600.7 938.2 599.6 937 599.9 935.9 600.1 934.8 600.1 933.7 599.5 932.5 601.1 931.5 600.5 930.3 601.6 929.3 600.3 928 600 926.9 599.7 925.7 600.4 924.6 601.8 923.6 601.3 922.5 601.7 921.3 601.2 920.2 601.7 919.1 600.3 917.9 602.1 917.1 601.5 915.4 603.3 914.3 601.8 915.8 602.4 917 604.1 918 603 919.4 603.9 920.5 603.9 921.7 603.1 923.1 603.6 924.6 605.5 924.9 605.6 926.5 606.6 927.6 607.3 926.6 607.2 925 607.9 924.5 608.5 925.5 608 926.8 609.1 927.7 609.9 928.7 609.3 929.9 610.8 930.8 609.2 932.2 610.8 933.1 611.3 934.1 611.1 935.3 611.6 936.3 610 937.7 611.4 938.6 610.5 939.9 611.5 940.5 612.7 940.9 614 939.8 613.1 938.7 614 937.6 612.2 936.5 614 935.4 613.6 934.3 612.9 933.2 612.6 932.1 613.4 931 612.5 929.9 612.6 928.8 613.4 927.7 614.5 926.6 614.5 925.5 613.8 924.4 613.8 923.3 613.5 922.2 614.2 921.1 613.2 920 613.3 918.9 614.3 917.8 614.5 916.7 614.1 915.6 614.8 914.5 614.1 913.4 614.9 912.3 613.3 911.2 613.5 910.1 615 909 615.4 907.9 613.5 906.8 614.2 905.7 614.4 904.6 614.9 903.5 614.3 902.3 615.7 901.4 616.2 900.4 616.4 899.3 614.8 897.9 615 896.8 617 896 615.3 894.6 616.9 893.3 616.1 895.1 618.2 895.1 617.4 896.7 619.3 897.5 619.2 898.8 618.9 900.1 618.5 901.5 620.6 902.2 619.3 903.6 620.7 902.6 619.5 901.4 619.2 900.3 619.5 899.2 621.1 898.3 620.1 897.1 620.5 896 620.7 894.9 621.1 893.8 620.6 892.7 620.1 891.5 621.6 890.5 622.1 889.5 621.1 888.3 620.7 887.1 622 886.1 622.3 885.1 620.6 883.8 622.7 882.9 621.8 881.7 621.6 880.5 621.8 879.4 621.6 878.2 622.8 877.1 621.3 875.8 621.8 874.7 622.7 873.6 622.1 872.4 623.5 871.4 622.1 870.1 622.6 868.9 623.4 867.8 623.8 866.7 623.3 865.5 624.2 864.4 624.5 863.3 623.2 861.9 624.2 860.9 623.7 859.6 625.3 858.7 624.4 857.3 624.2 856.1 625.8 855.1 625.5 853.9 625 852.6 625.1 851.4 625 850.3 624.9 849.1 625.3 848 625.2 846.8 625.3 845.6 625.1 844.5 625.3 843.3 626.4 842.2 626.3 841.1 625.8 839.9 625.5 838.7 627.6 837.9 626 835.9 627 834.7 627.9 833.4 628.9 832.4 627.6 831.2 628.9 830.1 628.1 828.9 628.7 827.8 627.1 826.6 627.5 825.5 628.4 824.4 628.4 823.3 627.2 822.1 627.7 821 628.4 819.9 627.5 818.7 628.4 817.7 627.6 816.5 628 815.4 628.1 814.3 627.6 813.1 627.8 812 629.4 810.9 628.3 809.7 628.6 808.6 629.5 807.5 629.9 806.4 628.5 805.2 627.9 804.1 629.5 803 628.8 801.9 628.9 800.7 628.2 799.6 628.2 798.4 628.7 797.2 630.4 796.3 630 795 630.6 793.9 629.7 792.5 630.8 791.5 629.3 790.1 630.6 789.1 630.5 787.8 631.7 786.8 632 785.6 630.6 784.3 630.6 783.2 631.4 782.2 631.4 781 632.3 780 631 778.7 631.7 777.7 631 776.5 631.2 775.4 631.9 774.3 631.8 773.2 633.2 772.2 633 771.1 631.9 769.8 633.6 768.9 632 767.6 632.4 766.5 633.2 765.5 633.6 764.4 633.4 763.2 632.7 762 633.6 761 634.5 760 634.6 758.9 633.9 757.5 635.1 756.7 635.2 755.5 635.4 754.4 635.3 753.2 636.1 752.2 636.3 751.1 635.5 750 636.4 748.9 636.7 747.8 635.6 746.6 636.3 745.6 636.4 744.5 636.8 743.4 636.5 742.3 637.6 741.3 637.2 740.1 637.2 739 636.7 737.9 636.9 736.8 637.7 735.7 636.4 734.6 638.3 733.6 636.8 732.4 637.6 731.3 637.8 730.2 638.5 729.2 638.6 728.1 636.9 726.9 638 725.8 637.8 724.7 638.2 723.6 637.2 722.5 638.1 721.4 639.1 720.4 637.3 719.1 638.4 718.1 638.6 717 639.1 716 639.2 714.9 637.5 713.6 637.7 712.5 638.5 711.5 639 710.4 639.5 709.3 638.8 708.2 638.9 707.1 639.9 706.1 639.7 704.9 640 703.9 638.2 702.6 639 701.6 638.9 700.5 640 699.4 638.6 698.2 639.1 697 639.8 695.9 638.7 694.6 639 693.5 639.3 692.3 639.9 691.2 639 689.9 639.9 688.8 641.3 687.7 641.4 686.5 640.1 685.2 640.9 684.3 640.6 683.1 640 681.8 641.2 680.9 641 679.7 641.2 678.6 641.1 677.5 642.6 676.5 642.3 675.4 642.5 674.3 643 673.2 641.4 672 643.6 671 643.7 669.9 643.7 668.8 643 667.6 642.4 666.5 642.9 665.4 643.5 664.3 643 663.2 642.9 662 642.7 660.9 643.8 659.9 642.3 658.7 644.2 657.7 643.1 656.5 644.2 655.4 642.7 654.2 643.6 653.2 643.6 652.1 645 651.1 645 650 644.8 648.8 645.1 647.8 643.7 646.6 643.3 645.4 643.7 644.4 644.6 643.3 644.4 642.2 644.5 641.1 645 640 643.9 638.8 644.8 637.5 646.1 638.3 646.5 637.6 646.8 636.5 647.7 635.6 648.5 634.6 648.5 633.4 647.6 632.1 649.5 631.3 649.9 630.3 648.4 629 648.5 627.8 649 626.7 649.9 625.6 648.4 624.4 650 623.4 648.9 622.2 650.6 621.2 649.3 619.9 649.6 618.8 649.8 617.7 649.6 616.6 650.8 615.5 649.9 614.3 649.2 612.6 649.9 611.7 651.6 611.5 652.5 610.8 653.2 609.3 654.1 610.4 654.2 611.9 655.4 613.1 655.3 614.3 655.6 615.5 655.2 616.7 655.1 617.9 655.5 619 656.1 620.2 655.1 621.5 656.1 622.5 655.8 623.9 656.4 624.8 656.7 625.9 657.8 626.7 656.7 628.2 658.9 629 658.1 630.1 658.9 631.3 657.7 632.5 659.1 633.5 658.7 634.7 659.1 635.8 657.5 637 659.2 638.1 658.9 639.3 659 640.4 658.6 641.6 659 642.7 658 643.9 658.8 645 658.9 646.2 658.6 647.3 659.6 648.4 658.2 649.6 659.6 650.7 658.5 651.9 659.8 652.9 660 654 658.3 655.3 659.1 656.4 659.9 657.4 660.3 658.5 660.2 659.6 658.9 660.8 659.1 661.9 659.1 663.1 660 664.1 659.6 665.3 660.6 666.3 659.5 667.5 660.9 668.5 660.7 669.6 660 670.8 660.8 671.9 660.8 673 660.3 674.1 661.5 675.2 661.8 676.3 661.4 677.4 660 678.6 659.9 679.7 661.9 680.7 661.9 681.8 660.1 683 660 684.1 660.6 685.2 661 686.3 661.9 687.4 660.9 688.6 661.6 689.6 661.3 690.8 662.4 691.8 660.5 693 661.3 694.1 661.8 695.2 661.8 696.4 661.9 697.5 660.7 698.7 661.2 699.8 662.7 700.9 660.9 702.1 662.5 703.1 661.7 704.3 660.9 705.5 661.2 706.6 661.6 707.7 663.2 708.8 661.2 710 662 711.1 661.5 712.2 662.3 713.3 661.3 714.5 662.6 715.6 663.2 716.7 661.6 717.9 662.9 719 662.5 720.1 662.3 721.3 663.1 722.4 661.8 723.6 663.4 724.6 663.5 725.8 662.9 726.9 663.7 728 662.2 729.1 664.1 730.2 663.5 731.3 664.2 732.4 662.2 733.5 662.6 734.6 664 735.7 662.4 736.8 663.9 737.9 663.8 739 662.8 740.1 663.2 741.2 664.1 742.3 664 743.4 663.4 744.5 663.4 745.6 664.8 746.7 664.5 747.8 663.6 748.9 664.9 750 663.2 751.1 664.9 752.1 664.7 753.3 665 754.5 664.5 755.7 664.8 756.9 664.6 758.1 665.6 759.1 665.3 760.3 664.8 761.6 666.3 762.6 666.1 763.8 666.8 764.9 666.1 766.2 664.9 767.4 665 768.5 666.3 769.5 666.5 770.6 666.4 771.7 665.6 772.9 667.1 773.9 666.5 775 666.4 776.2 666.9 777.2 667.6 778.3 666 779.5 665.8 780.6 667.1 781.7 666.6 782.8 666 784 666.7 785 666.6 786.1 667.5 787.2 666.2 788.3 667.6 789.4 667.3 790.5 666.9 791.6 668.4 792.7 667.9 793.8 666.3 795 667.3 796 667.2 797.1 667.2 798.2 667.8 799.3 667.1 800.5 667.3 801.6 667.9 802.6 668.5 803.7 667.9 804.9 667.5 806 668.7 807 667.8 808.2 666.7 809.3 668.6 810.4 667.9 811.5 667.2 812.6 668.3 813.7 669 814.8 667.1 815.9 667.7 817 668.7 818.1 667.9 819.2 669.2 820.3 668.5 821.4 668.9 822.5 668.1 823.7 667.8 824.8 668.2 825.9 667.6 827 668.2 828.1 669.8 829.1 667.9 830.4 669.3 831.4 668.5 832.5 670.1 833.6 668.1 834.8 669 835.9 669.1 837 668.5 838.1 670 839.1 669.7 840.3 669.4 841.4 668.9 842.5 669 843.6 670.8 844.7 671 845.8 669.2 847 670.3 848.1 671 849.1 670.1 850.3 669.5 851.5 671 852.5 671.4 853.6 670.2 854.8 670.4 855.9 670.2 857 671 858.1 670.5 859.3 670.5 860.4 670.3 861.5 671.3 862.6 670.1 863.8 670.5 864.9 671.4 866 670.7 867.1 672.1 868.2 672.1 869.3 670.5 870.5 671.5 871.6 671 872.7 670.4 873.9 671.1 875 671.4 876.1 671.8 877.2 672.6 878.3 671.8 879.4 672.4 880.5 671.1 881.7 671.2 882.8 672.3 883.9 672.2 885 671.5 886.2 673 887.2 672.9 888.3 671.4 889.5 672.8 890.5 672.2 891.7 672.5 892.8 673.2 893.8 672.3 895 673.2 896.1 673.4 897.2 672.9 898.3 673 899.4 674 900.5 674 901.6 673.2 902.7 673.1 903.9 673.7 904.9 673.8 906 673.7 907.2 674.6 908.2 672.5 909.4 672.8 910.5 673.9 911.6 673.6 912.7 673.1 913.9 674.3 914.9 673.7 916.1 674.1 917.2 674.2 918.3 673.2 919.4 673.4 920.5 673.2 921.6 673.4 922.7 674.6 923.8 673.8 924.9 673.3 926.1 674.7 927.1 673.6 928.3 674.2 929.4 673.8 930.5 673.7 931.6 673.3 932.7 675 933.8 674.6 934.9 674.3 936 674.3 937.2 673.7 938.3 675.4 939.3 674 940.5 675.4 941.6 674.5 941.9 676.1 942.3 676.9 942 677.1 943.1 677.3 944.3 678.3 945.2 679.5 946.2 678.8 947.5 678.2 948.8 679.6 949.7 679.9 950.8 680.5 951.9 681.2 953 681.1 954.4 681.7 955.5 680.5 957.1 681.4 958.2 682.2 958.9 684.2 960.4 683.7 959.1 683.2 957.9 685 957 684 955.6 685.2 954.6 685.3 953.5 684 952.1 685.1 951.1 684.9 949.8 684.7 948.6 684.4 947.4 685.2 946.4 685 945.2 686.6 944.2 686.6 943 685.6 941.8 685.8 940.7 685.9 939.5 686.8 938.4 685.8 937.2 687.2 936.2 685.9 935 686.4 933.8 686.8 932.7 685.5 931.5 685.5 930.3 686.4 929.3 685.7 928.1 687.7 927 686.5 925.8 687 924.7 686.5 923.5 686.9 921.9 688.7 922.4 688.6 923.5 688.8 924.6 689.7 925.6 688.9 926.9 689.7 927.8 689.3 929.1 689.6 930.1 689.6 931.2 689.9 932.2 689.8 931 689.9 929.9 690.4 928.8 690.8 927.8 691.6 926.8 690.9 925.5 691.7 924.5 692 923.4 691.9 922.3 692.3 921.2 692.5 920.1 692.9 921.1 692.1 922.4 693.8 923.2 693.9 924.3 693.1 925.6 694.6 926.4 693.9 927.7 694.7 928.7 694.2 929.9 693.7 931.1 695 932 695.6 933.8 696 931.6 696.5 930.4 697.7 929.4 696.5 927.8 697.7 926.8 697.5 925.4 698.9 924.5 698.3 923 698.2 921.7 697.9 920.4 699.5 919.5 700.3 918.5 700.5 917.2 699.9 916.4 702.5 916.7 700.8 918 702.1 919 701.5 920.2 702 921.3 701.8 922.5 701.7 923.7 703.1 924.7 702 925.9 702.1 927.1 703.4 928.1 702.5 929.2 703.8 928.2 704.1 927.1 702.8 925.9 702.9 924.8 704.4 923.8 704.3 922.7 702.7 921.5 704 920.5 703 919.3 702.7 918.2 703.6 917.1 704.9 916.1 704.9 915 704.3 913.8 703.1 912.6 705.1 911.7 703.8 910.5 704.9 909.4 703.9 908.2 704.1 907 704.1 905.9 704.4 904.7 705 903.6 705 902.5 704.4 901.2 706 900.2 705 898.9 705.5 897.8 705.8 896.7 705.5 895.5 706.9 894.5 705.1 893.1 705.5 892 705.2 890.6 705.8 889.5 707.4 888.5 706.4 887 708 886.1 708 884.8 707.7 883.5 708.8 882.4 707.7 881.3 707.8 880.2 708.8 879.1 707.7 877.9 708.5 876.9 709.5 875.8 708.3 874.6 707.9 873.5 709.2 872.5 709.6 871.4 709.6 870.3 708.3 869.1 708.4 868 708.4 866.8 709.1 865.8 709.4 864.6 709.4 863.5 710.4 862.5 711.3 861.5 710.5 860.2 710.7 859 711.7 858.1 711.3 856.8 713.7 857.6 713.3 858.8 712.7 860 711.9 861.2 712 862.3 713.2 863.3 712.4 864.5 713.5 865.6 712.4 866.8 714.4 867.7 713.1 869 714.2 870 714.7 871.1 714.9 872.2 714.2 873.4 713.1 872.2 713.8 871.1 713.7 870 714.4 868.9 714 867.7 715 866.6 715.5 865.5 715.9 864.4 715 863.2 715.8 862.1 714.4 860.9 714.5 859.8 714.1 858.7 715.4 857.6 716.2 856.5 715.3 855.4 716.3 854.3 715.7 853.1 714.4 852 715.6 850.9 715.7 849.8 716.2 848.6 714.8 847.5 716.4 846.4 716.4 845.3 715.2 844.1 715.4 843 715.3 841.9 716.4 840.8 716.5 839.7 715.7 838.5 716.1 837.4 715.3 836.3 715.4 835.1 715.3 834 715.8 832.9 716.1 831.5 716.8 831.9 716.9 833.2 717.5 834.4 718.2 835.7 718 834.5 719.3 833.4 717.4 832.1 719.1 831 717.9 829.8 718.1 828.6 719 827.5 717.8 826.3 719.7 825.2 717.7 823.9 719.1 822.8 719.1 821.7 719.6 820.5 718.1 819.3 719.7 818.2 720.3 817.1 719.6 815.9 718.6 814.7 720.1 813.7 720 812.6 718.9 811.4 719.9 810.3 719.7 809.2 719.4 808.1 718.9 807 720.3 805.9 720.6 804.8 720.5 803.7 719 802.5 720.3 801.5 719.7 800.3 721 799.3 719.1 798 719 796.9 720.1 795.9 720.2 794.8 721 793.7 720.4 792.5 720.3 791.4 719.7 790.3 721.5 789.2 720.9 788.1 719.5 786.9 720.2 785.8 720.5 784.6 721.3 783.5 721.4 782.4 721.1 781.2 720.4 780.1 720.2 778.9 720 777.8 720 776.6 720.1 775.5 721.1 774.4 720.6 773.2 721.5 772.1 720 770.9 720.9 769.8 721.6 768.8 721 767.5 720.7 766.3 722.2 765.4 721.3 764.1 723.4 763.4 722.4 762.1 723.8 761 722.2 759.9 723.5 758.8 722.5 757.6 723.4 756.6 722 755.4 722.9 754.3 722.8 753.2 722.2 752 722.5 750.9 723.1 749.8 722.7 748.7 724.4 747.7 724.3 746.5 723.6 745.4 723.5 744.3 724.1 743.2 723.6 742 724.4 740.9 724.7 740.1 724.1 738.8 723.4 737.4 724.5 736.6 725.3 735.7 725 734.6 725.7 733.5 726 732.3 726.3 731.2 726.6 730.1 725.2 728.8 726.6 727.8 725.5 726.6 726.2 725.4 725.7 724.3 725.3 723.1 725.5 722 725.8 720.8 726.7 719.7 727.2 718.6 726.9 717.4 727.5 716.3 727.7 715.2 727.3 714 727.7 712.9 725.9 711.4 727 710.4 727.9 709.4 728.3 708.2 728.5 707.1 729.1 706 727.3 704.9 728 703.8 727.4 702.7 729.2 701.6 729.6 700.6 729 699.4 729.4 698.3 727.7 697.2 728.9 696.1 729.5 695 728.2 693.9 729.1 692.8 729.2 691.7 729.1 690.6 729 689.2 729.3 688 730.9 687.3 731.7 686.2 731.6 684.9 731.7 683.5 730.7 682.2 732.5 681.2 731.6 680 732.8 678.9 732.1 677.7 732.7 676.5 731.7 675.3 731.3 674.1 731.7 673 733.2 671.9 731.8 670.7 731.9 669.6 731.8 668.5 732.2 667.4 733.5 666.4 733.5 665.3 732.9 664.1 733.3 663 732.4 661.9 732.1 660.7 732.9 659.7 734 658.6 732.9 657.4 733.6 656.4 733.2 655.2 734 654.2 733.9 653 734.3 652.1 733.8 650.7 734 649.5 733.4 648.1 733.5 646.9 735.7 646.2 736.1 644.8 735.8 643.7 735.1 642.6 735.1 641.4 735 640.3 736 639.2 735.8 638.1 736.3 637 735.5 635.9 735.8 634.7 736.4 633.7 734.6 632.5 736 631.4 735.3 630.3 735.7 629.1 736.6 628.1 736.2 626.9 736 625.8 736.4 624.7 734.9 623.5 736.6 622.5 736.3 621.3 735.7 620 737.2 619.1 738.4 617.2 738.8 618.8 739.8 620.2 740.2 621.3 738.6 622.5 740.3 623.5 738.8 624.7 739.7 625.7 741 626.8 739.6 628 739.6 629.1 739.8 630.2 741 631.2 739.7 632.4 740.4 633.5 741.3 634.5 741.2 635.6 741 636.8 741.1 637.9 741.2 639 740.8 637.8 740.5 636.7 741.5 635.6 740.5 634.4 741.2 633.4 742.2 632.3 741.2 631.1 740.9 629.9 742.6 628.9 742.2 627.8 742 626.6 742.9 625.6 743.1 624.5 742.6 623.3 741.8 622.1 742.3 621 742.8 619.9 741.7 618.7 743.7 617.2 743.9 618.7 742.8 620.4 745.1 621.2 743.8 622.5 744.2 623.6 745.1 624.6 745 625.8 745.5 626.8 745.5 628 745.6 629.1 744.6 630.4 746.3 631.3 745.5 632.6 745.8 634.3 747.5 634.8 749.1 636 748 637.1 747.9 638.3 748.3 639.4 749.1 640.5 749.1 641.6 747.7 642.8 747.7 643.9 748.6 645 748.5 646.2 748.8 647.3 748.1 648.4 747.7 649.6 749.8 650.6 749.4 651.8 748 652.9 749.9 654 750 655.1 748.4 656.3 749.2 657.4 748.4 658.6 749.9 659.7 748.7 660.8 748.7 662 748.9 663.1 748.7 664.2 750.1 665.3 750.4 666.4 749.1 667.5 750.1 668.6 748.8 669.8 750.3 670.8 749.8 671.9 750.4 673 748.7 674.2 749.7 675.3 750.7 676.3 748.8 677.5 750.3 678.6 750.2 679.7 749.3 680.8 750.2 681.9 750.4 683 749.5 684.2 751 685.2 749.4 686.4 750.4 687.4 749.5 688.6 751.2 689.6 749.7 690.8 750.1 691.9 750.2 693 751 694.1 751.5 695.2 751.3 696.4 751.6 697.6 751.5 698.8 751.7 699.9 750.9 701.2 751.7 702.3 751.6 703.5 751.3 704.7 750.9 705.9 751 707 751 708.1 751.4 709.2 752.7 710.2 753.1 711.3 752 712.6 752.1 713.7 752.3 714.8 753.1 715.8 753.7 716.9 753.2 718.1 752.5 719.2 753.5 720.3 752.5 721.4 753 722.5 754.1 723.5 753.9 724.7 753.6 725.8 753.9 726.9 752.9 728 753.3 729.1 753.5 730.2 753.2 731.3 754 732.4 753.4 733.5 754.2 734.6 753.9 735.7 754.4 736.8 754.1 737.9 753.4 739 753 740.1 754.5 741.2 753.2 742.3 754.1 743.4 753.6 744.5 753.1 745.6 754.5 746.7 754.2 747.8 753.3 749 753.5 750.1 753.9 751.2 753.7 752.3 754.5 753.4 753.3 754.5 753.3 755.6 753.5 756.7 754 757.8 754.9 758.9 753.6 760 754.1 761.1 754.4 762.3 754.3 763.4 753.7 764.5 754.6 765.6 753.7 766.7 754.6 767.8 754.3 768.9 755.1 770 754.1 771.1 754.4 772.2 755.3 773.3 753.7 774.5 753.5 775.6 754.5 776.7 754.1 777.8 753.7 778.9 755.5 780 755.2 781.1 755 782.2 753.8 783.4 754.3 784.5 754.6 785.6 754.5 786.7 754.1 787.9 754.2 789 756 790 755.2 791.2 754.3 792.4 756.2 793.4 755.4 794.6 755.5 795.7 756.1 796.8 756.3 797.9 755.2 799.1 756.5 800.1 754.7 801.3 754.7 802.5 754.8 803.6 755.5 804.7 755.6 805.8 755.3 806.9 755.9 808 756.8 809.1 756 810.3 755.3 811.4 755.3 812.5 755.5 813.7 755.9 814.8 757.1 815.8 755.9 817 755.8 818.1 757.2 819.2 755.4 820.4 756 821.5 757 822.5 756.4 823.7 756.8 824.7 757.4 825.8 757.3 826.9 756 828.1 758.1 829.1 756.2 830.4 757.2 831.4 757.4 832.5 758 833.6 756.5 834.8 757.5 835.8 758.3 836.9 758.4 838 757.4 839.2 757.5 840.3 757.3 841.4 758.8 842.4 757.9 843.6 758.5 844.7 759.1 845.8 757.2 847.1 758.1 848.3 757.9 849.5 759.4 850.5 758.1 851.8 759 852.9 758.7 854.2 759.2 855.3 759.3 856.5 759.7 857.7 759.8 858.8 758.7 860 758.4 861.1 760 862.1 759 863.3 759.5 864.4 758.2 865.6 758.6 866.7 759.2 867.8 759.5 868.9 759.5 870 759 871.1 760.5 872.2 758.9 873.4 760.3 874.4 760.8 875.6 759.1 876.7 760 877.8 760.8 878.9 760.4 880 760.8 881.1 759.7 882.3 759.5 883.4 759 884.6 760.5 885.6 759.4 886.8 759.5 887.9 759.5 889 759.2 890.2 759.9 891.3 759.4 892.4 761.1 893.5 760 894.8 760.2 896.2 762.2 896.8 761.6 898.3 762.6 899.4 762.9 900.6 762.1 901.7 763 902.8 762.2 904 763.5 905.1 762.5 906.3 763.3 907.4 763.4 908.5 761.9 909.7 763.3 910.8 762.5 912 763.4 913.1 762.2 914.3 763.1 915.4 763.6 916.5 762.4 917.7 763.9 918.8 762.4 920 762.3 921.1 764.4 922.2 764.3 923.3 764.3 924.4 763.7 925.6 763.3 926.8 763 927.9 764.2 929 762.9 930.2 764.3 931.2 764.4 932.4 763.5 933.5 763.5 934.6 762.7 935.8 763 936.9 763.3 938 763.7 939.1 763.4 940.2 764.9 941.3 764.1 942.5 763.4 943.6 763.5 944.7 763.4 945.9 763.8 947 764.1 948.1 764 949.2 763.2 950.3 764.3 951.4 764.5 952.6 764.8 953.7 764.9 954.8 764.1 955.9 764.8 957 763.8 958.2 764.6 959.3 763.3 960.4 764.2 961.5 765.1 962.6 763.9 963.8 764.5 964 767.4 965 765.6 963.7 766.2 962.7 765.9 961.5 767.2 960.5 767.2 959.4 767.3 958.3 767.2 957.1 766.9 956 766.6 954.9 766.9 953.8 768.1 952.7 766.6 951.5 767.8 950.5 767.1 949.3 768.1 948.3 768 947.2 767.4 946 767.5 944.9 767.6 943.8 768.4 942.8 769.5 942.2 769.9 941 771 939.6 770 940.9 770.3 942.1 771.6 943 771.1 944.3 770.7 945.6 772 946.5 771.9 947.7 772.3 948.8 772.4 950 772.4 951.3 773 952.5 773.1 953.9 772.6 955.3 774.4 956.6 774.4 955.4 773 954 773.8 952.9 773.1 951.7 774.1 950.6 774.7 949.5 773.5 948.2 775.2 947.2 774.1 945.9 774.5 944.8 775.2 943.7 775.5 942.5 775.1 941.3 775.2 940.1 776.4 939.2 775.2 937.6 776.8 936.7 776.3 935.2 775.9 933.8 776.4 932.6 777 931.3 778.2 930.6 778.8 929.6 778.4 927.8 780 926.9 780.3 925.8 780 924.7 781.4 923.6 779.9 922.4 780.6 921.3 780.9 920.2 781.3 919.1 780.7 917.9 780.9 916.8 780.4 915.7 780.2 914.5 781.4 913.5 780.1 912.3 781.4 911.2 782.1 910.1 782.1 909 782.3 907.9 782.1 906.8 782.1 905.6 782.3 904.5 780.5 903.3 781.6 902.2 780.9 901.1 780.9 899.9 782.2 898.9 782.3 897.8 782.2 896.6 781.2 895.5 782.7 894.4 781.3 893.2 782.8 892.2 782.1 892 783.1 891 784.7 892.1 784.6 893.2 784.5 894.4 783.3 895.6 783.7 896.7 784.5 897.8 784.6 898.9 783.4 900.1 785.5 901.1 784.7 902.3 785.2 903.4 784 904.6 784.8 905.7 784 906.9 785.1 908 784.3 909.2 784.3 910.3 785.7 911.4 785.3 912.5 784.9 913.7 785.9 914.8 785.4 915.9 785.5 914.8 786.8 914 785 912.4 785.3 911.4 787.4 910.7 787.1 909.9 788.9 908.4 789.2 909.4 788.5 910.7 787.6 912 788.4 913 788.1 914.2 789.9 915 789 916.2 789.5 917.3 790.7 918.2 789 919.3 790.7 918.4 789.7 917.1 789.7 916 790.8 915.1 791.2 914 791.4 912.9 792.3 912 790.5 910.5 790.8 909.5 792 908.4 792.8 909.1 793.3 908 794.4 907.4 795.1 906.5 795 905.6 796.6 904.6 796.7 903.4 795.8 902.2 795.4 901 796.3 899.9 797 898.8 795.6 897.5 796.5 896.4 797.4 895.3 797.5 894.2 797.1 893 796.1 891.8 797.1 890.7 797.3 889.5 796.6 888.3 798.4 887.2 797.9 886.1 796.4 884.9 797.7 883.8 796.8 882.6 796.8 881.5 798.7 880.4 797.3 879.2 798.1 878.1 798.6 877 798 875.9 797.5 874.7 798 873.6 798.3 872.5 798.1 871.3 797.5 870.2 799.2 869.1 799.3 868 798 866.8 798.3 865.6 797.9 864.5 798 863.4 799.6 862.3 798.1 861.1 798.3 860 798.4 858.8 798.6 857.5 800 856.9 799.7 858.2 801.6 859.1 801.6 860.4 801.4 861.8 802.3 862.9 800.9 864.1 801.3 863 801.2 861.8 802 860.8 802.8 859.7 802.7 858.6 802.2 857.3 801.9 856.1 803 855.1 802.6 853.9 802.6 852.6 803 851.4 803.4 850.3 804.7 849.3 805.6 848.1 804 846.8 804.6 845.7 805.3 844.6 804.6 843.4 804.5 842.2 805.3 841.1 805.7 840 806.3 838.9 805.8 837.7 804.5 836.4 805.8 835.4 806.4 834.3 805.3 833 805.4 831.9 805.8 830.7 806.5 829.6 806.7 828.5 805.9 827.3 805.5 826.1 805.6 825 807 823.9 806.5 822.7 806 821.5 805.6 820.3 806.4 819.2 806.5 818.1 806.4 816.9 806.7 815.8 806.8 814.6 806.2 813.4 807.7 812.3 808 811.2 807.2 810 807.6 808.9 808 807.8 807.3 806.6 807.6 805.5 806.7 804.3 807.2 803.2 807.9 802.2 808.7 801.1 808.5 800 807 798.8 808.7 797.8 807.7 796.6 808.8 795.6 808 794.4 808.5 793.3 807.8 792.1 808 791.1 809.9 790.1 809.4 788.9 809.1 787.8 808.6 786.6 809.4 785.5 809.4 784.4 810.4 783.4 809 782.1 810.1 781.1 808.9 779.8 809.7 778.8 809.4 777.6 810.3 776.6 809.1 775.3 809.4 774.2 810.6 773.2 809.9 772 810.9 771 810.2 769.8 809.6 768.6 811.4 767.7 810.5 766.5 812.1 765.5 811.1 764.3 811.6 763.2 812.1 762.2 810.8 760.9 811.6 759.9 811.6 758.8 812.2 757.7 810.8 756.5 812.7 755.6 812.5 754.4 813.1 753.4 811.7 752.2 812.9 751.1 812.9 750 812.5 748.9 811.6 747.7 813.7 746.8 813.3 745.6 812.1 744.4 813.8 743.5 813.6 742.3 812.9 741.2 813.8 740.1 812.5 738.9 814.3 738 814.5 736.9 813.5 735.7 813.8 734.6 813.6 733.4 813.2 732.3 813.3 731.1 814.9 730.1 814.9 728.9 815 727.8 814.5 726.6 814.4 725.5 814.6 724.3 814.9 723.2 813.8 722 813.7 720.8 814.2 719.7 815.1 718.6 815.9 717.6 815.3 716.4 815.7 715.5 814.9 713.7 816.4 713 815.7 711.6 817.4 710.7 816 709.4 817.7 708.5 816.1 707.2 818.1 706.3 816.4 705 818.2 704.1 816.6 702.8 817.5 701.8 818.2 700.7 818.9 699.7 817 698.4 818.1 697.4 818.8 696.4 818.7 695.2 818.9 694.1 819.6 693 819.4 691.8 818.3 690.5 818.4 689.4 820 688.3 818.8 687 818.9 685.8 818.7 684.6 818.5 683.3 820.2 682.5 820.3 681.2 820.9 680.2 821.1 679 821.6 677.9 821 676.5 821.8 675.5 821.8 674.3 821.1 673.1 822.5 672.1 822.6 671 822.4 669.8 822.3 668.7 822.2 667.5 822.9 666.5 822.5 665.3 823.7 664.2 823.1 663.1 822.9 662 823.5 660.9 822.7 659.8 822.3 658.7 822.7 657.6 823 656.5 824.3 655.5 823.1 654.3 822.9 653.2 823.1 652.1 824.2 651 822.5 649.8 824.4 648.8 824.6 647.7 824.6 646.6 823.6 645.5 824.5 644.4 823.7 643.3 822.9 642.2 824.4 641.1 824.2 640 824.9 638.9 824 637.8 824.7 636.7 825.3 635.6 825.1 634.5 825.1 633.4 823.8 632.3 825.3 631.2 825.6 630.1 824.5 629 825.4 627.7 826.6 626.6 826.5 624.5 827.5 623.5 825.9 622.2 827.9 621.2 826.7 620 826.8 618.9 826.8 617.7 826.7 616.6 828 615.6 828.4 614.5 827.1 613.3 826.9 612.1 828.1 611.1 828.6 610 827.5 608.8 827.3 607.6 829 606.6 829.4 605.3 828.4 604 828.5 602.6 829.3 601.5 828.7 600 829.8 599 831.3 598 830.9 596.4 831.3 597.8 830.9 599.1 831 600.2 830.7 601.4 832.5 602.4 831.8 603.5 830.9 604.7 831.2 605.8 832 606.9 832.5 608 833 609.1 831.7 610.2 831.2 611.4 831.7 612.5 832.4 613.5 832.7 614.6 831.7 615.8 832.5 616.9 831.8 618 832.3 619.1 832.3 620.4 833.9 621 833.3 622.7 833.9 623.7 833.5 624.9 834.8 626 835.4 627.2 833.7 628.5 835.4 629.5 834 630.8 835.7 631.9 834.7 633.1 834.1 634.3 834 635.5 834.3 636.7 836.1 637.7 835.6 638.9 834.4 640.1 835.6 641.1 835.7 642.2 836.1 643.3 835.2 644.5 835.8 645.6 835.4 646.7 836.3 647.8 836.6 648.9 836.5 650 836.1 651.1 836.9 652.2 835.7 653.4 836.6 654.5 837.1 655.5 836 656.7 837.2 657.8 836.4 658.9 836.7 660.1 837.4 661.2 838.2 662.3 836.3 663.5 836.3 664.7 836.5 665.8 837.9 666.9 838.6 668 838.1 669.2 836.7 670.4 838.2 671.5 837 672.7 837.2 673.8 838.7 674.9 838.1 676.1 838.8 677.2 837.5 678.4 838 679.5 837.3 680.7 839.3 681.8 839.4 682.9 839.2 684.1 838.9 685.2 838.1 686.4 838 687.6 838.1 688.7 838.2 689.8 839.7 690.9 839.4 692.1 839.5 693.2 839.7 694.4 838.3 695.6 839.7 696.7 838.4 697.9 838.8 699 838.4 700.2 839.4 701.3 839.8 702.4 838.9 703.6 839.8 704.6 840.8 705.6 841.2 706.9 842.3 708.2 840.8 709.3 841.2 710.4 841.6 711.5 840.8 712.6 842.2 713.7 841.8 714.8 841 715.9 841.3 717 842.3 718.1 841.4 719.2 842.6 720.3 842.1 721.4 840.7 722.5 841 723.6 842.7 724.7 841.5 725.8 841.1 726.9 841.3 728 841.6 729.1 842.7 730.2 841.7 731.3 841 732.4 841.1 733.5 842.9 734.6 841.4 735.7 841.8 736.8 841.1 737.9 842.8 739 841.1 740.1 842 741.2 841.3 742.3 842.4 743.4 841.7 744.5 841.9 745.6 843.2 746.7 842.1 747.8 843.2 748.9 843.4 750 842.6 751.1 841.8 752.2 842.7 753.3 842.6 754.4 843.2 755.5 842 756.6 842.7 757.7 842.8 758.8 842.6 759.9 842.1 761.1 843.9 762.1 844.3 763.2 843.1 764.4 842.7 765.5 844.1 766.5 844.6 767.6 843.1 768.9 843.8 769.9 844.6 771 842.9 772.2 843.8 773.3 845.1 774.3 844.6 775.5 844.5 776.6 844.4 777.8 844.2 778.9 843.6 780 844.4 781.1 845.4 782.2 843.8 783.4 844.2 784.5 844.2 785.6 845.2 786.7 845 787.8 845.7 788.9 844.9 790.1 844.4 791.2 843.8 792.4 845.8 793.4 845.1 794.6 844.2 795.7 845.4 796.8 845.4 797.9 845.2 799.1 844.8 800.2 844.7 801.3 844.7 802.4 845.5 803.5 845.1 804.7 844.9 805.8 845.5 806.9 845.4 808 845.1 809.2 846.1 810.2 846.1 811.4 844.6 812.5 844.2 813.7 845.1 814.8 846.1 815.9 845.4 817 845.4 818.1 845.8 819.3 845.7 820.4 846.6 821.5 846.1 822.7 846.8 823.8 846.9 824.9 846 826.1 846.7 827.2 845.6 828.5 846.1 829.6 845.5 830.8 847 831.8 847.5 832.9 846.4 834.2 846 835.3 847.7 836.4 846.8 837.6 847.8 838.6 846.1 839.9 847.4 841 847.6 842.2 846.8 843.5 847.4 844.6 848.6 845.6 847.9 846.9 848.4 848.1 849.4 849.1 847.4 850.6 848.9 851.6 849.5 852.7 848.2 854 848.1 855.1 849.8 856.2 848.1 857.4 849.1 858.5 849 859.6 849.8 860.7 849.2 861.8 850 863 849.4 864.1 848.4 865.2 849.4 866.3 849.8 867.4 849.2 868.6 849.3 869.7 849.4 870.8 850.1 871.9 849.5 873.1 849.1 874.2 850 875.3 850.3 876.4 849 877.6 848.6 878.7 848.8 879.8 850 880.9 850.2 882 848.8 883.2 849.4 884.3 850 885.4 849.5 886.5 849 887.7 849.6 888.8 850.8 889.9 850.9 890.9 849.4 892.2 850.4 893.3 850.9 894.4 851.3 895.5 850.1 896.8 849.9 898 850.9 899 850.3 900.3 851.3 901.3 850.8 902.5 850.2 903.8 851.8 904.8 851.2 906 852.6 907 852.8 908.1 852.1 909.4 851.7 910.5 850.9 911.7 851.3 912.8 852.9 913.8 851.7 915 852 916.1 851.5 917.2 853.1 918.3 852.6 919.4 852 920.6 851.6 921.7 852.2 922.8 853.1 923.8 852.8 925 851.9 926.1 853.2 927.2 852.4 928.3 854.1 929.4 852.4 930.6 853.1 931.6 852.4 932.8 853.8 933.8 852.5 935 853.8 936.1 853.5 937.2 854.3 938.3 854.6 939.5 853.7 940.7 854.8 941.8 853.5 943.1 853.5 944.3 854.2 945.4 855.2 946.5 854 947.8 855.3 948.9 853.7 950.2 855.7 951 855.6 952.2 854.1 953.5 855 954.5 856 955.4 854.8 956.7 854.9 957.8 856.8 958.6 855.6 960 855.3 961.1 857.4 962.2 856.1 960.7 856 959.5 857.5 958.6 857.4 957.3 856.7 955.9 858 955 858.3 953.8 858.7 952.7 857.6 951.3 859 950.3 858 949 858.6 947.9 859.5 946.8 860.1 945.7 859.8 944.5 860.7 943.4 859.7 942 860.1 940.9 862.8 940.7 863 941.9 862.8 943.1 861.7 944.5 862.6 945.5 863.4 946.5 862.9 947.7 864.3 948.7 862.8 950.1 864.5 951.2 862.9 949.8 863.1 948.7 863.9 947.6 864.6 946.5 865.2 945.4 864.9 944.2 864.8 943 864.4 941.8 865.3 940.7 864.7 939.4 865.6 938.4 866 937.3 865.6 936 865.8 934.8 866.7 933.8 865.6 932.4 867.7 931.6 867.3 930.3 866.7 929 867.8 927.9 867.2 926.8 868.5 925.7 868 924.6 867.2 923.4 867.2 922.3 868.5 921.2 868.1 920.1 868.3 919 868.4 917.9 868.7 916.8 869.4 915.7 868.2 914.5 868.1 913.4 868.5 912.3 868.9 911.2 869 910.1 868 908.9 869.7 907.9 870 906.8 868.9 905.6 869.3 904.5 870 903.4 869.1 902.2 868.7 901.1 869.5 900 870.6 899 869.7 897.8 869.6 899 869.7 900.2 870.4 901.3 870 902.5 871.4 903.5 871 904.7 869.7 906 871.8 907 870.2 908.3 871.2 910.3 872.4 910.4 873.2 909.5 873.2 910.6 874 911.7 874.9 912.7 873.7 914.1 873.7 915.2 874.2 916.3 874.6 917.4 874.7 918.6 874.3 919.8 875.1 920.9 875.9 921.9 876.5 923 874.7 924.4 875.5 925.5 875 926.7 875.1 927.8 875.4 929 876.8 929.6 878.9 930.9 878.1 932.6 878.3 933.9 880.2 934.6 879.6 936.2 880.2 937.3 881.8 938.6 880.2 937.1 882.3 936.3 882 935 881.3 933.7 881.5 932.5 882.4 931.5 881.8 930.1 882.8 929.1 883.2 928 882.5 926.5 883.5 925.4 883.3 924.1 883 922.7 885.2 921.9 884.3 920.5 884 919.3 884.5 918.2 884.9 917.2 884.9 916 885.3 915 885.6 913.9 886.4 912.8 886.3 911.7 886.4 910.6 885.4 909.4 885.7 908.3 885.5 907.2 885.3 906 886.5 905 886.9 903.9 885.9 902.7 886.4 901.6 886 900.5 885.6 899.3 886.1 898.2 886.5 897 887.2 895.9 886.5 894.5 886.5 893.4 888.6 892.5 888.8 891.3 888.9 890.2 888.3 889 888 887.9 887.2 886.6 887.4 885.5 889.4 884.6 888 883.3 889.2 882.3 888.3 881.1 889.1 880.1 888.9 878.9 888.1 877.7 888.3 876.6 888.9 875.5 888.5 874.3 889.1 873.2 890.7 872.3 889.3 871 890 869.9 891.5 869.1 892.5 868 893.1 866.9 891.7 865.4 892.3 864.3 891.8 862.9 892.8 861.9 893.6 860.8 893.7 859.5 892.8 858.3 893.2 857.2 892.7 856 894.3 855 892.9 853.7 893.8 852.6 894.5 851.5 893.6 850.3 894 849.2 893.4 848 893.3 846.8 895.3 845.9 895.4 844.7 894.4 843.5 895.2 842.4 894.2 841.2 894 840 894.8 838.9 894.8 837.8 894.9 836.6 895.8 835.5 895 834.3 895.7 833.2 895.9 832.1 894.9 830.8 896 829.7 895.4 828.6 896.3 827.4 894.7 826.2 896.3 825.1 895.4 823.9 896.9 822.8 895.4 821.6 896.1 820.5 896.4 819.3 895.4 818.1 896 817 897.3 815.9 896.1 814.8 896.9 813.7 896.4 812.6 896.5 811.5 896.6 810.3 896.2 809.2 896.4 808.1 896.1 807 896.8 805.9 897.5 804.8 897.4 803.7 897 802.6 896.5 801.4 896.9 800.4 897.8 799.3 897.5 798.2 896.6 797 896.2 795.9 896.7 794.8 897.5 793.7 897.9 792.6 896.9 791.3 897.2 790.2 897.8 789.1 898.3 788 898 786.8 897.5 785.6 897.7 784.5 898 783.4 898.4 782.3 898.6 781.2 899.2 780.1 897.5 778.8 898.2 777.7 897.8 776.6 898.6 775.5 899.9 774.5 899.7 773.3 899 772.1 899.4 771 899.7 769.9 898.7 768.7 898.7 767.6 900.2 766.6 899.6 765.4 899.5 764.3 899.4 763.1 900.7 762.1 898.9 760.8 900.2 759.8 901 758.7 899.5 757.5 900.4 756.4 901.3 755.4 899.9 754.1 901.5 753.1 901.1 752.1 900.3 750.4 902.3 749.4 901.6 748.2 903 747.2 901.9 745.9 902.1 744.8 902.6 743.7 903.4 742.7 902.8 741.4 902.4 740.2 902.1 739 902.8 737.9 904.1 737 904 735.8 903.8 734.6 903 733.5 904.5 732.4 903.3 731.2 904.8 730.1 904.5 729 904 727.8 904.6 726.7 903.7 725.6 903.6 724.4 903.8 723.3 903.1 722.2 903.7 721 903.2 719.9 904 718.8 903.5 717.7 904.6 716.6 904.9 715.4 905.2 714.3 904.7 713.2 905.3 712.1 904.7 710.9 904.1 709.8 904 708.6 904.2 707.5 904.2 706.4 905.4 705.3 904.3 704.1 905.2 703.7 905.3 701.9 907.2 701 906.3 702.9 908 703.6 907.5 705 909 704 909.3 702.9 908.3 701.7 909.1 700.7 907.7 699.5 907.9 698.3 908.5 697.3 907.7 696.1 909.3 695.1 909.4 694 909.8 692.9 909.1 691.7 909.6 690.6 910.1 689.6 908.3 688.3 909.9 687.3 909.4 686.2 909.1 685.1 909.7 684 910.3 682.9 909.7 681.7 910.5 680.7 909.2 679.5 910.1 678.4 909.2 677.3 909.8 676.2 909.5 675.1 910.9 674 909.4 672.8 909.6 671.7 909.9 670.7 910.2 669.6 911.1 668.5 910.3 667.3 910.7 666.3 911.3 665.2 911.6 664.1 910.2 662.9 911.3 661.8 910.4 660.6 910.1 659.4 911.8 658.5 912.3 657.4 910.7 656 910.9 654.8 912.1 653.8 911 652.5 912 651.4 911.9 650.2 911.6 648.9 912.7 648 913.2 646.9 913.2 645.8 913.7 644.7 913 643.6 913.4 642.5 912.7 641.4 912.2 640.2 912.3 639.1 912.9 638 913.9 637 912.4 635.8 912.7 634.7 913.5 633.7 913.2 632.5 912.7 631.4 914.7 630.4 913.4 629.2 914.7 628.2 913.2 627 913.4 625.9 913.6 624.8 913.3 623.7 913.5 622.6 914.1 621.5 913.1 620.4 913.3 619.3 915.1 618.2 914.7 617.1 913.9 616 914.3 614.9 914.5 613.3 916.4 613.2 916.1 612.1 916.5 611 916.1 609.8 917.4 608.9 917.2 607.7 916.5 606.5 917.1 605.5 916.7 604.3 916.8 603.2 917.1 602.1 918.1 601.1 917 599.8 918.3 598.9 917.9 600.1 918.9 601.1 917.7 602.4 918.6 603.4 918.6 604.6 919.4 605.7 918.3 606.9 918.8 608 918.9 609.2 920.5 610.1 920 611.3 919.8 612.5 920.4 613.6 919.8 614.8 920.8 615.8 920.8 617 921.3 618.1 921.3 619.2 921.6 620.3 921.6 621.3 920.6 623.2 922.6 624.3 922.3 625.6 922.7 626.8 921.8 628.4 923.6 629.2 923.2 630.6 923.5 631.9 925.7 633 926.4 634 926.2 635.4 925.4 637 926.2 637.8 927.4 638.9 927.9 640 927.2 641.1 926.8 642.3 926.6 643.4 927.1 644.5 928 645.5 926.7 646.7 927.7 647.8 928.1 648.9 928.1 650 927.3 651.1 927.9 652.2 928.5 653.3 928 654.4 928.2 655.5 927.4 656.7 927.1 657.8 928.4 658.9 927.6 660 927.2 661.2 928.6 662.3 928.3 663.4 928.9 664.5 926.9 665.7 927.9 666.8 927.6 667.9 927.8 669 928.7 670.1 927.6 671.3 927.5 672.4 927.1 673.5 927.5 674.7 928.5 675.8 929.1 676.9 929.1 678 928.3 679.1 928.9 680.3 927.6 681.4 927.6 682.5 928.8 683.6 927.3 684.8 928 685.9 927.5 687 928.6 688.1 929.2 689.3 929 690.4 927.4 691.5 928.6 692.6 928.1 693.8 928.4 694.9 928.4 696 928.6 697.1 929.2 698.3 928.5 699.4 928.7 700.5 928.5 701.7 928.4 702.8 930.1 703.6 930 704.8 930.3 705.9 929.6 707.2 930.7 708.2 929.7 709.3 929.2 710.5 931.3 711.5 930.5 712.6 930.4 713.7 931.4 714.8 929.7 715.9 930.8 717 930.9 718.1 931.5 719.2 930.3 720.3 930.1 721.4 930.7 722.5 931.8 723.6 930.6 724.7 932 725.8 932 726.9 930.5 728 930.9 729.1 931.7 730.2 932.3 731.3 931.3 732.4 932 733.5 932.4 734.6 932.4 735.7 932 736.8 931.6 737.9 931.2 739 931.4 740.1 931.8 741.2 932.1 742.3 931.1 743.4 932.2 744.5 931.5 745.6 931.2 746.7 933.1 747.7 932.4 748.9 932.9 750 931.5 751.1 931.6 752.2 932.8 753.3 933.3 754.4 933.2 755.5 932.9 756.6 933.1 757.7 931.7 758.8 933.5 759.9 931.8 761 931.8 762.2 933.6 763.2 932.9 764.4 933.5 765.4 933.2 766.6 932.6 767.7 932.3 768.9 933.5 769.9 932.2 771.1 932.7 772.2 933.7 773.3 934 774.4 934.4 775.5 933.8 776.6 934 777.7 934 778.9 933.6 780 932.7 781.2 933.1 782.3 934.2 783.3 932.9 784.5 933.5 785.6 933 786.7 933.6 787.8 934.5 788.8 933.7 790 934.6 791.1 935.5 792.1 933.9 793.3 935.4 794.3 934.2 795.5 935.4 796.6 933.9 797.8 935.8 798.8 933.9 800 935.6 801 935.4 802.1 935.5 803.2 935 804.4 934.9 805.5 934.4 806.7 936.3 807.6 936.3 808.8 936.4 809.9 934.6 811.1 935.4 812.2 935.1 813.3 936.2 814.4 935.1 815.5 935.9 816.6 935.4 817.8 935.9 818.8 937.4 819.9 937.1 821 936.7 822.1 935.7 823.3 935.9 824.4 936.6 825.5 936.5 826.6 936.6 827.7 936.8 828.8 938 829.9 936.5 831.1 936.7 832.2 936.7 833.3 937.6 834.4 937.4 835.5 938 836.6 936.6 837.7 937 838.8 937.3 839.9 938.2 841 937.4 842.2 938.2 843.2 937.3 844.4 936.6 845.5 938.4 846.6 938.3 847.7 937.8 848.8 936.8 849.9 937.3 851 937.7 852.1 938.8 853.2 937.2 854.4 938.4 855.4 938.9 856.5 938.4 857.6 937.3 858.8 937.9 859.9 937.8 861 937.1 862.1 937.9 863.2 938.1 864.3 937.2 865.5 938.4 866.6 937.6 867.7 938.1 868.8 938.9 869.9 937.7 871.1 938.5 872.2 938 873.3 938.6 874.4 938.9 875.5 939.5 876.6 938.1 877.8 938.3 878.9 938.1 880 939.2 881.1 938.8 882.2 939.1 883.3 939.1 884.5 939.4 885.6 939.9 886.7 939.5 887.8 940.1 888.9 938.5 890.1 940.5 891.1 939.5 892.3 938.8 893.4 939.4 894.5 940.3 895.6 939.6 896.8 940.2 897.9 939.4 899 940.7 900 940.1 901.3 939.6 902.6 941.1 903.6 940.9 904.8 940.5 906.1 941.7 907.1 940.3 908.5 942.1 909.5 941.8 910.7 941.3 912 942.7 913.1 941.5 914.3 941.3 915.4 941.2 916.6 943.1 917.6 942.5 918.8 942.6 919.9 942.5 921.1 942.9 922.2 942.5 923.4 943.3 924.5 942.9 925.7 943.4 926.8 943.5 927.9 943.2 929.1 943.1 930.2 943.3 931.4 943.2 932.5 943.1 933.7 943.5 934.8 943.7 935.9 943.5 937.1 943.2 938.2 943.5 939.3 943.6 940.4 942.5 941.6 943.9 942.6 943.3 943.8 944 944.8 943 946 944.3 947 942.3 948.2 943 949.3 944.2 950.4 944.2 951.5 943.2 952.7 944 953.7 943.6 954.9 944.5 955.9 944 957.1 943.4 958.2 944.1 959.2 943.4 960.7 944.5 961.5 945.1 962.5 944.7 963.9 945.2 964.9 945.9 966.1 945.5 967.6 946.6 968.7 947.6 970 948.1 968.9 947.1 967.6 948.6 966.7 948.2 965.5 948.1 964.4 948.8 963.3 948.1 962.1 948.2 961 948.3 959.8 948.7 958.8 949.4 957.7 948.6 956.5 949.9 955.6 949 954.3 949.2 953.2 950.2 952.2 949.3 951.4 950.9 952.3 951.4 953.7 951.9 955" fill="none" stroke="#008537" stroke-width="3.4" stroke-linejoin="round"/>
<path d="M238.4 203.5L238.8 216.7 239.3 240.4 239.7 264.1 240.2 280.8 240.6 288.7 241.1 296.6 241.5 304.5 242 312.4 242.4 320.3 242.9 328.2 243.3 345.4 243.8 365.3 244.2 382.5 244.7 400.7 245.1 402 245.6 403.9 246 405.6 246.5 407.4 246.9 421.5 247.4 435.6 247.8 443.5 248.3 449.9 248.7 450.5 249.2 451.2 249.6 451.9 250.1 452.6 250.5 453.7 251 458.6 251.4 463.5 251.9 469.9 252.3 480.6 252.8 492.5 253.2 495.3 253.7 499.1 254.1 498.1 254.6 500.5 255 494.7 255.5 494.8 255.9 489 256.4 493 256.8 487.2 257.3 489 257.7 486.1 258.2 495.5 258.6 487 259.1 494.4 259.5 489.6 260 496.9 260.4 491.9 260.9 501.1 261.3 495.1 261.8 501.5 262.2 495.5 262.7 509.6 263.1 493.5 263.6 512.5 264 497.6 264.5 497.1 264.9 481.1 265.4 487.1 265.8 480.3 266.3 486.1 266.7 479 267.2 484.5 267.6 479 268.1 493.2 268.5 482.7 269 491.7 269.4 490.4 269.9 501.5 270.3 503.1 270.8 513.1 271.2 512.1 271.7 516.5 272.1 511.5 272.6 517.4 273 512.3 273.5 512.7 273.9 504.2 274.4 507.1 274.8 500.4 275.3 503.3 275.7 494.5 276.2 494.2 276.6 485.2 277.1 485.8 277.5 470.6 278 481.3 278.4 471.5 278.9 475.9 279.3 466.4 279.8 472.7 280.2 466.3 280.7 475.3 281.1 465.6 281.6 468.9 282 464.3 282.5 471.7 282.9 459.9 283.4 469.7 283.8 464.7 284.3 470.4 284.7 464.5 285.2 469.7 285.6 465.6 286.1 471.6 286.5 466.6 287 471.4 287.4 464.9 287.9 477.1 288.3 458.5 288.8 465.1 289.2 457.1 289.7 463.5 290.1 453.2 290.6 453.6 291 442.5 291.5 449.2 291.9 445.3 292.4 450.3 292.8 447.3 293.3 457.9 293.7 462.1 294.2 469.9 294.6 467.5 295.1 471.2 295.5 466.9 296 470.3 296.4 467.6 296.9 470.2 297.3 467 297.8 466.7 298.2 462.3 298.7 461.2 299.1 456 299.6 451.6 300 439.5 300.5 424.8 300.9 406.4 301.4 398.4 301.8 386.1 302.3 386 302.7 384.2 303.2 385.7 303.6 382.2 304.1 384.6 304.5 379.9 305 376.3 305.4 368.4 305.9 367.3 306.3 357.8 306.8 348 307.2 344.2 307.7 344.7 308.1 341.8 308.6 340.8 309 337.5 309.5 332.4 309.9 326.6 310.4 324.2 310.8 320.2 311.3 318.7 311.7 311.4 312.2 301.5 312.6 289.3 313.1 282.5 313.5 272 314 265 314.4 257.7 314.9 256.8 315.3 253.6 315.8 252.4 316.2 243.9 316.7 233.5 317.1 226.5 317.6 225.6 318 222.1 318.5 221.8 318.9 202.8 319.4 181 319.8 172.6 320.3 172.3 320.7 168.4 321.2 168.3 321.6 164.1 322.1 164.1 322.5 163.6 323 168.3 323.4 171.6 323.9 175.2 324.3 180.4 324.8 185.6 325.2 187.2 325.7 187.6 326.1 188.1 326.6 189.7 327 192.4 327.5 195.1 327.9 197.7 328.4 204.9 328.8 227.8 329.3 247.2 329.7 254.2 330.2 261.2 330.6 268.2 331.1 280.7 331.5 312.4 332 335.3 332.4 347.2 332.9 359 333.3 370.9 333.8 381.2 334.2 389.4 334.7 397.6 335.1 405.8 335.6 414 336 422.3 336.5 427.6 336.9 431.6 337.4 435.6 337.8 439.6 338.3 442.3 338.7 444.4 339.2 446.6 339.6 448.7 340.1 450.8 340.5 453 341 463.3 341.4 474.4 341.9 486.3 342.3 488.2 342.8 490.8 343.2 485.7 343.7 489 344.1 480.8 344.6 480.8 345 474.7 345.5 476.8 345.9 473 346.4 475.7 346.8 473.3 347.3 482.2 347.7 484.1 348.2 492.3 348.6 485.6 349.1 490.4 349.5 482.3 350 489.4 350.4 485.7 350.9 499.1 351.3 487.8 351.8 496.3 352.2 491.7 352.7 495.1 353.1 489.7 353.6 493.5 354 480.9 354.5 486.2 354.9 476 355.4 482.4 355.8 468.1 356.3 478.8 356.7 472.5 357.2 479.6 357.6 472.8 358.1 481.1 358.5 475.1 359 487.5 359.4 482.6 359.9 495 360.3 496.2 360.8 506.1 361.2 503.8 361.7 507.5 362.1 500.5 362.6 504.9 363 498.6 363.5 503.5 363.9 497.2 364.4 500.5 364.8 494.8 365.3 500.3 365.7 489.1 366.2 482.3 366.6 462.2 367.1 472.4 367.5 462.9 368 472 368.4 454.5 368.9 470.7 369.3 460.8 369.8 464 370.2 459.3 370.7 461.6 371.1 455.8 371.6 461.1 372 457.8 372.5 463.8 372.9 460 373.4 466.4 373.8 456.7 374.3 469.2 374.7 460.7 375.2 466.7 375.6 462.7 376.1 470.7 376.5 463.2 377 463.8 377.4 454.9 377.9 460.1 378.3 447.5 378.8 451.9 379.2 440.7 379.7 446.4 380.1 435.5 380.6 440.5 381 432 381.5 435.7 381.9 431.7 382.4 440.8 382.8 437.8 383.3 448.5 383.7 442.7 384.2 450 384.6 449.8 385.1 458.3 385.5 455.7 386 458 386.4 451.6 386.9 457.4 387.3 449.6 387.8 454.3 388.2 449.9 388.7 450.5 389.1 445.5 389.6 442.3 390 435.2 390.5 424 390.9 408.5 391.4 396 391.8 380.4 392.3 380.2 392.7 378.2 393.2 377.6 393.6 375.2 394.1 371.2 394.5 364.2 395 360.9 395.4 353.5 395.9 349.1 396.3 341 396.8 333.7 397.2 325.4 397.7 324.9 398.1 322.3 398.6 321 399 318.5 399.5 318 399.9 313.1 400.4 306.1 400.8 296.5 401.3 290 401.7 278.9 402.2 270.5 402.6 260.7 403.1 255.6 403.5 248.4 404 243.7 404.4 236.4 404.9 230.3 405.3 222.5 405.8 217.1 406.2 209.3 406.7 202 407.1 193.5 407.6 186.6 408 173.8 408.5 163 408.9 158 409.4 158.7 409.8 156.9 410.3 158.1 410.7 156.2 411.2 161.6 411.6 164.4 412.1 168.5 412.5 172.1 413 175.8 413.4 179.4 413.9 183 414.3 183.8 414.8 184.5 415.2 185.8 415.7 188.3 416.1 190.8 416.6 196.7 417 214.3 417.5 230.5 417.9 241.8 418.4 253.1 418.8 264.2 419.3 273 419.7 281.8 420.2 290.6 420.6 301 421.1 324.7 421.5 343.1 422 360 422.4 376.9 422.9 387.4 423.3 389.8 423.8 392.3 424.2 394.7 424.7 397.1 425.1 399.6 425.6 414.5 426 435.6 426.5 443.8 426.9 445.5 427.4 447.3 427.8 449.1 428.3 450.8 428.7 452.6 429.2 455.8 429.6 459.8 430.1 463.7 430.5 472.2 431 481.2 431.4 488.5 431.9 497 432.3 502.1 432.8 502.4 433.2 500 433.7 499.6 434.1 493.1 434.6 497.1 435 490.9 435.5 491.7 435.9 487.4 436.4 495.8 436.8 490.5 437.3 500.8 437.7 495.3 438.2 503.9 438.6 496.8 439.1 501.4 439.5 498.4 440 505.5 440.4 501.7 440.9 508.1 441.3 504.9 441.8 513.5 442.2 504.3 442.7 502.8 443.1 488.4 443.6 495.8 444 483.1 444.5 491.2 444.9 485 445.4 496.8 445.8 484 446.3 492 446.7 487.5 447.2 499 447.6 498.3 448.1 509.7 448.5 506.4 449 515.3 449.4 511.9 449.9 518.2 450.3 517.3 450.8 527.9 451.2 514.8 451.7 521 452.1 509.7 452.6 518 453 511 453.5 515.2 453.9 508.9 454.4 512.5 454.8 491.2 455.3 485.1 455.7 475.7 456.2 480.2 456.6 473.8 457.1 479.2 457.5 470.3 458 477.2 458.4 470.8 458.9 478.1 459.3 468.7 459.8 479.8 460.2 474.2 460.7 477.2 461.1 472.1 461.6 476.5 462 470 462.5 474.7 462.9 468.7 463.4 473 463.8 467.1 464.3 473.3 464.7 468.5 465.2 473.7 465.6 469.3 466.1 474.4 466.5 458.9 467 462.9 467.4 451 467.9 452.9 468.3 443.8 468.8 443 469.2 433.2 469.7 439 470.1 431.9 470.6 444.9 471 435.8 471.5 443.8 471.9 446.6 472.4 457.9 472.8 458.5 473.3 465.9 473.7 461 474.2 469.2 474.6 463.3 475.1 464.7 475.5 459.7 476 460.7 476.4 452.6 476.9 452.7 477.3 447.7 477.8 445.7 478.2 433.2 478.7 421.9 479.1 407.1 479.6 402.5 480 394.2 480.5 388.6 480.9 385 481.4 384.8 481.8 380.4 482.3 381.3 482.7 369.1 483.2 368.7 483.6 365.2 484.1 363.7 484.5 354.2 485 347.8 485.4 339 485.9 337.3 486.3 332.2 486.8 329.8 487.2 326.6 487.7 325.1 488.1 322.1 488.6 318.6 489 311.3 489.5 305.8 489.9 297.5 490.4 291.7 490.8 281.3 491.3 274.4 491.7 265.4 492.2 259.8 492.6 250.6 493.1 245.7 493.5 238.7 494 234.6 494.4 227.8 494.9 224.5 495.3 219.9 495.8 218.6 496.2 214.4 496.7 198.6 497.1 173.7 497.6 171.9 498 167.1 498.5 167.1 498.9 162.8 499.4 164.8 499.8 162.1 500.3 169 500.7 169.3 501.2 173.5 501.6 179.8 502.1 186.8 502.5 192.9 503 193.8 503.4 194.7 503.9 195.7 504.3 196.6 504.8 197.5 505.2 200.9 505.7 209.2 506.1 217.6 506.6 225.9 507 238.2 507.5 258.5 507.9 272.8 508.4 275.1 508.8 277.4 509.3 279.8 509.7 286.7 510.2 297.2 510.6 307.8 511.1 321.6 511.5 346.6 512 371.7 512.4 385.3 512.9 389.8 513.3 394.2 513.8 398.7 514.2 403.2 514.7 410.7 515.1 421.9 515.6 433.1 516 437.5 516.5 439.9 516.9 442.4 517.4 444.8 517.8 447.3 518.3 449.7 518.7 455 519.2 460.2 519.6 465.5 520.1 470.9 520.5 477.1 521 484.7 521.4 490.4 521.9 496.8 522.3 491.8 522.8 492.6 523.2 488.1 523.7 491.6 524.1 484 524.6 485.2 525 481 525.5 485.1 525.9 483.6 526.4 489.4 526.8 486.8 527.3 492.8 527.7 489.4 528.2 498.4 528.6 489 529.1 495.6 529.5 486.4 530 497.4 530.4 495 530.9 502.7 531.3 496.9 531.8 505.8 532.2 498.8 532.7 506.7 533.1 489.6 533.6 492.6 534 480.7 534.5 485.2 534.9 480.7 535.4 486.1 535.8 478 536.3 485.7 536.7 484.3 537.2 491.7 537.6 486.8 538.1 496.7 538.5 498.5 539 509.2 539.4 512.6 539.9 516.4 540.3 507.1 540.8 518.6 541.2 513.1 541.7 517.6 542.1 513.6 542.6 523.1 543 510.6 543.5 517.1 543.9 509.7 544.4 509.6 544.8 490.8 545.3 488.2 545.7 476.3 546.2 479.1 546.6 469.8 547.1 477.1 547.5 467.1 548 471.9 548.4 468.1 548.9 472 549.3 465.6 549.8 473 550.2 470.7 550.7 476.5 551.1 470.6 551.6 475.1 552 470.8 552.5 475 552.9 469.6 553.4 473.1 553.8 467.5 554.3 472 554.7 466.8 555.2 472.7 555.6 460.6 556.1 464.9 556.5 456 557 458.2 557.4 448.5 557.9 451.5 558.3 443.5 558.8 446.8 559.2 439.8 559.7 444.7 560.1 442 560.6 449 561 449 561.5 456.3 561.9 453.3 562.4 456.6 562.8 453.9 563.3 459.8 563.7 457.5 564.2 459.6 564.6 455.4 565.1 456 565.5 451.7 566 454.8 566.4 444.8 566.9 436.7 567.3 422.8 567.8 414.4 568.2 404.6 568.7 398.5 569.1 388.9 569.6 386.5 570 379.4 570.5 380.2 570.9 375.6 571.4 375.6 571.8 371.1 572.3 373.4 572.7 369.5 573.2 371.4 573.6 357 574.1 347.3 574.5 341.2 575 337.7 575.4 332 575.9 328.1 576.3 322.4 576.8 318.5 577.2 313.8 577.7 313.7 578.1 310.9 578.6 310.4 579 302.4 579.5 297.1 579.9 286.5 580.4 281.9 580.9 271 581.3 264.4 581.8 255.3 582.2 248.1 582.7 240.6 583.1 236.9 583.6 229.3 584 227.2 584.5 220 584.9 215.3 585.4 210.6 585.8 210 586.3 203.4 586.7 179.4 587.2 169.2 587.6 163.7 588.1 161.4 588.5 161.6 589 159.3 589.4 162 589.9 161.6 590.3 165.1 590.8 173.7 591.2 180.6 591.7 181.2 592.1 181.8 592.6 182.4 593 183 593.5 183.5 593.9 187.3 594.4 202.2 594.8 214.3 595.3 223.1 595.7 231.9 596.2 240.7 596.6 251.5 597.1 264.7 597.5 276.4 598 286.3 598.4 296.2 598.9 314.2 599.3 333.3 599.8 348.2 600.2 363 600.7 377.9 601.1 384.8 601.6 387.9 602 390.9 602.5 394 602.9 397 603.4 400.1 603.8 414.4 604.3 430.2 604.7 433.6 605.2 435.3 605.6 437.1 606.1 438.9 606.5 440.6 607 442.4 607.4 448.1 607.9 454.4 608.3 460.8 608.8 476.8 609.2 492.2 609.7 491.5 610.1 492.5 610.6 490.5 611 491.7 611.5 484.9 611.9 489.1 612.4 482.9 612.8 485.8 613.3 479.4 613.7 480.2 614.2 477.6 614.6 481.7 615.1 477.6 615.5 487.5 616 480.6 616.4 487.2 616.9 481.7 617.3 490.4 617.8 486.2 618.2 495.7 618.7 491.3 619.1 498.3 619.6 497.2 620 503.4 620.5 493.6 620.9 499.1 621.4 487.2 621.8 492.6 622.3 479.9 622.7 486.7 623.2 477.6 623.6 485.2 624.1 478 624.5 487.5 625 486.5 625.4 498.3 625.9 497.1 626.3 509.5 626.8 509 627.2 515.1 627.7 508.6 628.1 514 628.6 506.9 629 513.4 629.5 507.4 629.9 511.6 630.4 503.9 630.8 507 631.3 499.6 631.7 503.6 632.2 491 632.6 487.1 633.1 473.2 633.5 471.7 634 466.4 634.4 470.9 634.9 461.6 635.3 466.7 635.8 458.1 636.2 470.4 636.7 461.5 637.1 469.8 637.6 459.6 638 466.9 638.5 464.3 638.9 476.7 639.4 468.5 639.8 477.4 640.3 464.1 640.7 468.6 641.2 460.3 641.6 465.8 642.1 459 642.5 468.8 643 461.1 643.4 465.7 643.9 460 644.3 466.4 644.8 455 645.2 459.2 645.7 450.2 646.1 449.3 646.6 439.9 647 442.2 647.5 427.1 647.9 437.7 648.4 432.3 648.8 436.7 649.3 430.3 649.7 443.8 650.2 440.3 650.6 452.8 651.1 449.9 651.5 458.5 652 457.8 652.4 460.8 652.9 455.4 653.3 458.7 653.8 456.5 654.2 457.2 654.7 451.4 655.1 451.3 655.6 446.1 656 441.9 656.5 422.5 656.9 413.9 657.4 402.1 657.8 394.2 658.3 387.1 658.7 383.9 659.2 378 659.6 375.7 660.1 372.4 660.5 372.1 661 367.7 661.4 370.9 661.9 361.3 662.3 353.6 662.8 342.8 663.2 337.6 663.7 330.2 664.1 325.1 664.6 322.3 665 320.8 665.5 317.7 665.9 316.3 666.4 312.1 666.8 310 667.3 304.3 667.7 298.1 668.2 289.3 668.6 283.8 669.1 275.6 669.5 270.8 670 262.3 670.4 258.1 670.9 249.7 671.3 245.8 671.8 237.9 672.2 234.1 672.7 227.5 673.1 223 673.6 216.5 674 208.7 674.5 195.4 674.9 185.1 675.4 172.5 675.8 168.6 676.3 160 676.7 158.5 677.2 156.3 677.6 157.2 678.1 156.8 678.5 160.1 679 159.3 679.4 163.2 679.9 164 680.3 171.1 680.8 180.8 681.2 185.6 681.7 187.9 682.1 190.2 682.6 192.5 683 196.7 683.5 201.1 683.9 205.5 684.4 209.9 684.8 222.1 685.3 235.3 685.7 245.1 686.2 254.4 686.6 263.7 687.1 272.8 687.5 280 688 287.3 688.4 317.1 688.9 335.9 689.3 343.4 689.8 351 690.2 358.5 690.7 366.1 691.1 374 691.6 382 692 389.9 692.5 398 692.9 407.2 693.4 416.4 693.8 428.5 694.3 442.7 694.7 443.1 695.2 443.6 695.6 444.1 696.1 446.3 696.5 452.1 697 457.9 697.4 464.3 697.9 470.9 698.3 478.8 698.8 490.7 699.2 500.9 699.7 500.3 700.1 501.9 700.6 497.7 701 504.1 701.5 487.5 701.9 483.6 702.4 480 702.8 483 703.3 478.5 703.7 483.9 704.2 479.5 704.6 487.5 705.1 486.3 705.5 494.4 706 489.4 706.4 494 706.9 489.1 707.3 496.7 707.8 495 708.2 502.6 708.7 501.3 709.1 506.4 709.6 501.8 710 508.7 710.5 497.9 710.9 504.2 711.4 486.1 711.8 488.6 712.3 479.7 712.7 483.2 713.2 478.2 713.6 486.2 714.1 476.4 714.5 489.8 715 489.7 715.4 498.5 715.9 493.5 716.3 503.5 716.8 496.6 717.2 503 717.7 501.1 718.1 507.2 718.6 505.3 719 507.7 719.5 503 719.9 508.7 720.4 500.2 720.8 504 721.3 498.2 721.7 500.1 722.2 488.7 722.6 480 723.1 465.9 723.5 467.2 724 460.2 724.4 464.3 724.9 451.3 725.3 460.3 725.8 456 726.2 458.8 726.7 453.5 727.1 459.1 727.6 453.4 728 455.5 728.5 451 728.9 458.5 729.4 454.2 729.8 458.8 730.3 455.9 730.7 460.1 731.2 454.2 731.6 461.7 732.1 456.3 732.5 460.8 733 456.5 733.4 458.8 733.9 451.7 734.3 453.7 734.8 445.9 735.2 447.5 735.7 438.8 736.1 440 736.6 434.1 737 437.9 737.5 428.2 737.9 433.6 738.4 430.5 738.8 438.8 739.3 435.6 739.7 442.4 740.2 438.8 740.6 444.7 741.1 443.2 741.5 449.4 742 446.1 742.4 449.4 742.9 445.2 743.3 448.7 743.8 445.3 744.2 444.8 744.7 435.9 745.1 436.6 745.6 430.1 746 424.3 746.5 410.2 746.9 401.3 747.4 385.2 747.8 380.1 748.3 375.5 748.7 374.8 749.2 369.6 749.6 366.9 750.1 361.4 750.5 361 751 357.7 751.4 358 751.9 350.1 752.3 345.2 752.8 337.2 753.2 334.8 753.7 329.6 754.1 327.2 754.6 322.1 755 320.4 755.5 316.7 755.9 315.4 756.4 311.5 756.8 309.6 757.3 304.3 757.7 298.5 758.2 290.3 758.6 285.3 759.1 274 759.5 268 760 257 760.4 251.3 760.9 241.6 761.3 237.1 761.8 229.1 762.2 225.5 762.7 219.5 763.1 216.3 763.6 209.4 764 198.2 764.5 177.1 764.9 171.9 765.4 166.9 765.8 163.8 766.3 158.6 766.7 156.1 767.2 154.7 767.6 158.1 768.1 155.5 768.5 159.7 769 159.8 769.4 162.2 769.9 163.2 770.3 164.6 770.8 169.7 771.2 174.8 771.7 179.9 772.1 184.7 772.6 185.7 773 186.7 773.5 189.6 773.9 197.1 774.4 204.6 774.8 216.3 775.3 242.7 775.7 264.2 776.2 268.6 776.6 273 777.1 277.4 777.5 284.7 778 302.3 778.4 317.8 778.9 325.6 779.3 334.9 779.8 345.9 780.2 356.9 780.7 367.9 781.1 375.8 781.6 379.7 782 383.7 782.5 387.7 782.9 391.6 783.4 395.6 783.8 418 784.3 426.5 784.7 428.5 785.2 430.5 785.6 432.5 786.1 434.4 786.5 436.4 787 441 787.4 447.7 787.9 454 788.3 461.4 788.8 465.6 789.2 472.3 789.7 474.5 790.1 481.1 790.6 477.7 791 479.7 791.5 475.9 791.9 477.3 792.4 475.4 792.8 481.5 793.3 475.3 793.7 477.2 794.2 474.7 794.6 477.5 795.1 472.9 795.5 478.3 796 472.2 796.4 481.5 796.9 478.3 797.3 486.5 797.8 481.9 798.2 489 798.7 487.1 799.1 493.3 799.6 489.1 800 496.4 800.5 485.1 800.9 485.7 801.4 473.8 801.8 474.2 802.3 462.4 802.7 469.8 803.2 466.1 803.6 474.5 804.1 470.4 804.5 480.6 805 475.2 805.4 486.3 805.9 480 806.3 487.2 806.8 487.1 807.2 498 807.7 493.4 808.1 503.5 808.6 498.4 809 505.7 809.5 495.1 809.9 502.1 810.4 494.3 810.8 499.3 811.3 491.3 811.7 496.8 812.2 487.2 812.6 482 813.1 463.9 813.5 464.9 814 460 814.4 463.4 814.9 455 815.3 461 815.8 455.1 816.2 462.2 816.7 455.5 817.1 460.7 817.6 454.5 818 461.5 818.5 453.9 818.9 459.6 819.4 448.6 819.8 458.4 820.3 451.5 820.7 457.8 821.2 453.4 821.6 457.8 822.1 456.2 822.5 462.1 823 459.3 823.4 466.3 823.9 459 824.3 462.4 824.8 449.1 825.2 451.5 825.7 439.9 826.1 437.1 826.6 420.4 827 431.9 827.5 426.3 827.9 430.5 828.4 427.1 828.8 437.7 829.3 432.2 829.7 440.6 830.2 439.4 830.6 445.6 831.1 444.2 831.5 449.4 832 448.4 832.4 450.6 832.9 447.7 833.3 449.5 833.8 443.5 834.2 442.2 834.7 435.7 835.1 432.3 835.6 424.7 836 420.4 836.5 407.1 836.9 398.8 837.4 384.2 837.8 374.5 838.3 368.4 838.7 365.8 839.2 359.7 839.6 357.6 840.1 353.6 840.5 352.6 841 349.1 841.4 348.1 841.9 340.3 842.3 335.2 842.8 327.4 843.2 323.9 843.7 320.7 844.1 319.9 844.6 316.9 845 316.4 845.5 312.8 845.9 304.3 846.4 294.4 846.8 287.1 847.3 278.4 847.7 271.8 848.2 263 848.6 257.8 849.1 248.7 849.5 247 850 238.1 850.4 233.9 850.9 226.8 851.3 222.2 851.8 215.4 852.2 213.4 852.7 208.2 853.1 206.3 853.6 202.4 854 189.2 854.5 167.8 854.9 165.2 855.4 159.8 855.8 159.3 856.3 155.9 856.7 154.6 857.2 150.5 857.6 152.9 858.1 153.5 858.5 156.6 859 157.8 859.4 159.2 859.9 160.7 860.3 162.2 860.8 163.6 861.2 165.1 861.7 166.9 862.1 171.3 862.6 176.7 863 189.9 863.5 203.1 863.9 214.3 864.4 223.1 864.8 231.9 865.3 240.7 865.7 252.6 866.2 268.5 866.6 283.7 867.1 296.9 867.5 310.1 868 322.7 868.4 334.7 868.9 355.8 869.3 369 869.8 374.6 870.2 380.3 870.7 386.7 871.1 393.7 871.6 400.7 872 407.6 872.5 416 872.9 424.8 873.4 428.5 873.8 430.7 874.3 432.9 874.7 435.1 875.2 439.2 875.6 443.9 876.1 448.5 876.5 453.2 877 468.1 877.4 483.3 877.9 482.5 878.3 485.1 878.8 480.1 879.2 481.1 879.7 476.3 880.1 476.4 880.6 470.6 881 471.1 881.5 464.2 881.9 468.5 882.4 460.1 882.8 469.5 883.3 465.1 883.7 470.2 884.2 465.9 884.6 474.4 885.1 469.1 885.5 478.3 886 475.6 886.4 482.2 886.9 478.7 887.3 489 887.8 479.6 888.2 481.4 888.7 472.5 889.1 478.9 889.6 469.5 890 478.2 890.5 463 890.9 470.1 891.4 463.6 891.8 475.3 892.3 464.9 892.7 473.9 893.2 463.2 893.6 485.3 894.1 474.6 894.5 485.1 895 481.4 895.4 496 895.9 485.7 896.3 495.4 896.8 488.1 897.2 494.2 897.7 488.6 898.1 494.6 898.6 486.3 899 491.3 899.5 482 899.9 486.7 900.4 479.6 900.8 485.2 901.3 478.1 901.7 468.6 902.2 449.5 902.6 454.7 903.1 449.2 903.5 454.1 904 446.2 904.4 451.2 904.9 446.4 905.3 450.6 905.8 441.1 906.2 449.7 906.7 437.5 907.1 446.2 907.6 441.5 908 445.7 908.5 441.6 908.9 445.5 909.4 441.2 909.8 446.4 910.3 441.7 910.7 453.4 911.2 448 911.6 457.4 912.1 454.7 912.5 457.8 913 447.9 913.4 448.5 913.9 439.5 914.3 438.8 914.8 429.5 915.2 430 915.7 418.9 916.1 420.3 916.6 418.3 917 430.4 917.5 422.7 917.9 435 918.4 437.1 918.8 449.7 919.3 445.8 919.7 453.6 920.2 444.8 920.6 449.9 921.1 447.6 921.5 449.6 922 441.7 922.4 438.7 922.9 432.1 923.3 431 923.8 425.8 924.2 426.8 924.7 423.2 925.1 415.8 925.6 397.1 926 377.2 926.5 367.7 926.9 366.1 927.4 361.8 927.8 360.5 928.3 356.6 928.7 356.8 929.2 352.7 929.6 351.6 930.1 347.3 930.5 341.7 931 326.1 931.4 319.9 931.9 312.4 932.3 312.4 932.8 310.4 933.2 310.6 933.7 308 934.1 308.9 934.6 307.2 935 303.9 935.5 295.9 935.9 291.9 936.4 280.7 936.8 273.1 937.3 261.4 937.7 256.7 938.2 246 938.6 239.6 939.1 230.1 939.5 227.7 940 223.2 940.4 220.5 940.9 213.7 941.3 205.2 941.8 194.4 942.2 184.8 942.7 174 943.1 166.6 943.6 162.7 944 162.1 944.5 158.2 944.9 158.1 945.4 153.7 945.8 156 946.3 153.9 946.7 158.4 947.2 155 947.6 162.2 948.1 162.6 948.5 174 949 174.6 949.4 183.1 949.9 177.3 950.3 183.1 950.8 178.9 951.2 185.1" fill="none" stroke="#000" stroke-width="3.6" stroke-linejoin="miter" stroke-miterlimit="3"/>
<path d="M238.4 932.4L238.8 929.4 239.3 926.8 239.7 924.3 240.2 925.5 240.6 928.2 241.1 931 241.5 933.7 242 936.4 242.4 936.8 242.9 932.3 243.3 927.7 243.8 923.5 244.2 920.1 244.7 918.1 245.1 913.1 245.6 912 246 911.6 246.5 915.5 246.9 912.4 247.4 918 247.8 911 248.3 921.8 248.7 911.5 249.2 916.2 249.6 908.5 250.1 919.2 250.5 907.3 251 917.6 251.4 906.7 251.9 915.7 252.3 908.4 252.8 920.6 253.2 917 253.7 927.7 254.1 919.7 254.6 924.7 255 913.7 255.5 909.8 255.9 901 256.4 902.4 256.8 894.4 257.3 895.4 257.7 889 258.2 891.7 258.6 882.3 259.1 892.7 259.5 891.2 260 901.4 260.4 897.2 260.9 910.5 261.3 894.6 261.8 886.9 262.2 870.1 262.7 873 263.1 870.5 263.6 872.5 264 867.9 264.5 870.7 264.9 863.8 265.4 864 265.8 858.5 266.3 858 266.7 851.6 267.2 852 267.6 847 268.1 847 268.5 842.5 269 843.1 269.4 838.6 269.9 839.5 270.3 837 270.8 838.1 271.2 835.3 271.7 829.2 272.1 811.1 272.6 801 273 795.3 273.5 793.1 273.9 787 274.4 784.5 274.8 777.4 275.3 774.8 275.7 766.5 276.2 764.4 276.6 756.6 277.1 752.4 277.5 742.9 278 738.8 278.4 731.5 278.9 730.7 279.3 725.2 279.8 724.1 280.2 720.2 280.7 719.3 281.1 715.6 281.6 716.5 282 701.4 282.5 691.4 282.9 682.7 283.4 680.9 283.8 677.3 284.3 679.9 284.7 674.8 285.2 674.8 285.6 669.2 286.1 671.9 286.5 661.2 287 657 287.4 651.5 287.9 652.1 288.3 648.1 288.8 649.2 289.2 640.5 289.7 635.8 290.1 625.5 290.6 629.9 291 624.3 291.5 626 291.9 621.6 292.4 623.9 292.8 616.4 293.3 618.8 293.7 609.5 294.2 610.6 294.6 602.2 295.1 605.2 295.5 601.2 296 603.5 296.4 603.9 296.9 609.5 297.3 611.3 297.8 614.1 298.2 614.4 298.7 616.6 299.1 617.4 299.6 618.7 300 621.8 300.5 624.8 300.9 627.9 301.4 630.9 301.8 634 302.3 640.2 302.7 646.8 303.2 653.4 303.6 660 304.1 669.8 304.5 680 305 690.3 305.4 701.4 305.9 719 306.3 735.7 306.8 745.4 307.2 755.1 307.7 764.9 308.1 774.6 308.6 782.9 309 789.5 309.5 796 309.9 802.6 310.4 808.7 310.8 813.4 311.3 818 311.7 822.6 312.2 873.1 312.6 875.7 313.1 878.3 313.5 880.9 314 883.5 314.4 890 314.9 896.4 315.3 902.9 315.8 909.4 316.2 916 316.7 922.6 317.1 929.2 317.6 935.7 318 939.1 318.5 941.9 318.9 943.8 319.4 947.1 319.8 948.4 320.3 947.6 320.7 943.5 321.2 943.7 321.6 939.1 322.1 942.2 322.5 940.7 323 944.2 323.4 938.8 323.9 944.4 324.3 940.3 324.8 939.1 325.2 929.4 325.7 940.2 326.1 923.7 326.6 928.4 327 922.8 327.5 927.3 327.9 920.8 328.4 926.3 328.8 923.2 329.3 933 329.7 929.4 330.2 939 330.6 931.9 331.1 948.6 331.5 936.4 332 940.7 332.4 935.7 332.9 946.5 333.3 946.1 333.8 953.2 334.2 952.8 334.7 957.4 335.1 953.6 335.6 956.4 336 937.6 336.5 941.7 336.9 928.2 337.4 927.2 337.8 915.2 338.3 911.6 338.7 900.5 339.2 911.8 339.6 903.9 340.1 911.9 340.5 908.7 341 916.7 341.4 914.6 341.9 920.2 342.3 910.9 342.8 915.1 343.2 901 343.7 914.4 344.1 899.3 344.6 910.1 345 905.7 345.5 920.7 345.9 919 346.4 925.4 346.8 922.5 347.3 931.9 347.7 922.2 348.2 919.1 348.6 909.9 349.1 905.6 349.5 895.4 350 894.5 350.4 888.3 350.9 890.6 351.3 887.5 351.8 893.5 352.2 893.1 352.7 898.8 353.1 898.3 353.6 895.5 354 888.7 354.5 889.2 354.9 879.6 355.4 871.5 355.8 859.7 356.3 850.8 356.7 846.9 357.2 845.7 357.6 841.6 358.1 839.3 358.5 832.9 359 831 359.4 824.4 359.9 823.9 360.3 817.5 360.8 816.7 361.2 809.5 361.7 810.5 362.1 805 362.6 808.1 363 803.6 363.5 799.2 363.9 789.3 364.4 782.5 364.8 763 365.3 751.8 365.7 742.1 366.2 741.7 366.6 738.7 367.1 740.6 367.5 735.2 368 736.2 368.4 731.4 368.9 730.6 369.3 723.2 369.8 726.3 370.2 717.6 370.7 713.6 371.1 706.2 371.6 704.9 372 701 372.5 696.9 372.9 687.8 373.4 683.6 373.8 671.4 374.3 665.2 374.7 659.6 375.2 658.8 375.6 654.9 376.1 655.9 376.5 650.9 377 650.5 377.4 643.6 377.9 645 378.3 636 378.8 635.1 379.2 630.4 379.7 630.6 380.1 625.3 380.6 625.9 381 616.6 381.5 617.3 381.9 608.6 382.4 609.3 382.8 606.1 383.3 614.4 383.7 608.7 384.2 614.3 384.6 611.9 385.1 619.6 385.5 616.6 386 619 386.4 615 386.9 614.4 387.3 611.8 387.8 610.9 388.2 610 388.7 614.2 389.1 623.5 389.6 632.8 390 642.1 390.5 650.1 390.9 658 391.4 665.9 391.8 673.9 392.3 681.8 392.7 689.7 393.2 696.8 393.6 703.8 394.1 710.8 394.5 717.7 395 724.3 395.4 730.9 395.9 737.5 396.3 744.8 396.8 757.5 397.2 770.1 397.7 783.1 398.1 797 398.6 805.9 399 814.2 399.5 829.3 399.9 847.8 400.4 855.2 400.8 856.9 401.3 858.7 401.7 860.5 402.2 862.2 402.6 863.8 403.1 864.9 403.5 874.8 404 884.8 404.4 894.7 404.9 906.4 405.3 920.2 405.8 930.8 406.2 937.4 406.7 944 407.1 950.4 407.6 956.2 408 954.8 408.5 958.1 408.9 957.3 409.4 955.7 409.8 944.7 410.3 939.7 410.7 928.4 411.2 924.4 411.6 920.3 412.1 927.1 412.5 919.3 413 922.9 413.4 924 413.9 933.7 414.3 930.5 414.8 938.4 415.2 931.5 415.7 946.7 416.1 935.2 416.6 944.6 417 930.7 417.5 943 417.9 930.2 418.4 943.2 418.8 933.3 419.3 945.2 419.7 942.1 420.2 959.2 420.6 945.9 421.1 948.5 421.5 936.7 422 938.9 422.4 929.2 422.9 932.1 423.3 922.4 423.8 928.6 424.2 920.9 424.7 931 425.1 929.4 425.6 936.9 426 934.5 426.5 949.5 426.9 936.2 427.4 942.1 427.8 928.4 428.3 927 428.7 915.6 429.2 914.9 429.6 905.5 430.1 912.3 430.5 903.4 431 912.6 431.4 907.2 431.9 917.7 432.3 919.3 432.8 929 433.2 930.3 433.7 939.9 434.1 933.8 434.6 933.8 435 926.4 435.5 925.2 435.9 917.7 436.4 917.9 436.8 905.8 437.3 907.5 437.7 902.1 438.2 906.1 438.6 898.2 439.1 898.5 439.5 892.9 440 892.6 440.4 886 440.9 886.1 441.3 879.6 441.8 880.7 442.2 874.9 442.7 877.4 443.1 870.2 443.6 871.2 444 861.7 444.5 858.8 444.9 848.9 445.4 846 445.8 837.5 446.3 834.3 446.7 831.1 447.2 839.1 447.6 836.1 448.1 843.2 448.5 837.2 449 831.8 449.4 820.9 449.9 816.7 450.3 810.9 450.8 814 451.2 808.1 451.7 809.5 452.1 797.2 452.6 786.2 453 777.9 453.5 776.9 453.9 770.6 454.4 767.6 454.8 761.1 455.3 756.7 455.7 748.6 456.2 743 456.6 740.5 457.1 741.4 457.5 738.9 458 738.3 458.4 732.5 458.9 730.7 459.3 725.2 459.8 711 460.2 691.3 460.7 689 461.1 685.5 461.6 684.5 462 680 462.5 675 462.9 665.3 463.4 662.6 463.8 654.8 464.3 654.1 464.7 650.6 465.2 653.2 465.6 649.7 466.1 654.2 466.5 647 467 642.5 467.4 631.6 467.9 623.8 468.3 606.8 468.8 613.3 469.2 605.6 469.7 617.4 470.1 615.9 470.6 621.8 471 622 471.5 628.7 471.9 625.6 472.4 628 472.8 620.4 473.3 623.8 473.7 616 474.2 614.7 474.6 607.3 475.1 604.7 475.5 605.2 476 612.7 476.4 615.1 476.9 624.1 477.3 630.5 477.8 637.1 478.2 634.1 478.7 631.5 479.1 628.7 479.6 627.9 480 628.4 480.5 629 480.9 644.2 481.4 659.5 481.8 673.1 482.3 673.9 482.7 674.7 483.2 675.5 483.6 684 484.1 693.3 484.5 705.5 485 717.7 485.4 729.9 485.9 742 486.3 754.2 486.8 765.7 487.2 776.4 487.7 789.2 488.1 803.1 488.6 817 489 830.9 489.5 837.8 489.9 841.2 490.4 844.6 490.8 847.1 491.3 848.5 491.7 854.4 492.2 861.5 492.6 868.6 493.1 876.4 493.5 885.1 494 893.9 494.4 902.6 494.9 913.4 495.3 931.2 495.8 945 496.2 944.9 496.7 944.9 497.1 944.8 497.6 945 498 944.3 498.5 944.9 498.9 948.3 499.4 955.6 499.8 957.5 500.3 964.4 500.7 952.9 501.2 951.2 501.6 944.5 502.1 941.6 502.5 934.7 503 939.5 503.4 937.6 503.9 946.5 504.3 939.9 504.8 947 505.2 937.8 505.7 947.8 506.1 934.4 506.6 938.2 507 924.4 507.5 927 507.9 915.8 508.4 918.1 508.8 910.4 509.3 914 509.7 908.1 510.2 915.3 510.6 905.4 511.1 916.3 511.5 908.6 512 920.9 512.4 912.1 512.9 919.4 513.3 908.8 513.8 924.5 514.2 912.9 514.7 922.3 515.1 913.9 515.6 923.2 516 917.4 516.5 925.2 516.9 918 517.4 922.1 517.8 918.3 518.3 932.5 518.7 923.4 519.2 933.7 519.6 929.9 520.1 936.7 520.5 931.7 521 935.5 521.4 928.1 521.9 929.9 522.3 923.9 522.8 930.7 523.2 921 523.7 923.1 524.1 917 524.6 918.4 525 908.8 525.5 912.1 525.9 901.5 526.4 906.5 526.8 901.5 527.3 902.4 527.7 900 528.2 906.8 528.6 906.2 529.1 912.9 529.5 912.3 530 915.5 530.4 910.9 530.9 911.8 531.3 905.8 531.8 900.6 532.2 890.5 532.7 886.3 533.1 858.6 533.6 858.5 534 849 534.5 845.2 534.9 841.8 535.4 841.8 535.8 836.5 536.3 837.3 536.7 831.9 537.2 829.8 537.6 824.6 538.1 822.5 538.5 818.4 539 820.3 539.4 816.9 539.9 819.1 540.3 816.2 540.8 812.6 541.2 805.1 541.7 801.6 542.1 786.1 542.6 772.7 543 760.5 543.5 760.2 543.9 757 544.4 757.1 544.8 753.7 545.3 753.9 545.7 747.9 546.2 737.3 546.6 728.4 547.1 728.6 547.5 725.7 548 727 548.4 722.3 548.9 714 549.3 703.3 549.8 697.6 550.2 688.5 550.7 689 551.1 685.5 551.6 686 552 677.1 552.5 668.8 552.9 659.2 553.4 654.4 553.8 645.1 554.3 640.1 554.7 632.3 555.2 630.9 555.6 625.1 556.1 622.1 556.5 617.9 557 619 557.4 615 557.9 615.4 558.3 611 558.8 612.5 559.2 608.8 559.7 611.7 560.1 604.3 560.6 606.1 561 600.1 561.5 603.2 561.9 603.3 562.4 609.3 562.8 607.7 563.3 614.6 563.7 617.9 564.2 625.8 564.6 628.1 565.1 629.4 565.5 627.6 566 628.8 566.4 628.2 566.9 629.8 567.3 630.1 567.8 633.3 568.2 638.4 568.7 643.7 569.1 649 569.6 654.4 570 660 570.5 665.6 570.9 671.1 571.4 681.8 571.8 695 572.3 703.8 572.7 708.9 573.2 710.9 573.6 713 574.1 715 574.5 717.1 575 719.1 575.4 722.8 575.9 729.9 576.3 757.3 576.8 787.7 577.2 799.2 577.7 810.8 578.1 822.3 578.6 832 579 840.8 579.5 849.6 579.9 858.3 580.4 868 580.9 878.9 581.3 889.8 581.8 895.2 582.2 896.2 582.7 897.3 583.1 898.3 583.6 899.4 584 901.7 584.5 908.7 584.9 915.6 585.4 922.4 585.8 928.6 586.3 929.7 586.7 932.6 587.2 929.9 587.6 930.1 588.1 924.2 588.5 926.9 589 925.5 589.4 929.4 589.9 926.3 590.3 936.1 590.8 942.7 591.2 946.4 591.7 937.4 592.1 942.3 592.6 935.3 593 941 593.5 935.4 593.9 943 594.4 944.4 594.8 953.9 595.3 950.8 595.7 965.8 596.2 956.3 596.6 968.3 597.1 950.8 597.5 961.1 598 950.1 598.4 952.2 598.9 944.8 599.3 949.5 599.8 935.4 600.2 942.3 600.7 924.2 601.1 923.6 601.6 913.4 602 919.8 602.5 907.7 602.9 921 603.4 915.9 603.8 925.3 604.3 921.8 604.7 926.2 605.2 917.1 605.6 928.7 606.1 924.5 606.5 929.5 607 920.2 607.4 930.6 607.9 923.3 608.3 926.2 608.8 920.8 609.2 929 609.7 926.5 610.1 934.6 610.6 934.2 611 939.6 611.5 937 611.9 943.3 612.4 939.5 612.8 944.4 613.3 929.2 613.7 925.8 614.2 908.1 614.6 907.9 615.1 900.6 615.5 901.4 616 891.1 616.4 895.4 616.9 893.1 617.3 896.8 617.8 894.3 618.2 898.9 618.7 893.3 619.1 901.4 619.6 900.2 620 904.4 620.5 895.4 620.9 893.1 621.4 882.5 621.8 883.8 622.3 875.9 622.7 874.1 623.2 867.1 623.6 866.2 624.1 859.4 624.5 858.1 625 853.1 625.4 852.1 625.9 844.9 626.3 842.8 626.8 835.6 627.2 836.9 627.7 832.5 628.1 827.3 628.6 811.8 629 804.5 629.5 793.5 629.9 794.4 630.4 788.8 630.8 788.3 631.3 781.5 631.7 780.3 632.2 774.3 632.6 772.2 633.1 766.3 633.5 763.6 634 758.7 634.4 759.1 634.9 754.9 635.3 756 635.8 751.8 636.2 752.2 636.7 740.8 637.1 736.4 637.6 726.3 638 722.4 638.5 713.9 638.9 709.4 639.4 699.9 639.8 696.1 640.3 686.5 640.7 684.3 641.2 680.1 641.6 679.7 642.1 675.4 642.5 671.8 643 663.1 643.4 659.6 643.9 648.6 644.3 646.7 644.8 636.7 645.2 639.3 645.7 636.4 646.1 638.7 646.6 636.3 647 639.4 647.5 635.8 647.9 636.7 648.4 631.2 648.8 631.7 649.3 626.6 649.7 622.4 650.2 610.4 650.6 614.2 651.1 609.2 651.5 616.8 652 607.9 652.4 611.1 652.9 608.3 653.3 611.7 653.8 610 654.2 613 654.7 612.5 655.1 615.8 655.6 618.6 656 622.7 656.5 624.2 656.9 625.8 657.4 627.1 657.8 628.4 658.3 635.4 658.7 646.8 659.2 655 659.6 660.6 660.1 666.2 660.5 671.8 661 681.2 661.4 691.8 661.9 702 662.3 712.2 662.8 722.4 663.2 732.4 663.7 742.3 664.1 752.2 664.6 755.7 665 759.2 665.5 762.7 665.9 766.2 666.4 773.3 666.8 780.3 667.3 790.3 667.7 806.3 668.2 819.2 668.6 825.7 669.1 832.3 669.5 838.9 670 845.7 670.4 855 670.9 864.2 671.3 873.5 671.8 882.4 672.2 889 672.7 895.6 673.1 902.1 673.6 908.7 674 924.2 674.5 940.9 674.9 942.7 675.4 942.7 675.8 942.8 676.3 942.6 676.7 942.6 677.2 941.9 677.6 942.3 678.1 942.7 678.5 946.7 679 946.6 679.4 950.5 679.9 950 680.3 954.3 680.8 953.4 681.2 959.1 681.7 957.5 682.1 961.6 682.6 953.3 683 963.9 683.5 956.8 683.9 961.5 684.4 951 684.8 955 685.3 945.6 685.7 946.9 686.2 933.2 686.6 932.9 687.1 915.8 687.5 924.9 688 919.2 688.4 924 688.9 923.1 689.3 930.8 689.8 927.4 690.2 933.1 690.7 927 691.1 931.7 691.6 923.2 692 925.3 692.5 915.7 692.9 926.7 693.4 923.6 693.8 931 694.3 928.1 694.7 935.4 695.2 930 695.6 935.5 696.1 929.3 696.5 931.6 697 926.8 697.4 930.2 697.9 921.5 698.3 925.5 698.8 919.6 699.2 921.9 699.7 915.6 700.1 919 700.6 914.5 701 918.9 701.5 914.4 701.9 922.2 702.4 921.7 702.8 930.2 703.3 923.8 703.7 922.5 704.2 910.1 704.6 909.7 705.1 901.5 705.5 903.6 706 891.4 706.4 891.9 706.9 885.1 707.3 889.5 707.8 881.5 708.2 884.8 708.7 872.2 709.1 869 709.6 863.5 710 865.5 710.5 859.8 710.9 861.5 711.4 854.7 711.8 859 712.3 854.1 712.7 859.9 713.2 860.9 713.6 868.8 714.1 872.3 714.5 869.4 715 862.3 715.4 852.7 715.9 838.1 716.3 832.5 716.8 830.5 717.2 832.2 717.7 832 718.1 836.6 718.6 828 719 821.2 719.5 810.7 719.9 803.1 720.4 791.7 720.8 780.3 721.3 767.6 721.7 767.4 722.2 763.3 722.6 763.8 723.1 754 723.5 745.2 724 737.7 724.4 738.4 724.9 735.5 725.3 736.1 725.8 729.5 726.2 724.2 726.7 715.3 727.1 711.6 727.6 708.4 728 709.1 728.5 700 728.9 693.3 729.4 689.1 729.8 690.7 730.3 686 730.7 687.6 731.2 683.4 731.6 685 732.1 676.5 732.5 674.5 733 660.8 733.4 653 733.9 648.9 734.3 648.8 734.8 645.2 735.2 644.2 735.7 626.1 736.1 622.1 736.6 617.5 737 620.2 737.5 617.3 737.9 621.8 738.4 616 738.8 621.7 739.3 618.6 739.7 624.1 740.2 625.4 740.6 635.8 741.1 635.6 741.5 634.7 742 626.4 742.4 624.2 742.9 616.9 743.3 620 743.8 618.4 744.2 623.4 744.7 624.7 745.1 628.7 745.6 631.1 746 633.1 746.5 633.5 746.9 634.1 747.4 634.7 747.8 635.3 748.3 635.9 748.7 648.5 749.2 662.6 749.6 673.4 750.1 683.8 750.5 694.1 751 698.9 751.4 703.6 751.9 708.3 752.3 712.9 752.8 718 753.2 727.2 753.7 736.3 754.1 749.5 754.6 777 755 789.3 755.5 799.7 755.9 810.1 756.4 819.3 756.8 826.2 757.3 833.2 757.7 840.1 758.2 846.7 758.6 852.5 759.1 859 759.5 870.9 760 882.7 760.4 894.6 760.9 895.5 761.3 896.4 761.8 897.2 762.2 898.1 762.7 906.3 763.1 916.5 763.6 926.8 764 944.3 764.5 962.8 764.9 965 765.4 964.6 765.8 965.3 766.3 964.6 766.7 961.5 767.2 954.3 767.6 950.9 768.1 942.4 768.5 943.1 769 938.9 769.4 943 769.9 937.6 770.3 943.7 770.8 941.5 771.2 950.4 771.7 946 772.1 953.6 772.6 949.3 773 956.1 773.5 949.5 773.9 957.6 774.4 947.4 774.8 949.1 775.3 939.6 775.7 940.5 776.2 934.4 776.6 937.3 777.1 931.6 777.5 937.7 778 928 778.4 933.7 778.9 925.2 779.3 929.9 779.8 926.1 780.2 928.8 780.7 919.6 781.1 913.6 781.6 899.5 782 894.3 782.5 888.2 782.9 893.7 783.4 887.3 783.8 897.8 784.3 894.5 784.7 906.7 785.2 908.6 785.6 918.2 786.1 908.8 786.5 912.3 787 906.3 787.4 910.9 787.9 905.7 788.3 914.4 788.8 909.6 789.2 917.1 789.7 912.2 790.1 925.3 790.6 914.2 791 917 791.5 907.5 791.9 910.7 792.4 905.7 792.8 910.5 793.3 906.9 793.7 911.3 794.2 905.1 794.6 909.6 795.1 904.3 795.5 907.5 796 903.6 796.4 900.9 796.9 891.7 797.3 890.5 797.8 876.6 798.2 871 798.7 857.4 799.1 862.2 799.6 855.7 800 860.5 800.5 857.5 800.9 860.9 801.4 861 801.8 865.1 802.3 861.2 802.7 860.3 803.2 853.9 803.6 854.3 804.1 847.9 804.5 849.7 805 843 805.4 838.8 805.9 831.6 806.3 828.3 806.8 819 807.2 812.4 807.7 801.9 808.1 801.2 808.6 791.7 809 788.7 809.5 781.9 809.9 779.4 810.4 770.7 810.8 768.3 811.3 760.6 811.7 760.1 812.2 750.4 812.6 749 813.1 742.1 813.5 737.5 814 728.4 814.4 724.7 814.9 716.1 815.3 715.6 815.8 710.8 816.2 713.5 816.7 711 817.1 708.9 817.6 702.3 818 699.7 818.5 693.3 818.9 690.4 819.4 683.3 819.8 682.7 820.3 679.2 820.7 678.8 821.2 674.7 821.6 673.8 822.1 668.9 822.5 668.2 823 661.3 823.4 656 823.9 641.4 824.3 637.7 824.8 626.6 825.2 629.7 825.7 625.2 826.1 628.1 826.6 623.9 827 623.2 827.5 614.5 827.9 614.2 828.4 606.3 828.8 606.2 829.3 599.4 829.7 601.1 830.2 597.3 830.6 598.7 831.1 595.7 831.5 600.2 832 604.2 832.4 616.1 832.9 619.1 833.3 622.3 833.8 622.3 834.2 623.6 834.7 629 835.1 636.3 835.6 641.9 836 647.2 836.5 652.5 836.9 657.7 837.4 664.6 837.8 672 838.3 679.3 838.7 687.5 839.2 696.1 839.6 704.7 840.1 705.6 840.5 706.5 841 707.3 841.4 708.2 841.9 728 842.3 745.4 842.8 754.2 843.2 762.5 843.7 769 844.1 775.6 844.6 786.2 845 804.7 845.5 818.9 845.9 824.6 846.4 830.3 846.8 835.9 847.3 841.4 847.7 844.6 848.2 847.9 848.6 851.1 849.1 856.1 849.5 874.6 850 891.5 850.4 895.8 850.9 900.2 851.3 904.6 851.8 908.9 852.2 915.6 852.7 922.5 853.1 929.5 853.6 936.4 854 943.1 854.5 949.2 854.9 953.2 855.4 954.7 855.8 959.1 856.3 960.2 856.7 961.5 857.2 957.4 857.6 958.3 858.1 952 858.5 954.5 859 947.1 859.4 948.9 859.9 939.5 860.3 942.8 860.8 935.4 861.2 944.8 861.7 938.5 862.1 944.6 862.6 942.3 863 950.4 863.5 948.5 863.9 951.1 864.4 942.4 864.8 946.8 865.3 935.8 865.7 940 866.2 931.4 866.6 934.4 867.1 922.3 867.5 929.2 868 920.4 868.4 918.4 868.9 907.6 869.3 907.8 869.8 897.6 870.2 906.2 870.7 900.4 871.1 909.8 871.6 906.3 872 917.4 872.5 905.8 872.9 911.5 873.4 905.9 873.8 914.3 874.3 912.7 874.7 922.4 875.2 916.9 875.6 928.7 876.1 925.3 876.5 933 877 928.4 877.4 933.8 877.9 922.2 878.3 935.8 878.8 925.2 879.2 938.2 879.7 931.5 880.1 939.9 880.6 934.1 881 944.8 881.5 934.2 881.9 935.2 882.4 928.7 882.8 928.7 883.3 924.5 883.7 926.7 884.2 920 884.6 922.9 885.1 913.7 885.5 911.5 886 903.2 886.4 900.1 886.9 895.9 887.3 897 887.8 889.8 888.2 889.4 888.7 881 889.1 878.7 889.6 872.6 890 870.5 890.5 868.7 890.9 870.9 891.4 868.7 891.8 868.8 892.3 864.2 892.7 863.5 893.2 860.3 893.6 857.2 894.1 849.9 894.5 846 895 837.8 895.4 832.7 895.9 823.1 896.3 815.7 896.8 802.5 897.2 794.6 897.7 787.6 898.1 784.9 898.6 778.4 899 774.1 899.5 767.2 899.9 763.3 900.4 755.5 900.8 752.5 901.3 749.8 901.7 750 902.2 745.4 902.6 743.5 903.1 738.7 903.5 737.9 904 727.4 904.4 711.4 904.9 701.8 905.3 703.4 905.8 701.3 906.2 702.7 906.7 700.2 907.1 703.3 907.6 700.1 908 705.3 908.5 698 908.9 692.9 909.4 683.3 909.8 679.1 910.3 668.3 910.7 663 911.2 657.4 911.6 655.5 912.1 650.5 912.5 651 913 646.9 913.4 637.7 913.9 624.1 914.3 615.6 914.8 612.8 915.2 615.6 915.7 611.3 916.1 615.6 916.6 608.4 917 608.1 917.5 601.4 917.9 602.2 918.4 597.5 918.8 605.9 919.3 606.2 919.7 615.8 920.2 614.2 920.6 620 921.1 621.3 921.5 624.2 922 624.1 922.4 627.7 922.9 627.9 923.3 631.5 923.8 631.4 924.2 632.9 924.7 632.7 925.1 633.9 925.6 634.9 926 636 926.5 637.2 926.9 641.3 927.4 649.2 927.8 657.1 928.3 687.3 928.7 700.9 929.2 703.1 929.6 705.3 930.1 707.5 930.5 714.4 931 723.7 931.4 733 931.9 742.4 932.3 751.2 932.8 760 933.2 770.5 933.7 780.7 934.1 787.3 934.6 793.9 935 800.4 935.5 807 935.9 813.9 936.4 820.8 936.8 827.8 937.3 834.7 937.7 847.8 938.2 861.7 938.6 871 939.1 879.7 939.5 888.4 940 897.2 940.4 902.3 940.9 905.5 941.3 908.8 941.8 912 942.2 921.1 942.7 933.1 943.1 943.8 943.6 953.8 944 959.9 944.5 960.8 944.9 963 945.4 963.5 945.8 966.3 946.3 965.3 946.7 968.8 947.2 969.3 947.6 968.5 948.1 963.1 948.5 963.9 949 956.5 949.4 958 949.9 951.3 950.3 952.7 950.8 949.6 951.2 954.8 951.7 951.7" fill="none" stroke="#008537" stroke-width="3.6" stroke-linejoin="miter" stroke-miterlimit="3"/>
<path d="M237.6 739.8L237.6 933.5 238 934 239.9 923.5 242.3 938.3 243.7 924.2 245.5 910.9 247.7 917.2 250.4 908.5 252 909.4 254.1 928.8 255.7 905.7 258 888.4 259.4 890.9 260.9 910 262.2 872.5 264.1 870.6 265.9 859.5 267.8 846.6 269.6 839.2 271.5 835.5 272.4 802.2 274.2 785.5 276.4 761 278.2 734.6 279.9 722.3 281.7 713.5 282.5 690.6 283.4 680 286.1 671.2 286.9 655.4 288 649.8 289 646.9 289.9 630.8 291.7 623.7 293.1 618.4 294.5 606.1 295.9 601 297.2 611.4 298.9 616.8 299.5 618.3 301.9 634.3 303.7 660.7 305.4 699.4 306.3 734.6 308.4 780 310.3 807.7 312.1 826.2 312.1 872.5 314 883.5 315.8 909.4 317.7 937.2 319.8 949 321.4 940.9 324.2 942.7 326 927.9 328.2 923 330.8 939.1 332.4 939.7 334.3 955.7 335.5 955.8 338.6 904.2 339.9 905.7 341.6 919.8 344.4 902.1 346.3 924.2 347.6 925 350.2 889.1 351.3 888.9 353.1 899.3 354.8 883.5 356.3 850.3 357.6 842.9 359.4 826.2 361.3 811.4 363.1 804 364.3 785 365.5 743.4 368.2 734.6 369.9 722.3 371.3 705.4 372.1 702 373.4 681.8 374.3 664.2 375.6 655.7 376.5 652.8 379 631.9 380.1 627.6 382.4 606.9 384 611.4 385.8 618.7 387.5 611.4 388.5 609.6 390.1 643.1 391 658.9 392.8 690.6 394.5 717 396.3 743.4 397.6 780 398.2 798.5 399.2 817 400.1 854 402.5 863.3 403.1 864.9 404.7 900.2 405.6 927.9 407.5 955.7 409.2 958.2 411.2 922.4 412.9 920.7 415.2 940.6 417.3 935.2 418.6 935.3 420.4 951.6 422.3 931.6 424.3 923.7 426 939 427.3 941.9 429.3 909.4 431.5 909.4 433.6 938.2 435.2 927.9 437.1 905 438.4 903.1 439.9 890.9 441.7 879.9 443.6 868.8 445 850.3 446.4 831.1 447.2 835.5 448.4 843.6 449.7 817 451.9 805.9 452.6 785 455 761 456.2 741.7 457.6 739.7 459.4 725.8 460.3 690.6 462 681.8 463.8 655.4 464.7 651.7 466.1 653.2 467.3 637.8 468.2 611.4 469.2 607.7 470.5 620.2 471.9 629.6 473.5 620.2 475.1 602.9 476.5 616.7 477.7 637.4 479.3 627.6 480.5 629 481.8 673 483.2 675.5 484 690.6 485.3 725.8 486.6 761 487.4 780 489.2 835.5 490.6 846.4 491.4 848.8 492.9 872.5 494.8 909.4 495.7 945 498.5 944.6 500.1 962.1 502.6 935.4 504 942.7 505.5 946 508.6 912.3 509.9 911.8 511.7 915.1 513.4 915.3 516 920.5 517.9 920.5 520.1 935.2 522.8 923.6 524 921.2 526.2 905.7 527.6 900.4 529.7 914.9 531.2 909.4 532.7 883.5 532.9 863.2 534.5 844.7 536.4 835.5 538.2 820.7 540.4 817 541.9 798.5 542.3 780 543 761 545.6 752.2 546.5 729.3 548.3 725.8 550 690.6 551.8 683.5 552.7 664.2 554.4 637.8 556.2 620.2 558.8 611.4 561.3 600.7 563.2 611.4 564.5 628.7 566.1 628.2 567.6 630.8 569.4 651.9 571.1 673 572 699.4 572.6 708.2 575.3 720.5 576.2 734.6 576.5 780 578.3 826.2 580.2 863.2 581.5 894.6 583.9 900.2 585.7 927.9 586.8 932.2 588.6 925.5 590 927.9 590.9 948 591.8 937.2 593.7 937.2 595.6 962.3 597.7 955.7 599.6 942.7 601.4 916.8 602.6 914.4 604.2 924.2 606.5 927.5 608.6 924.4 611.5 940.9 612.9 940.9 614.4 905.7 616.4 893.6 618.1 896.5 619.9 903.7 621.8 881.7 623.6 863.2 625.5 850.3 626.6 837.6 627.8 833.4 629.2 798.5 631 785.5 633.7 761 636 752.2 637.7 725.8 639.5 699.4 640.4 685.3 642.1 676.5 643.6 655.4 644.8 637.8 647.4 637.8 649.2 629 650.1 613.2 652.7 609.6 654.8 613.2 656.2 623.7 658 629 658.9 651.9 660.6 673 661.5 694.1 662.9 725.8 664.1 752.2 665.9 766.2 667.1 785 668 817 669.9 844.7 671.7 881.7 673.6 909.4 674.5 942.7 676.3 942.7 677.7 941.8 680 952 681.9 959.4 683.6 960.3 685.6 946.4 686.9 922.4 688.4 922.4 690.4 932.2 692.5 920.1 694.8 933.1 696.1 931.6 697.9 924.2 700.2 915.9 701.6 916.8 703 929.3 704.4 909.4 706.3 890.9 708.1 883.5 709 866.9 711.3 856.8 712.7 857.7 714.1 873.4 715 863.2 716.1 831.8 717.4 831.8 718.1 835.6 719.2 817 720.5 789.2 721.1 769.8 722.8 761 723.7 739.8 725.5 734.6 726.9 711.7 728.1 708.2 729 690.6 731.6 683.5 732.5 673 733.4 651.9 735.1 644.8 736 620.2 737.8 617.6 739.5 620.2 741 639 742.7 617.7 743.9 620.2 745.7 632.5 748.3 636 749.2 664.2 750.5 694.1 751.5 704.7 752.7 717 754 743.4 754.6 780 756.2 817 758 844.7 759 857.7 760.4 894.6 762.3 898.3 763.6 927.9 764.5 964.9 766.4 964.9 768.2 942.7 770 939.7 771.9 950.1 773.6 956.5 775.6 939 777.5 931.6 779.1 928.4 780.4 926.9 782.1 891 784 891 785.3 915.9 786.7 909.4 788 908.5 790 919.4 791.9 908.5 793.2 909.4 795.9 905.7 797.4 887.2 798.7 857.7 800 856.8 801.9 864.3 803.3 854 804.6 848 806.5 825 807.4 807.7 808.8 790 810.6 769.8 812.3 752.2 813.7 734.6 815 715.2 816.7 711.7 818.5 694.1 819.4 683.5 821.1 676.5 822.9 664.2 823.8 646.6 824.6 629 825.9 626.2 826.7 624.5 828.3 607.7 829 602.8 830.6 596.5 831.7 599.1 832.6 620.2 834.3 623.7 835.2 637.8 837 658.9 838.4 681.8 839.6 704.7 841.4 708.2 842.2 743.4 843.1 761 844.4 780 845.3 817 847.2 841 849 854 849.9 891 851.8 909.4 853.6 937.2 854.5 950.1 856.5 962 858.2 953.8 860.1 940.9 861.9 940.9 863.7 951.1 865.6 937.2 867.5 927.9 869.9 897.8 871.2 909.4 873.6 909.4 876.5 930 878 931.3 880.9 938.4 882.8 927.9 884.7 920.5 886.4 898.3 887.4 894.6 890 869.9 891.6 869.1 893.4 859.5 895.2 835.5 896.2 817 897.1 794.8 898.5 780 900.7 752 901.6 749.4 903.8 734.6 904.6 703 906.5 701.3 908.1 705.1 909 690.6 910.8 660.7 912.1 651.4 912.9 648 914.3 614.9 916.1 613.2 918.2 598.9 919.6 611.4 920.9 621.6 921.8 624.5 923.6 631.8 924.9 633.3 926.7 637.8 927.9 658.9 928.4 699.4 930.2 708.2 931.9 743.4 932.8 761 933.6 780 935.5 807.7 937.3 835.5 938.2 863.2 940.1 900.1 941.9 913.1 942.8 937.1 943.8 959.3 945.6 964.8 947.2 969.9 950.1 951 951.9 955" fill="none" stroke="#008537" stroke-width="4.1" stroke-linejoin="miter" stroke-miterlimit="60"/>
<g fill="none" stroke="#000" stroke-width="4">
<rect x="166" y="111" width="857" height="449"/>
<rect x="166" y="560" width="857" height="449"/>
</g>
<g font-family="'Liberation Serif', serif" font-size="48" fill="#000">
<text x="126" y="206.8">2</text><text x="126" y="352.9">0</text><text x="126" y="496.9">2</text><text transform="translate(89.4,501.5) scale(1.31,1)">−</text><text x="126" y="679.5">2</text><text x="126" y="830.0">0</text><text x="126" y="978.3">2</text><text transform="translate(89.4,982.9) scale(1.31,1)">−</text><text x="237.6" y="1056.5" text-anchor="middle">0</text><text x="416.2" y="1056.5" text-anchor="middle">0.2</text><text x="594.8" y="1056.5" text-anchor="middle">0.4</text><text x="773.3" y="1056.5" text-anchor="middle">0.6</text><text x="951.9" y="1056.5" text-anchor="middle">0.8</text>
<text x="437.2" y="1120.4" textLength="313.7" lengthAdjust="spacingAndGlyphs">Position in mm</text>
<text transform="translate(48,704.7) rotate(-90)" textLength="379.5" lengthAdjust="spacingAndGlyphs">Topography in µm</text>
</g>
<rect x="291.5" y="16.65" width="606.3" height="77.1" fill="#fff" stroke="#000" stroke-width="2"/>
<line x1="307.1" y1="55.2" x2="387.9" y2="55.2" stroke="#000" stroke-width="3.9"/>
<line x1="542.5" y1="55.3" x2="622.9" y2="55.3" stroke="#008537" stroke-width="3.9"/>
<g font-family="'Liberation Serif', serif" font-size="48" fill="#000">
<text x="419.2" y="67.9" textLength="91.65" lengthAdjust="spacingAndGlyphs">Real</text>
<text x="652.1" y="67.9" textLength="221.7" lengthAdjust="spacingAndGlyphs">Simulation</text>
</g>
</svg></body></html>
